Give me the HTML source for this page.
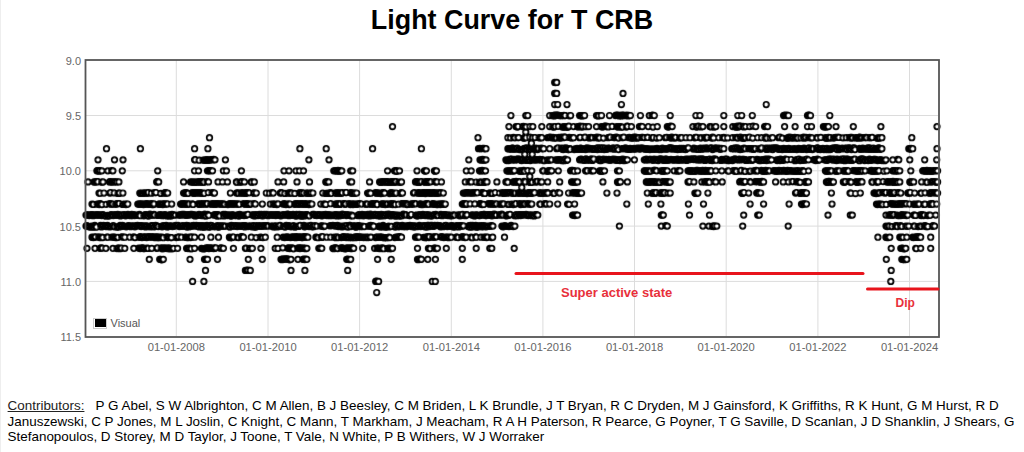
<!DOCTYPE html>
<html><head><meta charset="utf-8"><style>
html,body{margin:0;padding:0;background:#fff;}
body{width:1024px;height:452px;position:relative;overflow:hidden;font-family:'Liberation Sans',sans-serif;}
</style></head><body>
<div style="position:absolute;left:0;top:0;width:1px;height:452px;background:#eee"></div>
<svg width="1024" height="452" style="position:absolute;left:0;top:0"><defs><filter id="bl" filterUnits="userSpaceOnUse" x="60" y="50" width="900" height="300"><feConvolveMatrix order="3" kernelMatrix="0 1 0 1 12 1 0 1 0" divisor="16" edgeMode="none"/></filter></defs><line x1="176.3" y1="60" x2="176.3" y2="336" stroke="#dcdcdc" stroke-width="1"/><line x1="268.0" y1="60" x2="268.0" y2="336" stroke="#dcdcdc" stroke-width="1"/><line x1="359.6" y1="60" x2="359.6" y2="336" stroke="#dcdcdc" stroke-width="1"/><line x1="451.3" y1="60" x2="451.3" y2="336" stroke="#dcdcdc" stroke-width="1"/><line x1="542.9" y1="60" x2="542.9" y2="336" stroke="#dcdcdc" stroke-width="1"/><line x1="634.5" y1="60" x2="634.5" y2="336" stroke="#dcdcdc" stroke-width="1"/><line x1="726.2" y1="60" x2="726.2" y2="336" stroke="#dcdcdc" stroke-width="1"/><line x1="817.9" y1="60" x2="817.9" y2="336" stroke="#dcdcdc" stroke-width="1"/><line x1="909.5" y1="60" x2="909.5" y2="336" stroke="#dcdcdc" stroke-width="1"/><line x1="86" y1="115.5" x2="938" y2="115.5" stroke="#dcdcdc" stroke-width="1"/><line x1="86" y1="170.8" x2="938" y2="170.8" stroke="#dcdcdc" stroke-width="1"/><line x1="86" y1="226.1" x2="938" y2="226.1" stroke="#dcdcdc" stroke-width="1"/><line x1="86" y1="281.4" x2="938" y2="281.4" stroke="#dcdcdc" stroke-width="1"/><g fill="#fff" stroke="#000" stroke-width="1.95" filter="url(#bl)"><circle cx="86.0" cy="215.1" r="2.65"/><circle cx="86.0" cy="226.1" r="2.65"/><circle cx="86.7" cy="225.5" r="2.65"/><circle cx="87.0" cy="248.3" r="2.65"/><circle cx="87.4" cy="214.9" r="2.65"/><circle cx="87.8" cy="226.1" r="2.65"/><circle cx="87.9" cy="214.8" r="2.65"/><circle cx="88.0" cy="181.9" r="2.65"/><circle cx="88.5" cy="226.5" r="2.65"/><circle cx="89.2" cy="215.5" r="2.65"/><circle cx="89.3" cy="226.8" r="2.65"/><circle cx="90.2" cy="215.4" r="2.65"/><circle cx="90.7" cy="227.0" r="2.65"/><circle cx="91.1" cy="214.7" r="2.65"/><circle cx="91.6" cy="226.1" r="2.65"/><circle cx="92.0" cy="204.0" r="2.65"/><circle cx="92.0" cy="237.2" r="2.65"/><circle cx="92.3" cy="214.6" r="2.65"/><circle cx="92.7" cy="237.3" r="2.65"/><circle cx="92.8" cy="226.9" r="2.65"/><circle cx="93.1" cy="215.7" r="2.65"/><circle cx="93.4" cy="237.5" r="2.65"/><circle cx="93.5" cy="204.4" r="2.65"/><circle cx="93.8" cy="227.0" r="2.65"/><circle cx="94.0" cy="181.9" r="2.65"/><circle cx="94.1" cy="214.9" r="2.65"/><circle cx="94.6" cy="237.2" r="2.65"/><circle cx="94.8" cy="225.4" r="2.65"/><circle cx="94.8" cy="182.0" r="2.65"/><circle cx="95.0" cy="248.3" r="2.65"/><circle cx="95.6" cy="215.0" r="2.65"/><circle cx="95.6" cy="236.8" r="2.65"/><circle cx="95.8" cy="226.7" r="2.65"/><circle cx="96.1" cy="181.5" r="2.65"/><circle cx="96.6" cy="227.0" r="2.65"/><circle cx="96.9" cy="170.8" r="2.65"/><circle cx="96.9" cy="214.7" r="2.65"/><circle cx="97.1" cy="181.8" r="2.65"/><circle cx="97.2" cy="204.0" r="2.65"/><circle cx="97.5" cy="170.5" r="2.65"/><circle cx="97.5" cy="215.1" r="2.65"/><circle cx="97.9" cy="181.7" r="2.65"/><circle cx="98.0" cy="159.8" r="2.65"/><circle cx="98.1" cy="170.7" r="2.65"/><circle cx="98.2" cy="215.0" r="2.65"/><circle cx="98.4" cy="204.0" r="2.65"/><circle cx="98.8" cy="236.9" r="2.65"/><circle cx="99.0" cy="193.0" r="2.65"/><circle cx="99.2" cy="214.9" r="2.65"/><circle cx="99.2" cy="204.5" r="2.65"/><circle cx="99.3" cy="171.2" r="2.65"/><circle cx="99.6" cy="237.6" r="2.65"/><circle cx="99.8" cy="170.6" r="2.65"/><circle cx="100.0" cy="248.3" r="2.65"/><circle cx="100.2" cy="193.2" r="2.65"/><circle cx="100.2" cy="203.7" r="2.65"/><circle cx="100.5" cy="214.9" r="2.65"/><circle cx="100.6" cy="225.4" r="2.65"/><circle cx="100.8" cy="204.2" r="2.65"/><circle cx="101.0" cy="247.9" r="2.65"/><circle cx="101.0" cy="237.6" r="2.65"/><circle cx="101.5" cy="226.9" r="2.65"/><circle cx="101.7" cy="215.5" r="2.65"/><circle cx="101.8" cy="182.2" r="2.65"/><circle cx="101.9" cy="204.5" r="2.65"/><circle cx="101.9" cy="170.8" r="2.65"/><circle cx="102.0" cy="237.0" r="2.65"/><circle cx="102.3" cy="248.1" r="2.65"/><circle cx="102.8" cy="237.5" r="2.65"/><circle cx="102.8" cy="214.7" r="2.65"/><circle cx="102.9" cy="225.7" r="2.65"/><circle cx="103.0" cy="181.9" r="2.65"/><circle cx="103.5" cy="225.4" r="2.65"/><circle cx="103.6" cy="215.0" r="2.65"/><circle cx="104.0" cy="193.0" r="2.65"/><circle cx="105.0" cy="225.9" r="2.65"/><circle cx="105.0" cy="215.8" r="2.65"/><circle cx="105.5" cy="226.2" r="2.65"/><circle cx="105.9" cy="248.3" r="2.65"/><circle cx="106.0" cy="215.9" r="2.65"/><circle cx="106.1" cy="226.3" r="2.65"/><circle cx="106.2" cy="204.3" r="2.65"/><circle cx="106.5" cy="148.7" r="2.65"/><circle cx="106.9" cy="237.0" r="2.65"/><circle cx="106.9" cy="226.7" r="2.65"/><circle cx="107.4" cy="215.3" r="2.65"/><circle cx="107.5" cy="225.4" r="2.65"/><circle cx="107.9" cy="170.8" r="2.65"/><circle cx="107.9" cy="237.2" r="2.65"/><circle cx="108.3" cy="226.4" r="2.65"/><circle cx="108.4" cy="216.0" r="2.65"/><circle cx="109.5" cy="203.6" r="2.65"/><circle cx="109.5" cy="181.9" r="2.65"/><circle cx="109.7" cy="215.7" r="2.65"/><circle cx="109.8" cy="226.8" r="2.65"/><circle cx="109.9" cy="193.0" r="2.65"/><circle cx="110.1" cy="181.7" r="2.65"/><circle cx="110.7" cy="192.5" r="2.65"/><circle cx="110.7" cy="203.9" r="2.65"/><circle cx="111.0" cy="214.6" r="2.65"/><circle cx="111.1" cy="226.6" r="2.65"/><circle cx="111.6" cy="204.2" r="2.65"/><circle cx="111.6" cy="182.0" r="2.65"/><circle cx="111.7" cy="170.6" r="2.65"/><circle cx="111.9" cy="237.2" r="2.65"/><circle cx="112.0" cy="214.9" r="2.65"/><circle cx="112.6" cy="226.3" r="2.65"/><circle cx="112.9" cy="181.8" r="2.65"/><circle cx="112.9" cy="170.8" r="2.65"/><circle cx="112.9" cy="248.3" r="2.65"/><circle cx="113.0" cy="204.0" r="2.65"/><circle cx="113.3" cy="225.5" r="2.65"/><circle cx="113.3" cy="215.5" r="2.65"/><circle cx="113.4" cy="237.1" r="2.65"/><circle cx="114.1" cy="181.8" r="2.65"/><circle cx="114.2" cy="192.9" r="2.65"/><circle cx="114.4" cy="226.8" r="2.65"/><circle cx="114.5" cy="159.8" r="2.65"/><circle cx="114.8" cy="214.6" r="2.65"/><circle cx="114.8" cy="237.2" r="2.65"/><circle cx="115.4" cy="181.8" r="2.65"/><circle cx="115.5" cy="237.5" r="2.65"/><circle cx="115.7" cy="215.2" r="2.65"/><circle cx="115.8" cy="204.3" r="2.65"/><circle cx="116.8" cy="181.9" r="2.65"/><circle cx="116.8" cy="237.6" r="2.65"/><circle cx="116.9" cy="203.7" r="2.65"/><circle cx="116.9" cy="227.0" r="2.65"/><circle cx="117.0" cy="248.5" r="2.65"/><circle cx="117.1" cy="215.3" r="2.65"/><circle cx="117.7" cy="226.8" r="2.65"/><circle cx="117.7" cy="214.3" r="2.65"/><circle cx="118.0" cy="237.3" r="2.65"/><circle cx="118.1" cy="203.6" r="2.65"/><circle cx="118.1" cy="193.4" r="2.65"/><circle cx="118.4" cy="247.9" r="2.65"/><circle cx="118.8" cy="215.0" r="2.65"/><circle cx="118.9" cy="181.9" r="2.65"/><circle cx="119.0" cy="226.9" r="2.65"/><circle cx="119.0" cy="193.2" r="2.65"/><circle cx="119.3" cy="203.5" r="2.65"/><circle cx="119.7" cy="193.0" r="2.65"/><circle cx="119.7" cy="214.8" r="2.65"/><circle cx="119.8" cy="248.7" r="2.65"/><circle cx="120.1" cy="225.3" r="2.65"/><circle cx="120.4" cy="215.9" r="2.65"/><circle cx="120.8" cy="248.3" r="2.65"/><circle cx="121.2" cy="226.6" r="2.65"/><circle cx="121.5" cy="215.0" r="2.65"/><circle cx="121.6" cy="248.0" r="2.65"/><circle cx="121.7" cy="236.8" r="2.65"/><circle cx="121.8" cy="225.7" r="2.65"/><circle cx="122.3" cy="215.1" r="2.65"/><circle cx="122.3" cy="170.8" r="2.65"/><circle cx="122.4" cy="225.4" r="2.65"/><circle cx="122.7" cy="204.4" r="2.65"/><circle cx="122.9" cy="193.0" r="2.65"/><circle cx="123.0" cy="159.8" r="2.65"/><circle cx="123.1" cy="237.1" r="2.65"/><circle cx="123.5" cy="204.4" r="2.65"/><circle cx="123.7" cy="226.2" r="2.65"/><circle cx="123.8" cy="215.2" r="2.65"/><circle cx="124.3" cy="214.5" r="2.65"/><circle cx="124.8" cy="237.2" r="2.65"/><circle cx="124.8" cy="248.3" r="2.65"/><circle cx="124.9" cy="204.1" r="2.65"/><circle cx="125.2" cy="226.3" r="2.65"/><circle cx="125.6" cy="215.8" r="2.65"/><circle cx="126.0" cy="204.5" r="2.65"/><circle cx="126.2" cy="226.8" r="2.65"/><circle cx="126.7" cy="204.0" r="2.65"/><circle cx="126.9" cy="215.0" r="2.65"/><circle cx="127.2" cy="226.3" r="2.65"/><circle cx="127.8" cy="204.0" r="2.65"/><circle cx="127.9" cy="214.3" r="2.65"/><circle cx="128.3" cy="225.6" r="2.65"/><circle cx="129.1" cy="215.4" r="2.65"/><circle cx="129.1" cy="226.1" r="2.65"/><circle cx="129.6" cy="226.2" r="2.65"/><circle cx="129.8" cy="237.2" r="2.65"/><circle cx="130.5" cy="215.7" r="2.65"/><circle cx="130.7" cy="226.7" r="2.65"/><circle cx="131.1" cy="215.2" r="2.65"/><circle cx="131.8" cy="214.3" r="2.65"/><circle cx="131.9" cy="225.8" r="2.65"/><circle cx="132.3" cy="215.5" r="2.65"/><circle cx="132.9" cy="226.2" r="2.65"/><circle cx="133.1" cy="215.0" r="2.65"/><circle cx="133.8" cy="214.5" r="2.65"/><circle cx="133.8" cy="248.3" r="2.65"/><circle cx="133.8" cy="236.9" r="2.65"/><circle cx="134.1" cy="226.1" r="2.65"/><circle cx="134.7" cy="215.5" r="2.65"/><circle cx="134.9" cy="226.8" r="2.65"/><circle cx="135.0" cy="237.6" r="2.65"/><circle cx="136.0" cy="215.3" r="2.65"/><circle cx="136.3" cy="225.7" r="2.65"/><circle cx="136.9" cy="215.2" r="2.65"/><circle cx="137.5" cy="225.3" r="2.65"/><circle cx="137.8" cy="204.0" r="2.65"/><circle cx="138.4" cy="215.4" r="2.65"/><circle cx="138.6" cy="248.1" r="2.65"/><circle cx="138.7" cy="225.9" r="2.65"/><circle cx="138.8" cy="204.1" r="2.65"/><circle cx="139.2" cy="237.3" r="2.65"/><circle cx="139.5" cy="214.4" r="2.65"/><circle cx="139.6" cy="204.0" r="2.65"/><circle cx="139.8" cy="193.0" r="2.65"/><circle cx="139.8" cy="225.5" r="2.65"/><circle cx="140.1" cy="248.5" r="2.65"/><circle cx="140.2" cy="236.7" r="2.65"/><circle cx="140.3" cy="215.7" r="2.65"/><circle cx="140.4" cy="148.7" r="2.65"/><circle cx="140.5" cy="204.2" r="2.65"/><circle cx="140.7" cy="193.4" r="2.65"/><circle cx="140.7" cy="248.1" r="2.65"/><circle cx="141.1" cy="226.5" r="2.65"/><circle cx="141.2" cy="237.0" r="2.65"/><circle cx="141.5" cy="203.8" r="2.65"/><circle cx="141.7" cy="225.6" r="2.65"/><circle cx="142.0" cy="193.1" r="2.65"/><circle cx="142.0" cy="237.6" r="2.65"/><circle cx="142.2" cy="248.2" r="2.65"/><circle cx="142.3" cy="226.4" r="2.65"/><circle cx="142.7" cy="204.3" r="2.65"/><circle cx="142.9" cy="247.8" r="2.65"/><circle cx="143.2" cy="193.4" r="2.65"/><circle cx="143.3" cy="237.2" r="2.65"/><circle cx="143.5" cy="204.5" r="2.65"/><circle cx="143.5" cy="248.6" r="2.65"/><circle cx="143.7" cy="226.2" r="2.65"/><circle cx="143.9" cy="215.8" r="2.65"/><circle cx="144.3" cy="248.6" r="2.65"/><circle cx="144.4" cy="203.8" r="2.65"/><circle cx="144.5" cy="192.8" r="2.65"/><circle cx="144.6" cy="226.2" r="2.65"/><circle cx="144.7" cy="236.8" r="2.65"/><circle cx="145.1" cy="214.7" r="2.65"/><circle cx="145.2" cy="237.2" r="2.65"/><circle cx="145.6" cy="204.3" r="2.65"/><circle cx="145.6" cy="226.9" r="2.65"/><circle cx="145.8" cy="248.3" r="2.65"/><circle cx="145.8" cy="193.1" r="2.65"/><circle cx="146.1" cy="225.9" r="2.65"/><circle cx="146.3" cy="214.7" r="2.65"/><circle cx="146.6" cy="237.6" r="2.65"/><circle cx="146.8" cy="203.7" r="2.65"/><circle cx="147.2" cy="215.6" r="2.65"/><circle cx="147.2" cy="193.1" r="2.65"/><circle cx="147.2" cy="248.1" r="2.65"/><circle cx="147.2" cy="226.2" r="2.65"/><circle cx="147.6" cy="236.8" r="2.65"/><circle cx="147.7" cy="203.8" r="2.65"/><circle cx="147.7" cy="193.0" r="2.65"/><circle cx="148.4" cy="248.4" r="2.65"/><circle cx="148.5" cy="192.5" r="2.65"/><circle cx="148.5" cy="216.0" r="2.65"/><circle cx="148.6" cy="236.9" r="2.65"/><circle cx="148.7" cy="226.6" r="2.65"/><circle cx="148.9" cy="204.3" r="2.65"/><circle cx="149.2" cy="236.9" r="2.65"/><circle cx="149.2" cy="226.5" r="2.65"/><circle cx="149.3" cy="259.3" r="2.65"/><circle cx="149.7" cy="204.3" r="2.65"/><circle cx="150.0" cy="214.2" r="2.65"/><circle cx="150.3" cy="226.2" r="2.65"/><circle cx="150.5" cy="215.2" r="2.65"/><circle cx="150.7" cy="236.8" r="2.65"/><circle cx="150.8" cy="204.2" r="2.65"/><circle cx="151.3" cy="226.8" r="2.65"/><circle cx="151.4" cy="193.2" r="2.65"/><circle cx="151.6" cy="203.6" r="2.65"/><circle cx="151.7" cy="248.3" r="2.65"/><circle cx="151.8" cy="214.8" r="2.65"/><circle cx="151.8" cy="225.5" r="2.65"/><circle cx="152.0" cy="237.0" r="2.65"/><circle cx="152.1" cy="204.5" r="2.65"/><circle cx="152.5" cy="236.9" r="2.65"/><circle cx="152.9" cy="225.5" r="2.65"/><circle cx="153.0" cy="215.2" r="2.65"/><circle cx="153.3" cy="204.5" r="2.65"/><circle cx="153.8" cy="236.8" r="2.65"/><circle cx="154.0" cy="203.9" r="2.65"/><circle cx="154.0" cy="214.3" r="2.65"/><circle cx="154.3" cy="226.8" r="2.65"/><circle cx="154.5" cy="192.7" r="2.65"/><circle cx="154.8" cy="215.0" r="2.65"/><circle cx="155.2" cy="237.7" r="2.65"/><circle cx="155.6" cy="225.4" r="2.65"/><circle cx="155.8" cy="237.2" r="2.65"/><circle cx="156.0" cy="192.5" r="2.65"/><circle cx="156.4" cy="237.0" r="2.65"/><circle cx="156.7" cy="181.9" r="2.65"/><circle cx="156.7" cy="248.3" r="2.65"/><circle cx="156.9" cy="225.9" r="2.65"/><circle cx="157.3" cy="181.7" r="2.65"/><circle cx="157.4" cy="247.9" r="2.65"/><circle cx="157.5" cy="236.8" r="2.65"/><circle cx="157.7" cy="170.8" r="2.65"/><circle cx="157.9" cy="215.4" r="2.65"/><circle cx="158.0" cy="237.6" r="2.65"/><circle cx="158.3" cy="226.5" r="2.65"/><circle cx="158.5" cy="204.3" r="2.65"/><circle cx="158.7" cy="181.9" r="2.65"/><circle cx="159.0" cy="237.7" r="2.65"/><circle cx="159.0" cy="215.0" r="2.65"/><circle cx="159.4" cy="203.8" r="2.65"/><circle cx="159.7" cy="259.3" r="2.65"/><circle cx="159.7" cy="237.0" r="2.65"/><circle cx="160.2" cy="214.6" r="2.65"/><circle cx="160.6" cy="259.3" r="2.65"/><circle cx="160.6" cy="204.4" r="2.65"/><circle cx="160.8" cy="193.4" r="2.65"/><circle cx="160.9" cy="237.3" r="2.65"/><circle cx="161.0" cy="226.3" r="2.65"/><circle cx="161.3" cy="259.5" r="2.65"/><circle cx="161.3" cy="247.9" r="2.65"/><circle cx="161.3" cy="215.5" r="2.65"/><circle cx="161.8" cy="259.8" r="2.65"/><circle cx="162.0" cy="204.0" r="2.65"/><circle cx="162.1" cy="226.8" r="2.65"/><circle cx="162.1" cy="214.8" r="2.65"/><circle cx="162.1" cy="237.2" r="2.65"/><circle cx="162.2" cy="248.8" r="2.65"/><circle cx="162.8" cy="204.5" r="2.65"/><circle cx="163.0" cy="215.5" r="2.65"/><circle cx="163.1" cy="248.0" r="2.65"/><circle cx="163.2" cy="225.6" r="2.65"/><circle cx="163.3" cy="237.7" r="2.65"/><circle cx="163.3" cy="259.3" r="2.65"/><circle cx="163.4" cy="203.8" r="2.65"/><circle cx="163.6" cy="215.5" r="2.65"/><circle cx="163.8" cy="226.1" r="2.65"/><circle cx="164.1" cy="193.0" r="2.65"/><circle cx="164.2" cy="248.6" r="2.65"/><circle cx="164.8" cy="203.9" r="2.65"/><circle cx="164.9" cy="214.5" r="2.65"/><circle cx="165.0" cy="226.4" r="2.65"/><circle cx="165.0" cy="247.8" r="2.65"/><circle cx="165.0" cy="192.9" r="2.65"/><circle cx="165.6" cy="192.6" r="2.65"/><circle cx="165.6" cy="215.1" r="2.65"/><circle cx="166.2" cy="204.0" r="2.65"/><circle cx="166.2" cy="193.1" r="2.65"/><circle cx="166.2" cy="248.4" r="2.65"/><circle cx="166.2" cy="225.4" r="2.65"/><circle cx="167.0" cy="236.8" r="2.65"/><circle cx="167.0" cy="215.9" r="2.65"/><circle cx="167.3" cy="226.9" r="2.65"/><circle cx="167.5" cy="203.9" r="2.65"/><circle cx="167.5" cy="248.4" r="2.65"/><circle cx="167.7" cy="193.0" r="2.65"/><circle cx="167.8" cy="226.5" r="2.65"/><circle cx="167.9" cy="237.5" r="2.65"/><circle cx="168.2" cy="248.7" r="2.65"/><circle cx="168.3" cy="215.4" r="2.65"/><circle cx="168.7" cy="247.9" r="2.65"/><circle cx="169.0" cy="215.9" r="2.65"/><circle cx="169.3" cy="226.2" r="2.65"/><circle cx="169.4" cy="237.3" r="2.65"/><circle cx="169.5" cy="214.8" r="2.65"/><circle cx="169.6" cy="248.7" r="2.65"/><circle cx="170.2" cy="215.0" r="2.65"/><circle cx="170.3" cy="225.8" r="2.65"/><circle cx="170.5" cy="248.3" r="2.65"/><circle cx="170.8" cy="215.7" r="2.65"/><circle cx="170.9" cy="237.5" r="2.65"/><circle cx="171.3" cy="215.8" r="2.65"/><circle cx="171.3" cy="248.7" r="2.65"/><circle cx="171.5" cy="237.6" r="2.65"/><circle cx="171.5" cy="226.1" r="2.65"/><circle cx="171.7" cy="204.0" r="2.65"/><circle cx="172.0" cy="214.4" r="2.65"/><circle cx="172.4" cy="248.7" r="2.65"/><circle cx="172.5" cy="226.5" r="2.65"/><circle cx="172.6" cy="214.5" r="2.65"/><circle cx="173.6" cy="226.1" r="2.65"/><circle cx="173.7" cy="248.3" r="2.65"/><circle cx="173.7" cy="215.0" r="2.65"/><circle cx="174.6" cy="226.1" r="2.65"/><circle cx="175.6" cy="215.1" r="2.65"/><circle cx="175.8" cy="225.4" r="2.65"/><circle cx="176.3" cy="237.6" r="2.65"/><circle cx="177.2" cy="225.7" r="2.65"/><circle cx="177.6" cy="248.3" r="2.65"/><circle cx="177.7" cy="237.3" r="2.65"/><circle cx="178.0" cy="225.4" r="2.65"/><circle cx="178.6" cy="215.1" r="2.65"/><circle cx="178.8" cy="236.9" r="2.65"/><circle cx="179.4" cy="226.6" r="2.65"/><circle cx="179.8" cy="214.8" r="2.65"/><circle cx="180.6" cy="204.0" r="2.65"/><circle cx="180.6" cy="226.4" r="2.65"/><circle cx="181.1" cy="215.2" r="2.65"/><circle cx="181.5" cy="204.1" r="2.65"/><circle cx="181.6" cy="237.2" r="2.65"/><circle cx="181.8" cy="226.2" r="2.65"/><circle cx="181.9" cy="214.4" r="2.65"/><circle cx="182.0" cy="203.9" r="2.65"/><circle cx="182.5" cy="203.9" r="2.65"/><circle cx="183.0" cy="225.5" r="2.65"/><circle cx="183.1" cy="214.4" r="2.65"/><circle cx="183.4" cy="204.2" r="2.65"/><circle cx="183.6" cy="181.9" r="2.65"/><circle cx="183.6" cy="193.0" r="2.65"/><circle cx="184.1" cy="203.6" r="2.65"/><circle cx="184.3" cy="226.3" r="2.65"/><circle cx="184.4" cy="214.3" r="2.65"/><circle cx="184.8" cy="192.8" r="2.65"/><circle cx="185.2" cy="203.8" r="2.65"/><circle cx="185.2" cy="215.2" r="2.65"/><circle cx="185.5" cy="193.4" r="2.65"/><circle cx="185.5" cy="226.1" r="2.65"/><circle cx="185.6" cy="237.2" r="2.65"/><circle cx="186.0" cy="215.1" r="2.65"/><circle cx="186.1" cy="192.6" r="2.65"/><circle cx="186.2" cy="237.3" r="2.65"/><circle cx="186.5" cy="204.4" r="2.65"/><circle cx="186.6" cy="225.3" r="2.65"/><circle cx="186.6" cy="248.3" r="2.65"/><circle cx="186.7" cy="215.3" r="2.65"/><circle cx="187.0" cy="193.2" r="2.65"/><circle cx="187.0" cy="237.6" r="2.65"/><circle cx="187.1" cy="227.0" r="2.65"/><circle cx="187.2" cy="248.4" r="2.65"/><circle cx="187.6" cy="204.1" r="2.65"/><circle cx="188.1" cy="248.6" r="2.65"/><circle cx="188.1" cy="203.9" r="2.65"/><circle cx="188.2" cy="214.5" r="2.65"/><circle cx="188.2" cy="237.5" r="2.65"/><circle cx="188.3" cy="193.3" r="2.65"/><circle cx="188.3" cy="225.5" r="2.65"/><circle cx="188.7" cy="214.7" r="2.65"/><circle cx="189.1" cy="226.7" r="2.65"/><circle cx="189.2" cy="237.1" r="2.65"/><circle cx="189.2" cy="204.0" r="2.65"/><circle cx="189.4" cy="248.2" r="2.65"/><circle cx="189.4" cy="215.1" r="2.65"/><circle cx="190.0" cy="259.3" r="2.65"/><circle cx="190.2" cy="226.6" r="2.65"/><circle cx="190.5" cy="237.6" r="2.65"/><circle cx="190.6" cy="181.9" r="2.65"/><circle cx="190.7" cy="214.4" r="2.65"/><circle cx="190.8" cy="248.7" r="2.65"/><circle cx="191.4" cy="248.7" r="2.65"/><circle cx="191.5" cy="226.2" r="2.65"/><circle cx="191.7" cy="236.9" r="2.65"/><circle cx="192.0" cy="182.1" r="2.65"/><circle cx="192.0" cy="214.4" r="2.65"/><circle cx="192.2" cy="192.7" r="2.65"/><circle cx="192.3" cy="203.8" r="2.65"/><circle cx="192.6" cy="281.4" r="2.65"/><circle cx="192.8" cy="225.7" r="2.65"/><circle cx="192.9" cy="182.0" r="2.65"/><circle cx="193.1" cy="204.4" r="2.65"/><circle cx="193.3" cy="215.0" r="2.65"/><circle cx="193.5" cy="193.3" r="2.65"/><circle cx="193.7" cy="225.4" r="2.65"/><circle cx="194.1" cy="193.1" r="2.65"/><circle cx="194.2" cy="214.9" r="2.65"/><circle cx="194.2" cy="182.2" r="2.65"/><circle cx="194.6" cy="148.7" r="2.65"/><circle cx="194.6" cy="159.8" r="2.65"/><circle cx="194.6" cy="170.8" r="2.65"/><circle cx="194.6" cy="237.2" r="2.65"/><circle cx="194.6" cy="248.3" r="2.65"/><circle cx="194.8" cy="192.7" r="2.65"/><circle cx="194.9" cy="182.1" r="2.65"/><circle cx="194.9" cy="226.1" r="2.65"/><circle cx="195.0" cy="215.9" r="2.65"/><circle cx="195.2" cy="159.7" r="2.65"/><circle cx="195.4" cy="193.1" r="2.65"/><circle cx="195.7" cy="215.2" r="2.65"/><circle cx="195.9" cy="182.3" r="2.65"/><circle cx="196.1" cy="192.9" r="2.65"/><circle cx="196.3" cy="225.4" r="2.65"/><circle cx="196.3" cy="215.7" r="2.65"/><circle cx="197.1" cy="182.2" r="2.65"/><circle cx="197.3" cy="192.5" r="2.65"/><circle cx="197.5" cy="226.2" r="2.65"/><circle cx="197.6" cy="215.3" r="2.65"/><circle cx="198.1" cy="192.8" r="2.65"/><circle cx="198.1" cy="203.8" r="2.65"/><circle cx="198.2" cy="225.7" r="2.65"/><circle cx="198.5" cy="181.5" r="2.65"/><circle cx="198.5" cy="170.8" r="2.65"/><circle cx="198.8" cy="204.1" r="2.65"/><circle cx="199.0" cy="214.4" r="2.65"/><circle cx="199.1" cy="226.9" r="2.65"/><circle cx="199.2" cy="160.2" r="2.65"/><circle cx="199.3" cy="193.1" r="2.65"/><circle cx="199.4" cy="204.3" r="2.65"/><circle cx="199.7" cy="182.0" r="2.65"/><circle cx="200.0" cy="192.8" r="2.65"/><circle cx="200.2" cy="204.3" r="2.65"/><circle cx="200.2" cy="182.0" r="2.65"/><circle cx="200.2" cy="214.8" r="2.65"/><circle cx="200.5" cy="225.7" r="2.65"/><circle cx="200.7" cy="192.6" r="2.65"/><circle cx="201.0" cy="181.6" r="2.65"/><circle cx="201.1" cy="225.9" r="2.65"/><circle cx="201.2" cy="215.5" r="2.65"/><circle cx="201.5" cy="237.2" r="2.65"/><circle cx="201.5" cy="248.3" r="2.65"/><circle cx="201.6" cy="182.1" r="2.65"/><circle cx="201.6" cy="203.6" r="2.65"/><circle cx="202.0" cy="193.3" r="2.65"/><circle cx="202.1" cy="227.0" r="2.65"/><circle cx="202.2" cy="248.5" r="2.65"/><circle cx="202.4" cy="204.2" r="2.65"/><circle cx="202.6" cy="214.9" r="2.65"/><circle cx="202.9" cy="248.7" r="2.65"/><circle cx="202.9" cy="181.8" r="2.65"/><circle cx="203.0" cy="225.7" r="2.65"/><circle cx="203.1" cy="160.0" r="2.65"/><circle cx="203.5" cy="193.3" r="2.65"/><circle cx="203.5" cy="182.2" r="2.65"/><circle cx="203.5" cy="226.8" r="2.65"/><circle cx="203.6" cy="215.7" r="2.65"/><circle cx="203.7" cy="204.1" r="2.65"/><circle cx="203.9" cy="281.4" r="2.65"/><circle cx="204.0" cy="182.0" r="2.65"/><circle cx="204.0" cy="248.8" r="2.65"/><circle cx="204.1" cy="227.0" r="2.65"/><circle cx="204.3" cy="193.2" r="2.65"/><circle cx="204.5" cy="160.2" r="2.65"/><circle cx="204.5" cy="259.3" r="2.65"/><circle cx="204.6" cy="214.2" r="2.65"/><circle cx="205.0" cy="248.6" r="2.65"/><circle cx="205.0" cy="226.0" r="2.65"/><circle cx="205.0" cy="203.6" r="2.65"/><circle cx="205.2" cy="215.7" r="2.65"/><circle cx="205.4" cy="259.3" r="2.65"/><circle cx="205.4" cy="160.1" r="2.65"/><circle cx="205.5" cy="270.4" r="2.65"/><circle cx="206.0" cy="259.4" r="2.65"/><circle cx="206.0" cy="226.8" r="2.65"/><circle cx="206.1" cy="215.9" r="2.65"/><circle cx="206.2" cy="247.9" r="2.65"/><circle cx="206.3" cy="204.0" r="2.65"/><circle cx="206.3" cy="160.2" r="2.65"/><circle cx="206.9" cy="204.0" r="2.65"/><circle cx="206.9" cy="225.3" r="2.65"/><circle cx="207.1" cy="159.5" r="2.65"/><circle cx="207.2" cy="181.5" r="2.65"/><circle cx="207.4" cy="203.6" r="2.65"/><circle cx="207.4" cy="248.1" r="2.65"/><circle cx="207.5" cy="170.8" r="2.65"/><circle cx="207.5" cy="259.3" r="2.65"/><circle cx="207.6" cy="214.3" r="2.65"/><circle cx="207.9" cy="148.7" r="2.65"/><circle cx="208.0" cy="226.4" r="2.65"/><circle cx="208.0" cy="160.3" r="2.65"/><circle cx="208.3" cy="192.6" r="2.65"/><circle cx="208.3" cy="247.9" r="2.65"/><circle cx="208.5" cy="181.9" r="2.65"/><circle cx="208.6" cy="226.9" r="2.65"/><circle cx="208.8" cy="215.3" r="2.65"/><circle cx="208.9" cy="170.5" r="2.65"/><circle cx="208.9" cy="248.5" r="2.65"/><circle cx="209.5" cy="160.1" r="2.65"/><circle cx="209.5" cy="137.7" r="2.65"/><circle cx="209.5" cy="170.8" r="2.65"/><circle cx="209.6" cy="227.0" r="2.65"/><circle cx="210.0" cy="159.8" r="2.65"/><circle cx="210.4" cy="247.9" r="2.65"/><circle cx="210.7" cy="225.4" r="2.65"/><circle cx="210.7" cy="170.5" r="2.65"/><circle cx="210.8" cy="204.0" r="2.65"/><circle cx="210.9" cy="237.2" r="2.65"/><circle cx="211.5" cy="159.5" r="2.65"/><circle cx="211.5" cy="248.0" r="2.65"/><circle cx="211.6" cy="204.2" r="2.65"/><circle cx="211.9" cy="225.5" r="2.65"/><circle cx="212.1" cy="192.6" r="2.65"/><circle cx="212.5" cy="170.8" r="2.65"/><circle cx="212.6" cy="248.4" r="2.65"/><circle cx="212.6" cy="159.7" r="2.65"/><circle cx="213.0" cy="203.7" r="2.65"/><circle cx="213.2" cy="159.7" r="2.65"/><circle cx="213.4" cy="226.7" r="2.65"/><circle cx="213.5" cy="192.9" r="2.65"/><circle cx="213.6" cy="248.6" r="2.65"/><circle cx="213.6" cy="215.0" r="2.65"/><circle cx="213.7" cy="159.4" r="2.65"/><circle cx="214.0" cy="203.9" r="2.65"/><circle cx="214.3" cy="248.1" r="2.65"/><circle cx="214.5" cy="193.0" r="2.65"/><circle cx="214.8" cy="204.4" r="2.65"/><circle cx="214.8" cy="226.5" r="2.65"/><circle cx="214.8" cy="248.2" r="2.65"/><circle cx="214.9" cy="214.7" r="2.65"/><circle cx="215.0" cy="159.8" r="2.65"/><circle cx="215.6" cy="204.1" r="2.65"/><circle cx="215.8" cy="247.8" r="2.65"/><circle cx="216.2" cy="226.7" r="2.65"/><circle cx="216.3" cy="214.7" r="2.65"/><circle cx="216.4" cy="203.6" r="2.65"/><circle cx="217.0" cy="216.0" r="2.65"/><circle cx="217.2" cy="203.6" r="2.65"/><circle cx="217.3" cy="225.6" r="2.65"/><circle cx="217.5" cy="259.3" r="2.65"/><circle cx="217.7" cy="214.5" r="2.65"/><circle cx="218.0" cy="181.9" r="2.65"/><circle cx="218.2" cy="226.8" r="2.65"/><circle cx="218.3" cy="203.9" r="2.65"/><circle cx="218.5" cy="237.2" r="2.65"/><circle cx="218.9" cy="215.2" r="2.65"/><circle cx="218.9" cy="227.0" r="2.65"/><circle cx="219.5" cy="225.8" r="2.65"/><circle cx="219.6" cy="203.9" r="2.65"/><circle cx="219.8" cy="215.9" r="2.65"/><circle cx="220.4" cy="248.2" r="2.65"/><circle cx="221.0" cy="225.9" r="2.65"/><circle cx="221.1" cy="203.9" r="2.65"/><circle cx="221.3" cy="247.8" r="2.65"/><circle cx="221.7" cy="204.2" r="2.65"/><circle cx="222.3" cy="226.2" r="2.65"/><circle cx="222.5" cy="181.9" r="2.65"/><circle cx="222.7" cy="203.9" r="2.65"/><circle cx="223.3" cy="226.1" r="2.65"/><circle cx="223.3" cy="214.3" r="2.65"/><circle cx="223.4" cy="170.8" r="2.65"/><circle cx="223.4" cy="248.3" r="2.65"/><circle cx="223.9" cy="215.9" r="2.65"/><circle cx="224.0" cy="204.0" r="2.65"/><circle cx="224.0" cy="226.2" r="2.65"/><circle cx="224.8" cy="204.3" r="2.65"/><circle cx="225.2" cy="214.3" r="2.65"/><circle cx="225.4" cy="159.8" r="2.65"/><circle cx="225.4" cy="226.1" r="2.65"/><circle cx="226.1" cy="215.1" r="2.65"/><circle cx="226.4" cy="170.8" r="2.65"/><circle cx="227.2" cy="215.6" r="2.65"/><circle cx="227.4" cy="181.9" r="2.65"/><circle cx="227.9" cy="204.5" r="2.65"/><circle cx="228.4" cy="226.1" r="2.65"/><circle cx="228.5" cy="214.9" r="2.65"/><circle cx="229.1" cy="204.0" r="2.65"/><circle cx="229.3" cy="215.0" r="2.65"/><circle cx="229.4" cy="237.2" r="2.65"/><circle cx="229.4" cy="226.7" r="2.65"/><circle cx="229.8" cy="203.7" r="2.65"/><circle cx="230.0" cy="226.9" r="2.65"/><circle cx="230.2" cy="237.7" r="2.65"/><circle cx="230.3" cy="215.8" r="2.65"/><circle cx="230.4" cy="193.0" r="2.65"/><circle cx="231.0" cy="203.8" r="2.65"/><circle cx="231.1" cy="237.5" r="2.65"/><circle cx="231.4" cy="225.3" r="2.65"/><circle cx="231.4" cy="216.0" r="2.65"/><circle cx="231.6" cy="204.1" r="2.65"/><circle cx="231.7" cy="237.6" r="2.65"/><circle cx="231.9" cy="214.8" r="2.65"/><circle cx="232.0" cy="225.7" r="2.65"/><circle cx="232.5" cy="237.1" r="2.65"/><circle cx="232.5" cy="214.9" r="2.65"/><circle cx="232.6" cy="203.8" r="2.65"/><circle cx="233.2" cy="204.0" r="2.65"/><circle cx="233.3" cy="226.0" r="2.65"/><circle cx="233.4" cy="248.3" r="2.65"/><circle cx="233.5" cy="237.0" r="2.65"/><circle cx="233.9" cy="203.8" r="2.65"/><circle cx="233.9" cy="215.1" r="2.65"/><circle cx="234.2" cy="226.2" r="2.65"/><circle cx="234.9" cy="204.1" r="2.65"/><circle cx="235.1" cy="215.5" r="2.65"/><circle cx="235.6" cy="225.6" r="2.65"/><circle cx="235.9" cy="215.5" r="2.65"/><circle cx="236.0" cy="203.8" r="2.65"/><circle cx="236.4" cy="181.9" r="2.65"/><circle cx="236.4" cy="193.0" r="2.65"/><circle cx="236.7" cy="225.9" r="2.65"/><circle cx="236.9" cy="182.2" r="2.65"/><circle cx="237.0" cy="215.3" r="2.65"/><circle cx="237.2" cy="226.5" r="2.65"/><circle cx="237.3" cy="204.1" r="2.65"/><circle cx="237.4" cy="192.8" r="2.65"/><circle cx="237.6" cy="237.4" r="2.65"/><circle cx="237.6" cy="214.8" r="2.65"/><circle cx="238.2" cy="204.0" r="2.65"/><circle cx="238.5" cy="193.2" r="2.65"/><circle cx="238.5" cy="237.6" r="2.65"/><circle cx="238.6" cy="225.8" r="2.65"/><circle cx="238.9" cy="216.0" r="2.65"/><circle cx="239.4" cy="226.2" r="2.65"/><circle cx="239.5" cy="204.2" r="2.65"/><circle cx="239.7" cy="214.4" r="2.65"/><circle cx="240.0" cy="182.0" r="2.65"/><circle cx="240.6" cy="226.0" r="2.65"/><circle cx="240.8" cy="182.0" r="2.65"/><circle cx="240.9" cy="215.4" r="2.65"/><circle cx="241.1" cy="192.9" r="2.65"/><circle cx="241.3" cy="236.7" r="2.65"/><circle cx="241.4" cy="170.8" r="2.65"/><circle cx="241.4" cy="226.1" r="2.65"/><circle cx="241.9" cy="193.1" r="2.65"/><circle cx="241.9" cy="215.2" r="2.65"/><circle cx="242.1" cy="181.6" r="2.65"/><circle cx="242.3" cy="236.9" r="2.65"/><circle cx="242.6" cy="226.4" r="2.65"/><circle cx="242.7" cy="192.9" r="2.65"/><circle cx="243.1" cy="215.4" r="2.65"/><circle cx="243.2" cy="225.5" r="2.65"/><circle cx="243.4" cy="237.2" r="2.65"/><circle cx="243.5" cy="203.6" r="2.65"/><circle cx="243.9" cy="225.6" r="2.65"/><circle cx="244.0" cy="192.8" r="2.65"/><circle cx="244.1" cy="215.6" r="2.65"/><circle cx="244.4" cy="181.9" r="2.65"/><circle cx="244.7" cy="215.0" r="2.65"/><circle cx="244.7" cy="226.9" r="2.65"/><circle cx="245.0" cy="204.3" r="2.65"/><circle cx="245.4" cy="193.4" r="2.65"/><circle cx="245.4" cy="248.3" r="2.65"/><circle cx="245.4" cy="270.4" r="2.65"/><circle cx="245.5" cy="225.6" r="2.65"/><circle cx="245.6" cy="215.2" r="2.65"/><circle cx="246.0" cy="192.9" r="2.65"/><circle cx="246.1" cy="248.1" r="2.65"/><circle cx="246.4" cy="203.7" r="2.65"/><circle cx="246.5" cy="270.4" r="2.65"/><circle cx="246.5" cy="215.0" r="2.65"/><circle cx="246.7" cy="226.3" r="2.65"/><circle cx="246.8" cy="192.5" r="2.65"/><circle cx="247.0" cy="270.3" r="2.65"/><circle cx="247.4" cy="203.5" r="2.65"/><circle cx="248.0" cy="226.5" r="2.65"/><circle cx="248.0" cy="214.4" r="2.65"/><circle cx="248.1" cy="270.2" r="2.65"/><circle cx="248.2" cy="192.6" r="2.65"/><circle cx="248.3" cy="259.3" r="2.65"/><circle cx="248.3" cy="204.4" r="2.65"/><circle cx="249.1" cy="226.4" r="2.65"/><circle cx="249.3" cy="192.8" r="2.65"/><circle cx="249.4" cy="204.4" r="2.65"/><circle cx="249.4" cy="248.3" r="2.65"/><circle cx="249.7" cy="225.9" r="2.65"/><circle cx="250.3" cy="270.4" r="2.65"/><circle cx="250.4" cy="248.6" r="2.65"/><circle cx="250.5" cy="226.4" r="2.65"/><circle cx="250.8" cy="203.9" r="2.65"/><circle cx="251.3" cy="181.9" r="2.65"/><circle cx="251.3" cy="237.2" r="2.65"/><circle cx="251.8" cy="226.8" r="2.65"/><circle cx="251.8" cy="182.2" r="2.65"/><circle cx="252.3" cy="214.9" r="2.65"/><circle cx="252.3" cy="248.3" r="2.65"/><circle cx="252.7" cy="226.2" r="2.65"/><circle cx="253.4" cy="214.9" r="2.65"/><circle cx="253.4" cy="225.5" r="2.65"/><circle cx="253.7" cy="193.2" r="2.65"/><circle cx="253.9" cy="215.8" r="2.65"/><circle cx="254.1" cy="203.6" r="2.65"/><circle cx="254.3" cy="192.9" r="2.65"/><circle cx="254.3" cy="181.9" r="2.65"/><circle cx="254.4" cy="227.0" r="2.65"/><circle cx="254.7" cy="215.0" r="2.65"/><circle cx="255.2" cy="215.8" r="2.65"/><circle cx="255.3" cy="204.0" r="2.65"/><circle cx="255.8" cy="227.0" r="2.65"/><circle cx="256.0" cy="214.6" r="2.65"/><circle cx="256.2" cy="237.6" r="2.65"/><circle cx="256.3" cy="193.0" r="2.65"/><circle cx="256.3" cy="225.5" r="2.65"/><circle cx="257.3" cy="215.0" r="2.65"/><circle cx="257.7" cy="226.4" r="2.65"/><circle cx="258.0" cy="215.6" r="2.65"/><circle cx="258.6" cy="226.0" r="2.65"/><circle cx="259.4" cy="214.4" r="2.65"/><circle cx="259.7" cy="225.7" r="2.65"/><circle cx="260.3" cy="237.2" r="2.65"/><circle cx="260.8" cy="215.5" r="2.65"/><circle cx="260.9" cy="248.3" r="2.65"/><circle cx="261.0" cy="226.3" r="2.65"/><circle cx="261.5" cy="214.3" r="2.65"/><circle cx="261.7" cy="237.4" r="2.65"/><circle cx="261.8" cy="226.3" r="2.65"/><circle cx="262.1" cy="215.6" r="2.65"/><circle cx="262.3" cy="204.0" r="2.65"/><circle cx="262.3" cy="259.3" r="2.65"/><circle cx="262.9" cy="237.6" r="2.65"/><circle cx="263.0" cy="215.8" r="2.65"/><circle cx="263.2" cy="225.6" r="2.65"/><circle cx="264.2" cy="214.4" r="2.65"/><circle cx="264.2" cy="225.8" r="2.65"/><circle cx="265.1" cy="214.6" r="2.65"/><circle cx="265.2" cy="226.2" r="2.65"/><circle cx="265.3" cy="237.2" r="2.65"/><circle cx="265.9" cy="225.6" r="2.65"/><circle cx="266.3" cy="193.0" r="2.65"/><circle cx="266.3" cy="214.4" r="2.65"/><circle cx="267.1" cy="215.2" r="2.65"/><circle cx="267.2" cy="225.7" r="2.65"/><circle cx="268.1" cy="215.7" r="2.65"/><circle cx="268.3" cy="226.1" r="2.65"/><circle cx="269.3" cy="214.8" r="2.65"/><circle cx="269.5" cy="193.2" r="2.65"/><circle cx="270.3" cy="204.0" r="2.65"/><circle cx="270.8" cy="214.8" r="2.65"/><circle cx="271.3" cy="226.1" r="2.65"/><circle cx="271.4" cy="214.9" r="2.65"/><circle cx="272.3" cy="192.5" r="2.65"/><circle cx="272.5" cy="214.8" r="2.65"/><circle cx="272.5" cy="226.1" r="2.65"/><circle cx="273.1" cy="215.2" r="2.65"/><circle cx="273.2" cy="203.8" r="2.65"/><circle cx="273.3" cy="193.0" r="2.65"/><circle cx="273.5" cy="226.9" r="2.65"/><circle cx="273.9" cy="215.3" r="2.65"/><circle cx="274.5" cy="226.0" r="2.65"/><circle cx="274.6" cy="204.4" r="2.65"/><circle cx="275.0" cy="214.6" r="2.65"/><circle cx="275.1" cy="226.8" r="2.65"/><circle cx="275.2" cy="248.3" r="2.65"/><circle cx="275.7" cy="215.6" r="2.65"/><circle cx="275.9" cy="225.8" r="2.65"/><circle cx="276.1" cy="204.0" r="2.65"/><circle cx="276.5" cy="215.0" r="2.65"/><circle cx="276.9" cy="204.5" r="2.65"/><circle cx="277.2" cy="214.5" r="2.65"/><circle cx="277.2" cy="237.2" r="2.65"/><circle cx="277.4" cy="226.8" r="2.65"/><circle cx="277.9" cy="214.8" r="2.65"/><circle cx="278.0" cy="181.9" r="2.65"/><circle cx="278.0" cy="248.4" r="2.65"/><circle cx="278.1" cy="203.8" r="2.65"/><circle cx="278.5" cy="226.2" r="2.65"/><circle cx="279.0" cy="226.6" r="2.65"/><circle cx="279.1" cy="214.9" r="2.65"/><circle cx="280.0" cy="215.6" r="2.65"/><circle cx="280.1" cy="225.3" r="2.65"/><circle cx="280.2" cy="193.0" r="2.65"/><circle cx="280.9" cy="192.6" r="2.65"/><circle cx="281.0" cy="215.8" r="2.65"/><circle cx="281.0" cy="259.3" r="2.65"/><circle cx="281.8" cy="192.8" r="2.65"/><circle cx="281.9" cy="259.7" r="2.65"/><circle cx="282.4" cy="215.1" r="2.65"/><circle cx="282.8" cy="247.8" r="2.65"/><circle cx="282.9" cy="258.9" r="2.65"/><circle cx="282.9" cy="204.1" r="2.65"/><circle cx="283.0" cy="226.4" r="2.65"/><circle cx="283.2" cy="237.2" r="2.65"/><circle cx="283.3" cy="214.7" r="2.65"/><circle cx="283.7" cy="181.9" r="2.65"/><circle cx="284.0" cy="170.8" r="2.65"/><circle cx="284.2" cy="259.3" r="2.65"/><circle cx="284.3" cy="203.7" r="2.65"/><circle cx="284.5" cy="226.4" r="2.65"/><circle cx="284.6" cy="237.5" r="2.65"/><circle cx="284.7" cy="214.8" r="2.65"/><circle cx="284.9" cy="193.4" r="2.65"/><circle cx="285.0" cy="227.0" r="2.65"/><circle cx="285.3" cy="204.3" r="2.65"/><circle cx="285.4" cy="258.9" r="2.65"/><circle cx="285.7" cy="215.1" r="2.65"/><circle cx="285.9" cy="237.1" r="2.65"/><circle cx="286.0" cy="204.5" r="2.65"/><circle cx="286.3" cy="214.8" r="2.65"/><circle cx="286.3" cy="225.3" r="2.65"/><circle cx="286.6" cy="258.9" r="2.65"/><circle cx="287.2" cy="236.8" r="2.65"/><circle cx="287.2" cy="204.4" r="2.65"/><circle cx="287.3" cy="225.6" r="2.65"/><circle cx="287.4" cy="214.2" r="2.65"/><circle cx="287.8" cy="248.2" r="2.65"/><circle cx="287.9" cy="226.3" r="2.65"/><circle cx="287.9" cy="259.1" r="2.65"/><circle cx="288.1" cy="193.2" r="2.65"/><circle cx="288.2" cy="237.4" r="2.65"/><circle cx="288.3" cy="214.3" r="2.65"/><circle cx="288.4" cy="203.9" r="2.65"/><circle cx="288.8" cy="259.4" r="2.65"/><circle cx="288.9" cy="247.9" r="2.65"/><circle cx="289.0" cy="170.8" r="2.65"/><circle cx="289.0" cy="215.7" r="2.65"/><circle cx="289.1" cy="225.6" r="2.65"/><circle cx="289.1" cy="204.5" r="2.65"/><circle cx="289.3" cy="237.4" r="2.65"/><circle cx="289.5" cy="192.9" r="2.65"/><circle cx="289.6" cy="259.8" r="2.65"/><circle cx="289.7" cy="248.5" r="2.65"/><circle cx="289.8" cy="214.6" r="2.65"/><circle cx="290.1" cy="204.0" r="2.65"/><circle cx="290.2" cy="226.5" r="2.65"/><circle cx="290.5" cy="237.6" r="2.65"/><circle cx="290.6" cy="192.8" r="2.65"/><circle cx="290.6" cy="214.8" r="2.65"/><circle cx="290.9" cy="248.0" r="2.65"/><circle cx="291.0" cy="259.3" r="2.65"/><circle cx="291.0" cy="270.4" r="2.65"/><circle cx="291.0" cy="226.5" r="2.65"/><circle cx="291.5" cy="237.2" r="2.65"/><circle cx="291.8" cy="193.2" r="2.65"/><circle cx="291.9" cy="215.4" r="2.65"/><circle cx="292.3" cy="237.0" r="2.65"/><circle cx="292.3" cy="247.9" r="2.65"/><circle cx="292.4" cy="226.7" r="2.65"/><circle cx="293.1" cy="214.4" r="2.65"/><circle cx="293.5" cy="236.9" r="2.65"/><circle cx="293.5" cy="248.8" r="2.65"/><circle cx="293.5" cy="225.7" r="2.65"/><circle cx="293.7" cy="214.7" r="2.65"/><circle cx="294.5" cy="237.4" r="2.65"/><circle cx="294.5" cy="204.3" r="2.65"/><circle cx="294.8" cy="193.4" r="2.65"/><circle cx="295.0" cy="227.0" r="2.65"/><circle cx="295.0" cy="237.1" r="2.65"/><circle cx="295.1" cy="215.2" r="2.65"/><circle cx="295.4" cy="203.7" r="2.65"/><circle cx="295.6" cy="237.7" r="2.65"/><circle cx="295.8" cy="216.0" r="2.65"/><circle cx="296.0" cy="170.8" r="2.65"/><circle cx="296.3" cy="226.5" r="2.65"/><circle cx="296.5" cy="236.7" r="2.65"/><circle cx="296.6" cy="204.2" r="2.65"/><circle cx="296.6" cy="214.3" r="2.65"/><circle cx="297.0" cy="181.9" r="2.65"/><circle cx="297.4" cy="237.4" r="2.65"/><circle cx="297.4" cy="215.7" r="2.65"/><circle cx="297.6" cy="226.1" r="2.65"/><circle cx="297.6" cy="203.7" r="2.65"/><circle cx="297.7" cy="248.2" r="2.65"/><circle cx="297.9" cy="259.3" r="2.65"/><circle cx="298.4" cy="237.0" r="2.65"/><circle cx="298.5" cy="214.8" r="2.65"/><circle cx="298.6" cy="204.0" r="2.65"/><circle cx="298.9" cy="226.4" r="2.65"/><circle cx="299.0" cy="247.9" r="2.65"/><circle cx="299.3" cy="204.3" r="2.65"/><circle cx="299.3" cy="192.8" r="2.65"/><circle cx="299.3" cy="214.4" r="2.65"/><circle cx="299.5" cy="170.8" r="2.65"/><circle cx="299.6" cy="237.2" r="2.65"/><circle cx="299.9" cy="248.5" r="2.65"/><circle cx="299.9" cy="148.7" r="2.65"/><circle cx="300.0" cy="192.9" r="2.65"/><circle cx="300.3" cy="225.3" r="2.65"/><circle cx="300.6" cy="203.6" r="2.65"/><circle cx="300.7" cy="216.0" r="2.65"/><circle cx="300.7" cy="236.8" r="2.65"/><circle cx="300.7" cy="193.3" r="2.65"/><circle cx="300.8" cy="247.9" r="2.65"/><circle cx="301.4" cy="193.2" r="2.65"/><circle cx="301.7" cy="237.5" r="2.65"/><circle cx="301.7" cy="204.0" r="2.65"/><circle cx="301.8" cy="214.7" r="2.65"/><circle cx="302.0" cy="248.3" r="2.65"/><circle cx="302.1" cy="192.9" r="2.65"/><circle cx="302.4" cy="216.0" r="2.65"/><circle cx="302.5" cy="237.6" r="2.65"/><circle cx="302.8" cy="203.7" r="2.65"/><circle cx="302.9" cy="259.3" r="2.65"/><circle cx="303.3" cy="204.3" r="2.65"/><circle cx="303.4" cy="248.0" r="2.65"/><circle cx="303.5" cy="170.8" r="2.65"/><circle cx="303.5" cy="214.8" r="2.65"/><circle cx="303.7" cy="236.7" r="2.65"/><circle cx="303.9" cy="259.2" r="2.65"/><circle cx="303.9" cy="193.0" r="2.65"/><circle cx="303.9" cy="225.4" r="2.65"/><circle cx="304.5" cy="215.9" r="2.65"/><circle cx="304.5" cy="226.8" r="2.65"/><circle cx="304.6" cy="237.2" r="2.65"/><circle cx="304.7" cy="204.1" r="2.65"/><circle cx="304.7" cy="248.0" r="2.65"/><circle cx="304.7" cy="259.5" r="2.65"/><circle cx="304.9" cy="270.4" r="2.65"/><circle cx="305.1" cy="215.3" r="2.65"/><circle cx="305.1" cy="226.6" r="2.65"/><circle cx="305.5" cy="236.9" r="2.65"/><circle cx="305.5" cy="248.7" r="2.65"/><circle cx="305.8" cy="259.1" r="2.65"/><circle cx="305.8" cy="203.7" r="2.65"/><circle cx="306.1" cy="226.3" r="2.65"/><circle cx="306.1" cy="214.5" r="2.65"/><circle cx="306.6" cy="204.4" r="2.65"/><circle cx="306.6" cy="236.8" r="2.65"/><circle cx="306.8" cy="214.5" r="2.65"/><circle cx="306.9" cy="193.0" r="2.65"/><circle cx="306.9" cy="248.3" r="2.65"/><circle cx="306.9" cy="259.3" r="2.65"/><circle cx="307.4" cy="193.2" r="2.65"/><circle cx="307.5" cy="226.2" r="2.65"/><circle cx="307.7" cy="204.3" r="2.65"/><circle cx="307.8" cy="215.0" r="2.65"/><circle cx="307.9" cy="237.2" r="2.65"/><circle cx="308.5" cy="226.0" r="2.65"/><circle cx="308.8" cy="193.4" r="2.65"/><circle cx="308.9" cy="159.8" r="2.65"/><circle cx="308.9" cy="204.5" r="2.65"/><circle cx="309.0" cy="215.8" r="2.65"/><circle cx="309.1" cy="226.5" r="2.65"/><circle cx="309.5" cy="181.9" r="2.65"/><circle cx="309.5" cy="203.9" r="2.65"/><circle cx="309.5" cy="215.7" r="2.65"/><circle cx="310.2" cy="193.3" r="2.65"/><circle cx="310.2" cy="203.8" r="2.65"/><circle cx="310.3" cy="226.2" r="2.65"/><circle cx="310.9" cy="225.4" r="2.65"/><circle cx="311.0" cy="192.8" r="2.65"/><circle cx="311.9" cy="204.0" r="2.65"/><circle cx="312.3" cy="226.8" r="2.65"/><circle cx="312.8" cy="214.4" r="2.65"/><circle cx="312.9" cy="193.0" r="2.65"/><circle cx="313.6" cy="226.7" r="2.65"/><circle cx="314.1" cy="214.4" r="2.65"/><circle cx="314.9" cy="225.6" r="2.65"/><circle cx="315.5" cy="215.4" r="2.65"/><circle cx="315.9" cy="237.2" r="2.65"/><circle cx="316.7" cy="215.6" r="2.65"/><circle cx="316.7" cy="237.3" r="2.65"/><circle cx="316.9" cy="226.1" r="2.65"/><circle cx="317.3" cy="215.4" r="2.65"/><circle cx="317.9" cy="214.5" r="2.65"/><circle cx="318.1" cy="237.7" r="2.65"/><circle cx="318.6" cy="214.9" r="2.65"/><circle cx="318.8" cy="248.3" r="2.65"/><circle cx="319.6" cy="214.9" r="2.65"/><circle cx="320.1" cy="248.1" r="2.65"/><circle cx="320.2" cy="214.8" r="2.65"/><circle cx="320.8" cy="204.0" r="2.65"/><circle cx="320.8" cy="226.1" r="2.65"/><circle cx="321.2" cy="236.9" r="2.65"/><circle cx="321.6" cy="215.8" r="2.65"/><circle cx="321.7" cy="225.8" r="2.65"/><circle cx="321.8" cy="248.3" r="2.65"/><circle cx="322.0" cy="237.4" r="2.65"/><circle cx="322.6" cy="236.7" r="2.65"/><circle cx="322.6" cy="215.6" r="2.65"/><circle cx="322.6" cy="226.0" r="2.65"/><circle cx="322.8" cy="193.0" r="2.65"/><circle cx="323.2" cy="214.6" r="2.65"/><circle cx="323.6" cy="226.5" r="2.65"/><circle cx="323.8" cy="204.1" r="2.65"/><circle cx="324.6" cy="214.8" r="2.65"/><circle cx="324.7" cy="204.1" r="2.65"/><circle cx="324.8" cy="226.1" r="2.65"/><circle cx="325.6" cy="214.4" r="2.65"/><circle cx="325.7" cy="204.4" r="2.65"/><circle cx="325.8" cy="181.9" r="2.65"/><circle cx="325.9" cy="193.4" r="2.65"/><circle cx="326.2" cy="148.7" r="2.65"/><circle cx="326.4" cy="182.0" r="2.65"/><circle cx="326.8" cy="237.2" r="2.65"/><circle cx="326.9" cy="215.6" r="2.65"/><circle cx="327.0" cy="193.4" r="2.65"/><circle cx="327.4" cy="181.8" r="2.65"/><circle cx="327.7" cy="193.4" r="2.65"/><circle cx="327.8" cy="214.5" r="2.65"/><circle cx="328.8" cy="181.9" r="2.65"/><circle cx="328.9" cy="214.9" r="2.65"/><circle cx="329.0" cy="159.8" r="2.65"/><circle cx="329.2" cy="193.2" r="2.65"/><circle cx="329.6" cy="215.7" r="2.65"/><circle cx="329.7" cy="225.8" r="2.65"/><circle cx="330.6" cy="192.7" r="2.65"/><circle cx="330.6" cy="203.7" r="2.65"/><circle cx="330.8" cy="237.2" r="2.65"/><circle cx="330.9" cy="214.8" r="2.65"/><circle cx="331.2" cy="225.6" r="2.65"/><circle cx="331.4" cy="193.3" r="2.65"/><circle cx="331.9" cy="225.5" r="2.65"/><circle cx="331.9" cy="215.5" r="2.65"/><circle cx="332.8" cy="215.4" r="2.65"/><circle cx="332.8" cy="248.3" r="2.65"/><circle cx="332.9" cy="225.3" r="2.65"/><circle cx="333.7" cy="248.7" r="2.65"/><circle cx="333.8" cy="170.8" r="2.65"/><circle cx="333.9" cy="225.6" r="2.65"/><circle cx="334.1" cy="215.6" r="2.65"/><circle cx="334.4" cy="237.1" r="2.65"/><circle cx="334.7" cy="247.9" r="2.65"/><circle cx="335.0" cy="204.1" r="2.65"/><circle cx="335.0" cy="214.7" r="2.65"/><circle cx="335.2" cy="170.7" r="2.65"/><circle cx="335.3" cy="192.8" r="2.65"/><circle cx="335.3" cy="226.1" r="2.65"/><circle cx="335.5" cy="247.8" r="2.65"/><circle cx="335.7" cy="204.3" r="2.65"/><circle cx="335.8" cy="237.7" r="2.65"/><circle cx="336.1" cy="193.3" r="2.65"/><circle cx="336.3" cy="214.7" r="2.65"/><circle cx="336.4" cy="225.5" r="2.65"/><circle cx="336.6" cy="248.2" r="2.65"/><circle cx="336.7" cy="171.2" r="2.65"/><circle cx="336.9" cy="203.8" r="2.65"/><circle cx="337.0" cy="236.8" r="2.65"/><circle cx="337.0" cy="215.9" r="2.65"/><circle cx="337.5" cy="170.5" r="2.65"/><circle cx="337.5" cy="192.6" r="2.65"/><circle cx="337.5" cy="225.4" r="2.65"/><circle cx="337.7" cy="248.5" r="2.65"/><circle cx="338.0" cy="170.4" r="2.65"/><circle cx="338.1" cy="203.9" r="2.65"/><circle cx="338.3" cy="215.1" r="2.65"/><circle cx="338.3" cy="226.6" r="2.65"/><circle cx="338.4" cy="237.6" r="2.65"/><circle cx="338.6" cy="204.2" r="2.65"/><circle cx="338.7" cy="193.1" r="2.65"/><circle cx="338.9" cy="170.9" r="2.65"/><circle cx="339.3" cy="204.1" r="2.65"/><circle cx="339.3" cy="193.3" r="2.65"/><circle cx="339.3" cy="214.9" r="2.65"/><circle cx="339.4" cy="171.0" r="2.65"/><circle cx="339.8" cy="226.3" r="2.65"/><circle cx="339.9" cy="204.4" r="2.65"/><circle cx="339.9" cy="215.8" r="2.65"/><circle cx="340.3" cy="192.8" r="2.65"/><circle cx="340.4" cy="226.5" r="2.65"/><circle cx="340.4" cy="203.8" r="2.65"/><circle cx="340.5" cy="170.9" r="2.65"/><circle cx="340.6" cy="215.4" r="2.65"/><circle cx="341.0" cy="226.0" r="2.65"/><circle cx="341.0" cy="247.8" r="2.65"/><circle cx="341.3" cy="237.6" r="2.65"/><circle cx="341.5" cy="193.3" r="2.65"/><circle cx="341.8" cy="170.8" r="2.65"/><circle cx="341.9" cy="215.4" r="2.65"/><circle cx="342.0" cy="226.8" r="2.65"/><circle cx="342.4" cy="247.9" r="2.65"/><circle cx="342.4" cy="192.7" r="2.65"/><circle cx="342.4" cy="214.2" r="2.65"/><circle cx="342.6" cy="236.8" r="2.65"/><circle cx="343.1" cy="237.4" r="2.65"/><circle cx="343.2" cy="226.6" r="2.65"/><circle cx="343.2" cy="248.4" r="2.65"/><circle cx="343.6" cy="203.6" r="2.65"/><circle cx="343.7" cy="214.5" r="2.65"/><circle cx="343.9" cy="236.7" r="2.65"/><circle cx="344.3" cy="203.8" r="2.65"/><circle cx="344.3" cy="225.9" r="2.65"/><circle cx="344.6" cy="248.7" r="2.65"/><circle cx="345.0" cy="214.5" r="2.65"/><circle cx="345.2" cy="204.3" r="2.65"/><circle cx="345.4" cy="226.5" r="2.65"/><circle cx="345.4" cy="237.3" r="2.65"/><circle cx="345.5" cy="248.8" r="2.65"/><circle cx="345.7" cy="192.5" r="2.65"/><circle cx="345.8" cy="203.8" r="2.65"/><circle cx="346.2" cy="237.5" r="2.65"/><circle cx="346.3" cy="248.1" r="2.65"/><circle cx="346.4" cy="215.5" r="2.65"/><circle cx="346.4" cy="192.5" r="2.65"/><circle cx="346.7" cy="259.3" r="2.65"/><circle cx="346.7" cy="225.5" r="2.65"/><circle cx="347.1" cy="236.9" r="2.65"/><circle cx="347.4" cy="214.7" r="2.65"/><circle cx="347.6" cy="247.9" r="2.65"/><circle cx="347.7" cy="270.4" r="2.65"/><circle cx="347.8" cy="259.2" r="2.65"/><circle cx="348.0" cy="237.2" r="2.65"/><circle cx="348.0" cy="227.0" r="2.65"/><circle cx="348.6" cy="215.4" r="2.65"/><circle cx="348.8" cy="248.4" r="2.65"/><circle cx="349.1" cy="203.6" r="2.65"/><circle cx="349.2" cy="259.5" r="2.65"/><circle cx="349.2" cy="237.7" r="2.65"/><circle cx="349.5" cy="225.3" r="2.65"/><circle cx="349.6" cy="248.2" r="2.65"/><circle cx="349.7" cy="181.9" r="2.65"/><circle cx="349.9" cy="215.1" r="2.65"/><circle cx="350.2" cy="225.3" r="2.65"/><circle cx="350.4" cy="204.5" r="2.65"/><circle cx="350.6" cy="248.5" r="2.65"/><circle cx="350.6" cy="237.1" r="2.65"/><circle cx="350.7" cy="170.8" r="2.65"/><circle cx="350.7" cy="259.3" r="2.65"/><circle cx="350.7" cy="215.8" r="2.65"/><circle cx="350.8" cy="192.7" r="2.65"/><circle cx="350.9" cy="226.6" r="2.65"/><circle cx="351.0" cy="204.3" r="2.65"/><circle cx="351.2" cy="247.8" r="2.65"/><circle cx="351.7" cy="193.3" r="2.65"/><circle cx="351.7" cy="215.2" r="2.65"/><circle cx="351.7" cy="181.9" r="2.65"/><circle cx="351.9" cy="248.6" r="2.65"/><circle cx="351.9" cy="237.7" r="2.65"/><circle cx="352.4" cy="203.9" r="2.65"/><circle cx="352.5" cy="193.1" r="2.65"/><circle cx="352.6" cy="247.8" r="2.65"/><circle cx="352.7" cy="170.8" r="2.65"/><circle cx="352.7" cy="215.9" r="2.65"/><circle cx="353.0" cy="204.5" r="2.65"/><circle cx="353.1" cy="237.5" r="2.65"/><circle cx="353.5" cy="193.4" r="2.65"/><circle cx="353.7" cy="225.9" r="2.65"/><circle cx="353.7" cy="248.3" r="2.65"/><circle cx="353.9" cy="204.0" r="2.65"/><circle cx="354.3" cy="193.3" r="2.65"/><circle cx="354.6" cy="237.2" r="2.65"/><circle cx="354.6" cy="225.9" r="2.65"/><circle cx="354.9" cy="193.1" r="2.65"/><circle cx="355.1" cy="237.2" r="2.65"/><circle cx="355.2" cy="204.0" r="2.65"/><circle cx="355.6" cy="237.7" r="2.65"/><circle cx="355.6" cy="227.0" r="2.65"/><circle cx="356.1" cy="204.4" r="2.65"/><circle cx="356.3" cy="226.9" r="2.65"/><circle cx="356.7" cy="193.0" r="2.65"/><circle cx="357.0" cy="236.7" r="2.65"/><circle cx="357.3" cy="204.1" r="2.65"/><circle cx="357.4" cy="226.2" r="2.65"/><circle cx="357.5" cy="215.5" r="2.65"/><circle cx="358.2" cy="225.6" r="2.65"/><circle cx="358.3" cy="237.4" r="2.65"/><circle cx="358.4" cy="203.8" r="2.65"/><circle cx="358.8" cy="214.5" r="2.65"/><circle cx="359.3" cy="236.8" r="2.65"/><circle cx="359.3" cy="225.8" r="2.65"/><circle cx="359.7" cy="203.6" r="2.65"/><circle cx="360.0" cy="215.7" r="2.65"/><circle cx="360.4" cy="226.7" r="2.65"/><circle cx="360.5" cy="237.2" r="2.65"/><circle cx="361.5" cy="215.4" r="2.65"/><circle cx="361.7" cy="204.0" r="2.65"/><circle cx="361.7" cy="226.2" r="2.65"/><circle cx="361.8" cy="237.2" r="2.65"/><circle cx="362.1" cy="214.3" r="2.65"/><circle cx="362.5" cy="226.5" r="2.65"/><circle cx="362.7" cy="248.3" r="2.65"/><circle cx="362.8" cy="237.4" r="2.65"/><circle cx="363.0" cy="214.7" r="2.65"/><circle cx="363.5" cy="215.8" r="2.65"/><circle cx="363.7" cy="237.5" r="2.65"/><circle cx="363.7" cy="226.3" r="2.65"/><circle cx="364.5" cy="226.6" r="2.65"/><circle cx="364.6" cy="215.0" r="2.65"/><circle cx="364.8" cy="237.1" r="2.65"/><circle cx="365.7" cy="204.0" r="2.65"/><circle cx="365.7" cy="214.8" r="2.65"/><circle cx="366.2" cy="204.2" r="2.65"/><circle cx="366.3" cy="237.5" r="2.65"/><circle cx="367.1" cy="237.1" r="2.65"/><circle cx="367.2" cy="215.5" r="2.65"/><circle cx="367.6" cy="204.0" r="2.65"/><circle cx="367.6" cy="193.0" r="2.65"/><circle cx="367.7" cy="237.3" r="2.65"/><circle cx="367.7" cy="214.4" r="2.65"/><circle cx="368.2" cy="237.6" r="2.65"/><circle cx="368.4" cy="215.0" r="2.65"/><circle cx="368.5" cy="193.4" r="2.65"/><circle cx="368.6" cy="226.2" r="2.65"/><circle cx="369.2" cy="192.8" r="2.65"/><circle cx="369.4" cy="226.1" r="2.65"/><circle cx="369.6" cy="181.9" r="2.65"/><circle cx="369.7" cy="215.9" r="2.65"/><circle cx="369.7" cy="237.4" r="2.65"/><circle cx="370.4" cy="214.2" r="2.65"/><circle cx="370.6" cy="225.4" r="2.65"/><circle cx="370.7" cy="193.2" r="2.65"/><circle cx="370.8" cy="204.2" r="2.65"/><circle cx="371.0" cy="237.1" r="2.65"/><circle cx="371.0" cy="215.1" r="2.65"/><circle cx="371.4" cy="226.3" r="2.65"/><circle cx="371.5" cy="204.2" r="2.65"/><circle cx="372.1" cy="225.7" r="2.65"/><circle cx="372.2" cy="215.2" r="2.65"/><circle cx="372.6" cy="148.7" r="2.65"/><circle cx="372.7" cy="203.6" r="2.65"/><circle cx="373.0" cy="215.5" r="2.65"/><circle cx="373.0" cy="226.8" r="2.65"/><circle cx="373.5" cy="204.1" r="2.65"/><circle cx="373.7" cy="226.2" r="2.65"/><circle cx="374.1" cy="204.2" r="2.65"/><circle cx="374.2" cy="215.0" r="2.65"/><circle cx="374.6" cy="248.3" r="2.65"/><circle cx="375.0" cy="214.3" r="2.65"/><circle cx="375.4" cy="203.8" r="2.65"/><circle cx="375.5" cy="192.5" r="2.65"/><circle cx="375.6" cy="237.6" r="2.65"/><circle cx="375.7" cy="281.4" r="2.65"/><circle cx="376.1" cy="214.5" r="2.65"/><circle cx="376.3" cy="281.0" r="2.65"/><circle cx="376.3" cy="237.2" r="2.65"/><circle cx="376.4" cy="193.2" r="2.65"/><circle cx="376.7" cy="292.5" r="2.65"/><circle cx="376.7" cy="203.6" r="2.65"/><circle cx="377.0" cy="193.0" r="2.65"/><circle cx="377.1" cy="248.1" r="2.65"/><circle cx="377.2" cy="237.2" r="2.65"/><circle cx="377.3" cy="281.4" r="2.65"/><circle cx="377.3" cy="204.5" r="2.65"/><circle cx="377.4" cy="215.7" r="2.65"/><circle cx="377.6" cy="259.3" r="2.65"/><circle cx="378.3" cy="192.8" r="2.65"/><circle cx="378.4" cy="248.0" r="2.65"/><circle cx="378.4" cy="214.5" r="2.65"/><circle cx="378.6" cy="226.4" r="2.65"/><circle cx="378.6" cy="281.4" r="2.65"/><circle cx="378.7" cy="237.3" r="2.65"/><circle cx="379.3" cy="248.5" r="2.65"/><circle cx="379.5" cy="193.3" r="2.65"/><circle cx="379.6" cy="226.1" r="2.65"/><circle cx="379.6" cy="181.9" r="2.65"/><circle cx="379.7" cy="216.0" r="2.65"/><circle cx="380.1" cy="236.9" r="2.65"/><circle cx="380.2" cy="248.3" r="2.65"/><circle cx="380.2" cy="214.8" r="2.65"/><circle cx="380.4" cy="226.9" r="2.65"/><circle cx="380.9" cy="182.4" r="2.65"/><circle cx="380.9" cy="193.5" r="2.65"/><circle cx="381.0" cy="237.3" r="2.65"/><circle cx="381.0" cy="226.7" r="2.65"/><circle cx="381.1" cy="248.5" r="2.65"/><circle cx="381.3" cy="214.4" r="2.65"/><circle cx="381.6" cy="203.9" r="2.65"/><circle cx="381.6" cy="248.1" r="2.65"/><circle cx="381.8" cy="226.5" r="2.65"/><circle cx="381.8" cy="193.2" r="2.65"/><circle cx="382.1" cy="215.8" r="2.65"/><circle cx="382.2" cy="237.0" r="2.65"/><circle cx="382.4" cy="248.2" r="2.65"/><circle cx="382.4" cy="181.5" r="2.65"/><circle cx="382.5" cy="192.8" r="2.65"/><circle cx="382.5" cy="204.0" r="2.65"/><circle cx="382.9" cy="214.5" r="2.65"/><circle cx="383.0" cy="181.9" r="2.65"/><circle cx="383.1" cy="237.5" r="2.65"/><circle cx="383.1" cy="204.1" r="2.65"/><circle cx="383.1" cy="225.4" r="2.65"/><circle cx="383.2" cy="248.0" r="2.65"/><circle cx="383.7" cy="192.7" r="2.65"/><circle cx="383.8" cy="248.7" r="2.65"/><circle cx="383.9" cy="226.7" r="2.65"/><circle cx="384.0" cy="215.7" r="2.65"/><circle cx="384.2" cy="237.7" r="2.65"/><circle cx="384.2" cy="181.9" r="2.65"/><circle cx="384.6" cy="203.9" r="2.65"/><circle cx="384.7" cy="237.6" r="2.65"/><circle cx="384.7" cy="193.1" r="2.65"/><circle cx="384.9" cy="226.9" r="2.65"/><circle cx="384.9" cy="181.8" r="2.65"/><circle cx="385.1" cy="215.5" r="2.65"/><circle cx="385.3" cy="204.5" r="2.65"/><circle cx="385.6" cy="182.1" r="2.65"/><circle cx="385.9" cy="237.5" r="2.65"/><circle cx="386.4" cy="227.0" r="2.65"/><circle cx="386.5" cy="204.4" r="2.65"/><circle cx="386.5" cy="214.4" r="2.65"/><circle cx="386.6" cy="181.6" r="2.65"/><circle cx="386.7" cy="237.7" r="2.65"/><circle cx="387.3" cy="181.7" r="2.65"/><circle cx="387.6" cy="226.5" r="2.65"/><circle cx="387.6" cy="170.8" r="2.65"/><circle cx="387.7" cy="248.3" r="2.65"/><circle cx="387.7" cy="203.8" r="2.65"/><circle cx="388.0" cy="237.5" r="2.65"/><circle cx="388.0" cy="215.2" r="2.65"/><circle cx="388.5" cy="182.4" r="2.65"/><circle cx="388.6" cy="226.2" r="2.65"/><circle cx="388.7" cy="214.2" r="2.65"/><circle cx="388.8" cy="248.7" r="2.65"/><circle cx="388.9" cy="237.1" r="2.65"/><circle cx="389.3" cy="226.8" r="2.65"/><circle cx="389.4" cy="248.0" r="2.65"/><circle cx="389.5" cy="215.2" r="2.65"/><circle cx="389.6" cy="193.5" r="2.65"/><circle cx="389.8" cy="237.6" r="2.65"/><circle cx="389.9" cy="182.3" r="2.65"/><circle cx="390.3" cy="204.0" r="2.65"/><circle cx="390.5" cy="248.5" r="2.65"/><circle cx="390.5" cy="226.5" r="2.65"/><circle cx="390.6" cy="215.9" r="2.65"/><circle cx="390.9" cy="192.7" r="2.65"/><circle cx="391.0" cy="204.0" r="2.65"/><circle cx="391.1" cy="181.5" r="2.65"/><circle cx="391.2" cy="259.3" r="2.65"/><circle cx="391.3" cy="248.5" r="2.65"/><circle cx="391.6" cy="226.4" r="2.65"/><circle cx="391.6" cy="182.3" r="2.65"/><circle cx="391.8" cy="203.7" r="2.65"/><circle cx="392.0" cy="214.7" r="2.65"/><circle cx="392.0" cy="193.2" r="2.65"/><circle cx="392.5" cy="214.9" r="2.65"/><circle cx="392.5" cy="126.6" r="2.65"/><circle cx="392.5" cy="248.3" r="2.65"/><circle cx="392.7" cy="204.5" r="2.65"/><circle cx="392.8" cy="181.7" r="2.65"/><circle cx="392.8" cy="193.4" r="2.65"/><circle cx="393.2" cy="214.9" r="2.65"/><circle cx="393.3" cy="193.0" r="2.65"/><circle cx="393.4" cy="182.0" r="2.65"/><circle cx="393.5" cy="204.1" r="2.65"/><circle cx="394.0" cy="215.5" r="2.65"/><circle cx="394.0" cy="204.0" r="2.65"/><circle cx="394.2" cy="181.5" r="2.65"/><circle cx="394.5" cy="170.8" r="2.65"/><circle cx="394.6" cy="215.8" r="2.65"/><circle cx="394.7" cy="193.4" r="2.65"/><circle cx="394.8" cy="237.5" r="2.65"/><circle cx="394.8" cy="204.1" r="2.65"/><circle cx="395.1" cy="182.3" r="2.65"/><circle cx="395.2" cy="227.0" r="2.65"/><circle cx="395.3" cy="170.8" r="2.65"/><circle cx="395.4" cy="204.5" r="2.65"/><circle cx="395.8" cy="214.8" r="2.65"/><circle cx="395.9" cy="237.0" r="2.65"/><circle cx="396.0" cy="181.5" r="2.65"/><circle cx="396.2" cy="193.0" r="2.65"/><circle cx="396.2" cy="225.4" r="2.65"/><circle cx="396.2" cy="170.7" r="2.65"/><circle cx="396.3" cy="216.0" r="2.65"/><circle cx="396.8" cy="171.3" r="2.65"/><circle cx="397.3" cy="237.1" r="2.65"/><circle cx="397.3" cy="215.6" r="2.65"/><circle cx="397.5" cy="225.3" r="2.65"/><circle cx="398.0" cy="237.0" r="2.65"/><circle cx="398.6" cy="204.2" r="2.65"/><circle cx="398.7" cy="215.1" r="2.65"/><circle cx="398.8" cy="226.8" r="2.65"/><circle cx="398.9" cy="182.2" r="2.65"/><circle cx="399.2" cy="237.2" r="2.65"/><circle cx="399.5" cy="170.8" r="2.65"/><circle cx="399.7" cy="216.0" r="2.65"/><circle cx="399.8" cy="236.7" r="2.65"/><circle cx="400.2" cy="225.9" r="2.65"/><circle cx="400.3" cy="193.3" r="2.65"/><circle cx="400.4" cy="182.3" r="2.65"/><circle cx="400.9" cy="215.7" r="2.65"/><circle cx="401.4" cy="192.7" r="2.65"/><circle cx="401.5" cy="181.9" r="2.65"/><circle cx="401.5" cy="237.2" r="2.65"/><circle cx="401.7" cy="226.2" r="2.65"/><circle cx="402.0" cy="215.7" r="2.65"/><circle cx="402.1" cy="203.7" r="2.65"/><circle cx="402.3" cy="225.3" r="2.65"/><circle cx="402.5" cy="193.0" r="2.65"/><circle cx="402.6" cy="203.7" r="2.65"/><circle cx="402.9" cy="226.7" r="2.65"/><circle cx="403.2" cy="203.6" r="2.65"/><circle cx="403.3" cy="214.2" r="2.65"/><circle cx="404.2" cy="203.7" r="2.65"/><circle cx="404.4" cy="226.5" r="2.65"/><circle cx="404.4" cy="214.5" r="2.65"/><circle cx="405.1" cy="203.8" r="2.65"/><circle cx="405.3" cy="214.5" r="2.65"/><circle cx="405.6" cy="225.8" r="2.65"/><circle cx="406.2" cy="226.7" r="2.65"/><circle cx="406.4" cy="203.6" r="2.65"/><circle cx="406.4" cy="215.0" r="2.65"/><circle cx="407.0" cy="204.5" r="2.65"/><circle cx="407.2" cy="226.5" r="2.65"/><circle cx="407.9" cy="225.8" r="2.65"/><circle cx="408.1" cy="204.4" r="2.65"/><circle cx="408.9" cy="225.5" r="2.65"/><circle cx="409.2" cy="215.5" r="2.65"/><circle cx="409.9" cy="225.3" r="2.65"/><circle cx="409.9" cy="215.6" r="2.65"/><circle cx="410.8" cy="204.2" r="2.65"/><circle cx="410.9" cy="225.5" r="2.65"/><circle cx="411.3" cy="214.5" r="2.65"/><circle cx="411.5" cy="226.6" r="2.65"/><circle cx="412.0" cy="203.8" r="2.65"/><circle cx="412.3" cy="226.2" r="2.65"/><circle cx="412.7" cy="204.0" r="2.65"/><circle cx="413.4" cy="225.9" r="2.65"/><circle cx="413.5" cy="193.0" r="2.65"/><circle cx="413.8" cy="203.8" r="2.65"/><circle cx="414.2" cy="227.0" r="2.65"/><circle cx="414.5" cy="192.6" r="2.65"/><circle cx="414.9" cy="203.6" r="2.65"/><circle cx="415.1" cy="225.8" r="2.65"/><circle cx="415.5" cy="181.9" r="2.65"/><circle cx="415.5" cy="237.2" r="2.65"/><circle cx="415.7" cy="215.3" r="2.65"/><circle cx="415.9" cy="203.8" r="2.65"/><circle cx="416.1" cy="181.5" r="2.65"/><circle cx="416.2" cy="215.0" r="2.65"/><circle cx="416.5" cy="226.5" r="2.65"/><circle cx="416.5" cy="237.0" r="2.65"/><circle cx="417.0" cy="170.8" r="2.65"/><circle cx="417.1" cy="181.6" r="2.65"/><circle cx="417.3" cy="216.0" r="2.65"/><circle cx="417.5" cy="248.3" r="2.65"/><circle cx="417.5" cy="259.3" r="2.65"/><circle cx="417.7" cy="182.3" r="2.65"/><circle cx="417.8" cy="237.1" r="2.65"/><circle cx="417.8" cy="193.2" r="2.65"/><circle cx="417.9" cy="215.4" r="2.65"/><circle cx="418.0" cy="226.6" r="2.65"/><circle cx="418.1" cy="259.7" r="2.65"/><circle cx="418.6" cy="192.7" r="2.65"/><circle cx="418.6" cy="215.0" r="2.65"/><circle cx="419.0" cy="237.1" r="2.65"/><circle cx="419.1" cy="182.4" r="2.65"/><circle cx="419.2" cy="193.1" r="2.65"/><circle cx="419.3" cy="259.1" r="2.65"/><circle cx="419.3" cy="225.4" r="2.65"/><circle cx="419.4" cy="214.8" r="2.65"/><circle cx="419.7" cy="204.0" r="2.65"/><circle cx="419.9" cy="193.1" r="2.65"/><circle cx="420.1" cy="214.9" r="2.65"/><circle cx="420.3" cy="259.2" r="2.65"/><circle cx="420.3" cy="181.8" r="2.65"/><circle cx="420.6" cy="203.9" r="2.65"/><circle cx="420.6" cy="226.6" r="2.65"/><circle cx="420.9" cy="215.6" r="2.65"/><circle cx="421.2" cy="226.1" r="2.65"/><circle cx="421.2" cy="193.2" r="2.65"/><circle cx="421.3" cy="204.5" r="2.65"/><circle cx="421.4" cy="148.7" r="2.65"/><circle cx="421.4" cy="259.3" r="2.65"/><circle cx="421.5" cy="215.3" r="2.65"/><circle cx="421.7" cy="181.5" r="2.65"/><circle cx="422.0" cy="193.3" r="2.65"/><circle cx="422.3" cy="226.0" r="2.65"/><circle cx="422.5" cy="193.4" r="2.65"/><circle cx="422.8" cy="204.5" r="2.65"/><circle cx="422.9" cy="214.4" r="2.65"/><circle cx="423.1" cy="192.5" r="2.65"/><circle cx="423.3" cy="226.3" r="2.65"/><circle cx="423.6" cy="237.3" r="2.65"/><circle cx="424.1" cy="214.9" r="2.65"/><circle cx="424.1" cy="225.7" r="2.65"/><circle cx="424.1" cy="204.1" r="2.65"/><circle cx="424.3" cy="192.6" r="2.65"/><circle cx="424.4" cy="170.8" r="2.65"/><circle cx="424.7" cy="226.8" r="2.65"/><circle cx="424.7" cy="182.0" r="2.65"/><circle cx="424.8" cy="237.3" r="2.65"/><circle cx="425.2" cy="171.0" r="2.65"/><circle cx="425.2" cy="215.6" r="2.65"/><circle cx="425.2" cy="182.2" r="2.65"/><circle cx="425.3" cy="237.7" r="2.65"/><circle cx="425.3" cy="225.9" r="2.65"/><circle cx="425.4" cy="193.5" r="2.65"/><circle cx="425.6" cy="204.2" r="2.65"/><circle cx="426.2" cy="215.4" r="2.65"/><circle cx="426.2" cy="181.5" r="2.65"/><circle cx="426.2" cy="237.6" r="2.65"/><circle cx="426.4" cy="170.8" r="2.65"/><circle cx="426.7" cy="192.7" r="2.65"/><circle cx="426.7" cy="203.6" r="2.65"/><circle cx="426.7" cy="227.0" r="2.65"/><circle cx="427.1" cy="214.5" r="2.65"/><circle cx="427.2" cy="181.5" r="2.65"/><circle cx="427.3" cy="236.7" r="2.65"/><circle cx="427.3" cy="192.9" r="2.65"/><circle cx="427.4" cy="203.8" r="2.65"/><circle cx="427.5" cy="225.4" r="2.65"/><circle cx="427.8" cy="259.3" r="2.65"/><circle cx="428.1" cy="204.0" r="2.65"/><circle cx="428.1" cy="192.6" r="2.65"/><circle cx="428.2" cy="215.8" r="2.65"/><circle cx="428.2" cy="237.3" r="2.65"/><circle cx="428.3" cy="182.3" r="2.65"/><circle cx="428.4" cy="248.3" r="2.65"/><circle cx="428.5" cy="225.3" r="2.65"/><circle cx="428.7" cy="204.2" r="2.65"/><circle cx="428.7" cy="192.7" r="2.65"/><circle cx="428.9" cy="237.6" r="2.65"/><circle cx="429.2" cy="214.8" r="2.65"/><circle cx="429.2" cy="248.5" r="2.65"/><circle cx="429.5" cy="226.5" r="2.65"/><circle cx="429.5" cy="181.6" r="2.65"/><circle cx="429.6" cy="236.7" r="2.65"/><circle cx="429.7" cy="192.7" r="2.65"/><circle cx="430.1" cy="225.8" r="2.65"/><circle cx="430.2" cy="248.6" r="2.65"/><circle cx="430.3" cy="215.5" r="2.65"/><circle cx="430.7" cy="193.4" r="2.65"/><circle cx="430.7" cy="225.4" r="2.65"/><circle cx="430.9" cy="181.8" r="2.65"/><circle cx="431.5" cy="216.0" r="2.65"/><circle cx="432.1" cy="225.3" r="2.65"/><circle cx="432.1" cy="192.9" r="2.65"/><circle cx="432.3" cy="281.4" r="2.65"/><circle cx="432.3" cy="204.2" r="2.65"/><circle cx="432.8" cy="237.2" r="2.65"/><circle cx="432.9" cy="203.7" r="2.65"/><circle cx="433.0" cy="215.0" r="2.65"/><circle cx="433.2" cy="192.6" r="2.65"/><circle cx="433.4" cy="226.4" r="2.65"/><circle cx="433.5" cy="237.0" r="2.65"/><circle cx="433.8" cy="204.0" r="2.65"/><circle cx="433.8" cy="193.2" r="2.65"/><circle cx="434.3" cy="248.1" r="2.65"/><circle cx="434.3" cy="214.6" r="2.65"/><circle cx="434.4" cy="170.8" r="2.65"/><circle cx="434.6" cy="237.1" r="2.65"/><circle cx="434.7" cy="192.8" r="2.65"/><circle cx="434.8" cy="225.4" r="2.65"/><circle cx="434.9" cy="181.5" r="2.65"/><circle cx="435.0" cy="204.3" r="2.65"/><circle cx="435.0" cy="171.2" r="2.65"/><circle cx="435.1" cy="248.0" r="2.65"/><circle cx="435.3" cy="236.8" r="2.65"/><circle cx="435.3" cy="281.4" r="2.65"/><circle cx="435.4" cy="259.3" r="2.65"/><circle cx="435.5" cy="193.2" r="2.65"/><circle cx="435.8" cy="214.3" r="2.65"/><circle cx="435.8" cy="182.0" r="2.65"/><circle cx="435.9" cy="204.1" r="2.65"/><circle cx="436.2" cy="193.3" r="2.65"/><circle cx="436.2" cy="225.6" r="2.65"/><circle cx="436.3" cy="248.5" r="2.65"/><circle cx="436.4" cy="170.8" r="2.65"/><circle cx="436.5" cy="236.8" r="2.65"/><circle cx="436.6" cy="204.5" r="2.65"/><circle cx="436.7" cy="193.3" r="2.65"/><circle cx="436.8" cy="215.5" r="2.65"/><circle cx="437.0" cy="181.8" r="2.65"/><circle cx="437.4" cy="248.3" r="2.65"/><circle cx="437.5" cy="225.3" r="2.65"/><circle cx="437.5" cy="193.1" r="2.65"/><circle cx="437.8" cy="204.5" r="2.65"/><circle cx="438.2" cy="215.4" r="2.65"/><circle cx="438.5" cy="192.9" r="2.65"/><circle cx="438.6" cy="225.5" r="2.65"/><circle cx="439.2" cy="203.8" r="2.65"/><circle cx="439.5" cy="193.1" r="2.65"/><circle cx="439.8" cy="225.7" r="2.65"/><circle cx="440.4" cy="204.5" r="2.65"/><circle cx="440.5" cy="226.8" r="2.65"/><circle cx="440.7" cy="236.8" r="2.65"/><circle cx="440.9" cy="214.3" r="2.65"/><circle cx="441.0" cy="192.6" r="2.65"/><circle cx="441.4" cy="181.9" r="2.65"/><circle cx="441.4" cy="215.1" r="2.65"/><circle cx="441.7" cy="226.4" r="2.65"/><circle cx="441.8" cy="203.8" r="2.65"/><circle cx="441.8" cy="236.9" r="2.65"/><circle cx="442.1" cy="215.7" r="2.65"/><circle cx="442.4" cy="236.8" r="2.65"/><circle cx="442.8" cy="203.8" r="2.65"/><circle cx="443.1" cy="226.7" r="2.65"/><circle cx="443.3" cy="193.0" r="2.65"/><circle cx="443.6" cy="214.8" r="2.65"/><circle cx="443.8" cy="237.6" r="2.65"/><circle cx="444.1" cy="204.4" r="2.65"/><circle cx="444.2" cy="226.1" r="2.65"/><circle cx="444.6" cy="214.7" r="2.65"/><circle cx="444.9" cy="237.3" r="2.65"/><circle cx="445.1" cy="214.6" r="2.65"/><circle cx="445.2" cy="225.7" r="2.65"/><circle cx="445.3" cy="204.0" r="2.65"/><circle cx="445.9" cy="225.3" r="2.65"/><circle cx="446.1" cy="237.2" r="2.65"/><circle cx="446.3" cy="248.3" r="2.65"/><circle cx="446.5" cy="215.1" r="2.65"/><circle cx="447.3" cy="226.5" r="2.65"/><circle cx="447.3" cy="215.3" r="2.65"/><circle cx="447.4" cy="237.0" r="2.65"/><circle cx="447.9" cy="215.6" r="2.65"/><circle cx="448.3" cy="226.3" r="2.65"/><circle cx="448.6" cy="237.7" r="2.65"/><circle cx="449.0" cy="214.9" r="2.65"/><circle cx="449.3" cy="226.2" r="2.65"/><circle cx="449.5" cy="237.1" r="2.65"/><circle cx="450.4" cy="215.8" r="2.65"/><circle cx="450.6" cy="226.2" r="2.65"/><circle cx="451.3" cy="237.2" r="2.65"/><circle cx="451.7" cy="215.5" r="2.65"/><circle cx="451.8" cy="225.5" r="2.65"/><circle cx="452.2" cy="215.7" r="2.65"/><circle cx="452.6" cy="225.9" r="2.65"/><circle cx="453.3" cy="214.8" r="2.65"/><circle cx="453.4" cy="227.0" r="2.65"/><circle cx="454.3" cy="226.5" r="2.65"/><circle cx="454.8" cy="215.1" r="2.65"/><circle cx="455.0" cy="226.4" r="2.65"/><circle cx="455.8" cy="226.8" r="2.65"/><circle cx="456.3" cy="237.2" r="2.65"/><circle cx="456.7" cy="225.5" r="2.65"/><circle cx="457.0" cy="237.2" r="2.65"/><circle cx="457.6" cy="225.9" r="2.65"/><circle cx="458.1" cy="237.5" r="2.65"/><circle cx="458.1" cy="214.8" r="2.65"/><circle cx="458.8" cy="226.9" r="2.65"/><circle cx="459.6" cy="215.8" r="2.65"/><circle cx="460.1" cy="225.6" r="2.65"/><circle cx="460.1" cy="214.9" r="2.65"/><circle cx="460.6" cy="225.6" r="2.65"/><circle cx="461.3" cy="226.1" r="2.65"/><circle cx="461.3" cy="215.6" r="2.65"/><circle cx="461.8" cy="236.9" r="2.65"/><circle cx="462.3" cy="204.0" r="2.65"/><circle cx="462.3" cy="248.3" r="2.65"/><circle cx="462.3" cy="259.3" r="2.65"/><circle cx="462.4" cy="226.0" r="2.65"/><circle cx="462.6" cy="214.4" r="2.65"/><circle cx="463.0" cy="204.1" r="2.65"/><circle cx="463.0" cy="236.9" r="2.65"/><circle cx="463.3" cy="193.0" r="2.65"/><circle cx="463.6" cy="225.8" r="2.65"/><circle cx="463.8" cy="237.0" r="2.65"/><circle cx="463.8" cy="203.6" r="2.65"/><circle cx="464.4" cy="193.1" r="2.65"/><circle cx="465.0" cy="203.8" r="2.65"/><circle cx="465.1" cy="237.5" r="2.65"/><circle cx="465.3" cy="181.9" r="2.65"/><circle cx="465.3" cy="215.7" r="2.65"/><circle cx="465.8" cy="193.0" r="2.65"/><circle cx="465.8" cy="204.4" r="2.65"/><circle cx="466.3" cy="170.8" r="2.65"/><circle cx="466.3" cy="237.2" r="2.65"/><circle cx="466.4" cy="214.6" r="2.65"/><circle cx="466.5" cy="192.6" r="2.65"/><circle cx="466.6" cy="203.9" r="2.65"/><circle cx="467.0" cy="214.8" r="2.65"/><circle cx="467.8" cy="192.5" r="2.65"/><circle cx="468.2" cy="226.6" r="2.65"/><circle cx="468.8" cy="193.0" r="2.65"/><circle cx="468.8" cy="159.8" r="2.65"/><circle cx="469.0" cy="181.8" r="2.65"/><circle cx="469.0" cy="225.7" r="2.65"/><circle cx="469.6" cy="227.0" r="2.65"/><circle cx="470.2" cy="181.6" r="2.65"/><circle cx="470.2" cy="192.8" r="2.65"/><circle cx="470.2" cy="203.9" r="2.65"/><circle cx="470.7" cy="225.3" r="2.65"/><circle cx="471.2" cy="170.8" r="2.65"/><circle cx="471.2" cy="237.2" r="2.65"/><circle cx="471.4" cy="181.9" r="2.65"/><circle cx="471.6" cy="227.0" r="2.65"/><circle cx="471.6" cy="193.1" r="2.65"/><circle cx="471.9" cy="214.9" r="2.65"/><circle cx="472.2" cy="237.7" r="2.65"/><circle cx="472.5" cy="192.9" r="2.65"/><circle cx="472.7" cy="225.4" r="2.65"/><circle cx="473.2" cy="215.2" r="2.65"/><circle cx="473.7" cy="192.7" r="2.65"/><circle cx="473.9" cy="226.7" r="2.65"/><circle cx="474.5" cy="215.9" r="2.65"/><circle cx="474.6" cy="225.7" r="2.65"/><circle cx="474.6" cy="192.8" r="2.65"/><circle cx="474.8" cy="203.9" r="2.65"/><circle cx="475.1" cy="215.5" r="2.65"/><circle cx="475.6" cy="236.9" r="2.65"/><circle cx="475.7" cy="192.7" r="2.65"/><circle cx="475.7" cy="225.4" r="2.65"/><circle cx="475.9" cy="214.8" r="2.65"/><circle cx="476.2" cy="182.0" r="2.65"/><circle cx="476.2" cy="248.3" r="2.65"/><circle cx="476.3" cy="226.9" r="2.65"/><circle cx="476.4" cy="237.2" r="2.65"/><circle cx="476.5" cy="215.0" r="2.65"/><circle cx="477.0" cy="192.6" r="2.65"/><circle cx="477.1" cy="227.0" r="2.65"/><circle cx="477.5" cy="192.7" r="2.65"/><circle cx="477.8" cy="225.9" r="2.65"/><circle cx="478.0" cy="215.1" r="2.65"/><circle cx="478.0" cy="137.7" r="2.65"/><circle cx="478.4" cy="226.7" r="2.65"/><circle cx="478.5" cy="148.7" r="2.65"/><circle cx="479.0" cy="215.6" r="2.65"/><circle cx="479.3" cy="182.4" r="2.65"/><circle cx="479.5" cy="170.8" r="2.65"/><circle cx="479.7" cy="225.9" r="2.65"/><circle cx="479.7" cy="203.8" r="2.65"/><circle cx="479.8" cy="148.4" r="2.65"/><circle cx="479.9" cy="215.5" r="2.65"/><circle cx="480.0" cy="159.8" r="2.65"/><circle cx="480.1" cy="182.2" r="2.65"/><circle cx="480.3" cy="226.6" r="2.65"/><circle cx="480.3" cy="203.6" r="2.65"/><circle cx="480.6" cy="170.9" r="2.65"/><circle cx="480.7" cy="148.7" r="2.65"/><circle cx="481.0" cy="237.2" r="2.65"/><circle cx="481.1" cy="160.1" r="2.65"/><circle cx="481.3" cy="182.2" r="2.65"/><circle cx="481.3" cy="214.7" r="2.65"/><circle cx="481.4" cy="148.5" r="2.65"/><circle cx="481.4" cy="204.0" r="2.65"/><circle cx="481.5" cy="225.6" r="2.65"/><circle cx="482.0" cy="192.6" r="2.65"/><circle cx="482.1" cy="170.4" r="2.65"/><circle cx="482.1" cy="204.5" r="2.65"/><circle cx="482.2" cy="226.8" r="2.65"/><circle cx="482.5" cy="159.3" r="2.65"/><circle cx="482.5" cy="215.2" r="2.65"/><circle cx="482.6" cy="192.7" r="2.65"/><circle cx="482.7" cy="148.3" r="2.65"/><circle cx="482.9" cy="226.6" r="2.65"/><circle cx="483.3" cy="160.0" r="2.65"/><circle cx="483.5" cy="170.9" r="2.65"/><circle cx="483.6" cy="214.3" r="2.65"/><circle cx="483.6" cy="204.4" r="2.65"/><circle cx="483.8" cy="193.4" r="2.65"/><circle cx="483.9" cy="225.7" r="2.65"/><circle cx="484.0" cy="237.2" r="2.65"/><circle cx="484.0" cy="148.3" r="2.65"/><circle cx="484.0" cy="182.4" r="2.65"/><circle cx="484.3" cy="160.2" r="2.65"/><circle cx="484.4" cy="214.4" r="2.65"/><circle cx="484.6" cy="181.5" r="2.65"/><circle cx="484.6" cy="148.8" r="2.65"/><circle cx="484.9" cy="193.4" r="2.65"/><circle cx="485.1" cy="226.5" r="2.65"/><circle cx="485.3" cy="237.4" r="2.65"/><circle cx="485.5" cy="170.8" r="2.65"/><circle cx="485.6" cy="226.4" r="2.65"/><circle cx="485.6" cy="215.5" r="2.65"/><circle cx="486.0" cy="181.6" r="2.65"/><circle cx="486.0" cy="148.7" r="2.65"/><circle cx="486.0" cy="159.8" r="2.65"/><circle cx="486.1" cy="237.0" r="2.65"/><circle cx="486.1" cy="226.8" r="2.65"/><circle cx="486.3" cy="215.5" r="2.65"/><circle cx="486.6" cy="237.6" r="2.65"/><circle cx="487.0" cy="226.2" r="2.65"/><circle cx="487.0" cy="181.9" r="2.65"/><circle cx="487.5" cy="214.6" r="2.65"/><circle cx="487.6" cy="237.1" r="2.65"/><circle cx="488.3" cy="203.6" r="2.65"/><circle cx="488.4" cy="214.7" r="2.65"/><circle cx="488.4" cy="226.4" r="2.65"/><circle cx="489.6" cy="204.2" r="2.65"/><circle cx="489.7" cy="192.9" r="2.65"/><circle cx="489.7" cy="226.1" r="2.65"/><circle cx="489.7" cy="215.3" r="2.65"/><circle cx="489.8" cy="248.3" r="2.65"/><circle cx="490.4" cy="214.7" r="2.65"/><circle cx="490.7" cy="226.0" r="2.65"/><circle cx="490.9" cy="203.7" r="2.65"/><circle cx="490.9" cy="193.3" r="2.65"/><circle cx="491.0" cy="214.7" r="2.65"/><circle cx="491.5" cy="237.5" r="2.65"/><circle cx="491.5" cy="193.3" r="2.65"/><circle cx="491.6" cy="225.6" r="2.65"/><circle cx="491.6" cy="203.9" r="2.65"/><circle cx="491.8" cy="248.3" r="2.65"/><circle cx="491.9" cy="215.8" r="2.65"/><circle cx="492.6" cy="193.4" r="2.65"/><circle cx="492.7" cy="237.2" r="2.65"/><circle cx="492.8" cy="204.1" r="2.65"/><circle cx="492.9" cy="226.1" r="2.65"/><circle cx="493.1" cy="215.2" r="2.65"/><circle cx="493.9" cy="214.2" r="2.65"/><circle cx="494.0" cy="204.1" r="2.65"/><circle cx="495.2" cy="214.4" r="2.65"/><circle cx="495.2" cy="192.6" r="2.65"/><circle cx="495.3" cy="204.1" r="2.65"/><circle cx="496.0" cy="215.4" r="2.65"/><circle cx="496.5" cy="215.1" r="2.65"/><circle cx="496.7" cy="203.9" r="2.65"/><circle cx="496.9" cy="181.9" r="2.65"/><circle cx="499.5" cy="193.1" r="2.65"/><circle cx="499.6" cy="214.9" r="2.65"/><circle cx="500.1" cy="204.2" r="2.65"/><circle cx="500.1" cy="214.7" r="2.65"/><circle cx="500.9" cy="214.9" r="2.65"/><circle cx="501.2" cy="204.2" r="2.65"/><circle cx="501.8" cy="214.2" r="2.65"/><circle cx="501.9" cy="226.1" r="2.65"/><circle cx="502.4" cy="192.7" r="2.65"/><circle cx="502.5" cy="204.0" r="2.65"/><circle cx="502.9" cy="226.8" r="2.65"/><circle cx="503.0" cy="215.1" r="2.65"/><circle cx="503.6" cy="193.4" r="2.65"/><circle cx="503.7" cy="203.8" r="2.65"/><circle cx="503.9" cy="226.6" r="2.65"/><circle cx="504.5" cy="237.2" r="2.65"/><circle cx="504.8" cy="225.6" r="2.65"/><circle cx="505.1" cy="192.9" r="2.65"/><circle cx="505.8" cy="192.7" r="2.65"/><circle cx="505.9" cy="226.4" r="2.65"/><circle cx="505.9" cy="159.8" r="2.65"/><circle cx="505.9" cy="181.9" r="2.65"/><circle cx="506.1" cy="215.8" r="2.65"/><circle cx="506.5" cy="226.3" r="2.65"/><circle cx="506.8" cy="215.7" r="2.65"/><circle cx="506.8" cy="160.6" r="2.65"/><circle cx="506.9" cy="170.8" r="2.65"/><circle cx="507.3" cy="193.2" r="2.65"/><circle cx="507.3" cy="181.7" r="2.65"/><circle cx="507.4" cy="215.1" r="2.65"/><circle cx="507.6" cy="160.1" r="2.65"/><circle cx="507.8" cy="204.3" r="2.65"/><circle cx="507.8" cy="182.2" r="2.65"/><circle cx="507.9" cy="226.4" r="2.65"/><circle cx="507.9" cy="137.7" r="2.65"/><circle cx="507.9" cy="148.7" r="2.65"/><circle cx="508.0" cy="192.6" r="2.65"/><circle cx="508.0" cy="171.1" r="2.65"/><circle cx="508.0" cy="214.8" r="2.65"/><circle cx="508.7" cy="160.6" r="2.65"/><circle cx="508.8" cy="148.9" r="2.65"/><circle cx="508.9" cy="126.6" r="2.65"/><circle cx="508.9" cy="226.6" r="2.65"/><circle cx="509.0" cy="204.4" r="2.65"/><circle cx="509.2" cy="215.3" r="2.65"/><circle cx="509.2" cy="192.5" r="2.65"/><circle cx="509.2" cy="170.7" r="2.65"/><circle cx="509.5" cy="159.7" r="2.65"/><circle cx="510.0" cy="148.6" r="2.65"/><circle cx="510.1" cy="214.3" r="2.65"/><circle cx="510.2" cy="159.1" r="2.65"/><circle cx="510.4" cy="171.0" r="2.65"/><circle cx="510.4" cy="192.5" r="2.65"/><circle cx="510.4" cy="226.3" r="2.65"/><circle cx="510.5" cy="148.9" r="2.65"/><circle cx="510.6" cy="137.9" r="2.65"/><circle cx="510.9" cy="115.5" r="2.65"/><circle cx="510.9" cy="159.6" r="2.65"/><circle cx="511.1" cy="225.4" r="2.65"/><circle cx="511.2" cy="149.2" r="2.65"/><circle cx="511.5" cy="170.9" r="2.65"/><circle cx="511.7" cy="159.0" r="2.65"/><circle cx="511.7" cy="193.0" r="2.65"/><circle cx="511.8" cy="204.0" r="2.65"/><circle cx="512.2" cy="148.2" r="2.65"/><circle cx="512.4" cy="226.4" r="2.65"/><circle cx="512.6" cy="170.6" r="2.65"/><circle cx="512.8" cy="182.1" r="2.65"/><circle cx="512.8" cy="148.1" r="2.65"/><circle cx="513.0" cy="160.0" r="2.65"/><circle cx="513.1" cy="193.1" r="2.65"/><circle cx="513.3" cy="204.5" r="2.65"/><circle cx="513.3" cy="226.6" r="2.65"/><circle cx="513.4" cy="148.6" r="2.65"/><circle cx="513.5" cy="137.3" r="2.65"/><circle cx="513.6" cy="171.1" r="2.65"/><circle cx="513.9" cy="149.0" r="2.65"/><circle cx="514.0" cy="193.4" r="2.65"/><circle cx="514.1" cy="181.6" r="2.65"/><circle cx="514.2" cy="159.3" r="2.65"/><circle cx="514.2" cy="248.3" r="2.65"/><circle cx="514.5" cy="170.6" r="2.65"/><circle cx="514.5" cy="204.2" r="2.65"/><circle cx="514.7" cy="215.7" r="2.65"/><circle cx="514.7" cy="182.2" r="2.65"/><circle cx="514.9" cy="137.8" r="2.65"/><circle cx="514.9" cy="226.1" r="2.65"/><circle cx="515.1" cy="159.9" r="2.65"/><circle cx="515.2" cy="149.2" r="2.65"/><circle cx="515.3" cy="215.6" r="2.65"/><circle cx="515.4" cy="193.0" r="2.65"/><circle cx="515.7" cy="148.7" r="2.65"/><circle cx="515.9" cy="126.6" r="2.65"/><circle cx="516.0" cy="203.7" r="2.65"/><circle cx="516.1" cy="181.4" r="2.65"/><circle cx="516.1" cy="214.6" r="2.65"/><circle cx="516.1" cy="159.4" r="2.65"/><circle cx="516.8" cy="159.8" r="2.65"/><circle cx="517.2" cy="182.2" r="2.65"/><circle cx="517.2" cy="148.1" r="2.65"/><circle cx="517.4" cy="127.0" r="2.65"/><circle cx="517.4" cy="215.7" r="2.65"/><circle cx="517.9" cy="158.9" r="2.65"/><circle cx="518.0" cy="137.5" r="2.65"/><circle cx="518.1" cy="126.5" r="2.65"/><circle cx="518.3" cy="182.0" r="2.65"/><circle cx="518.3" cy="192.9" r="2.65"/><circle cx="518.6" cy="137.6" r="2.65"/><circle cx="518.7" cy="149.1" r="2.65"/><circle cx="518.8" cy="193.3" r="2.65"/><circle cx="518.9" cy="181.5" r="2.65"/><circle cx="518.9" cy="214.7" r="2.65"/><circle cx="519.3" cy="159.3" r="2.65"/><circle cx="519.4" cy="149.6" r="2.65"/><circle cx="519.4" cy="170.9" r="2.65"/><circle cx="519.6" cy="181.8" r="2.65"/><circle cx="519.7" cy="203.5" r="2.65"/><circle cx="519.9" cy="192.5" r="2.65"/><circle cx="520.0" cy="214.6" r="2.65"/><circle cx="520.3" cy="159.4" r="2.65"/><circle cx="520.4" cy="171.2" r="2.65"/><circle cx="520.6" cy="204.5" r="2.65"/><circle cx="520.6" cy="215.6" r="2.65"/><circle cx="520.8" cy="193.1" r="2.65"/><circle cx="520.8" cy="149.5" r="2.65"/><circle cx="521.1" cy="160.3" r="2.65"/><circle cx="521.1" cy="171.2" r="2.65"/><circle cx="521.3" cy="214.7" r="2.65"/><circle cx="521.6" cy="160.5" r="2.65"/><circle cx="521.8" cy="187.4" r="2.65"/><circle cx="521.9" cy="204.3" r="2.65"/><circle cx="522.0" cy="192.9" r="2.65"/><circle cx="522.1" cy="149.5" r="2.65"/><circle cx="522.2" cy="159.6" r="2.65"/><circle cx="522.2" cy="171.2" r="2.65"/><circle cx="522.4" cy="215.1" r="2.65"/><circle cx="522.6" cy="126.6" r="2.65"/><circle cx="522.7" cy="203.8" r="2.65"/><circle cx="523.0" cy="149.2" r="2.65"/><circle cx="523.4" cy="126.3" r="2.65"/><circle cx="523.4" cy="159.1" r="2.65"/><circle cx="523.5" cy="193.4" r="2.65"/><circle cx="523.5" cy="138.1" r="2.65"/><circle cx="523.5" cy="204.2" r="2.65"/><circle cx="523.6" cy="170.4" r="2.65"/><circle cx="523.7" cy="214.6" r="2.65"/><circle cx="524.0" cy="181.4" r="2.65"/><circle cx="524.3" cy="138.1" r="2.65"/><circle cx="524.3" cy="192.8" r="2.65"/><circle cx="524.3" cy="214.6" r="2.65"/><circle cx="524.4" cy="148.3" r="2.65"/><circle cx="524.4" cy="204.1" r="2.65"/><circle cx="524.8" cy="154.3" r="2.65"/><circle cx="524.9" cy="127.0" r="2.65"/><circle cx="524.9" cy="160.2" r="2.65"/><circle cx="524.9" cy="171.2" r="2.65"/><circle cx="524.9" cy="214.8" r="2.65"/><circle cx="525.0" cy="148.7" r="2.65"/><circle cx="525.1" cy="203.9" r="2.65"/><circle cx="525.1" cy="137.2" r="2.65"/><circle cx="525.3" cy="181.9" r="2.65"/><circle cx="525.7" cy="193.3" r="2.65"/><circle cx="525.7" cy="148.3" r="2.65"/><circle cx="525.7" cy="159.5" r="2.65"/><circle cx="525.8" cy="115.5" r="2.65"/><circle cx="525.8" cy="132.1" r="2.65"/><circle cx="526.1" cy="214.3" r="2.65"/><circle cx="526.1" cy="137.7" r="2.65"/><circle cx="526.2" cy="126.8" r="2.65"/><circle cx="526.5" cy="147.9" r="2.65"/><circle cx="526.8" cy="160.4" r="2.65"/><circle cx="527.0" cy="193.5" r="2.65"/><circle cx="527.2" cy="215.1" r="2.65"/><circle cx="527.2" cy="149.5" r="2.65"/><circle cx="527.7" cy="215.2" r="2.65"/><circle cx="527.8" cy="170.6" r="2.65"/><circle cx="527.8" cy="115.5" r="2.65"/><circle cx="527.8" cy="203.6" r="2.65"/><circle cx="527.8" cy="193.2" r="2.65"/><circle cx="527.9" cy="160.2" r="2.65"/><circle cx="528.3" cy="215.6" r="2.65"/><circle cx="528.6" cy="148.1" r="2.65"/><circle cx="528.9" cy="192.6" r="2.65"/><circle cx="529.1" cy="159.7" r="2.65"/><circle cx="529.1" cy="204.2" r="2.65"/><circle cx="529.2" cy="148.8" r="2.65"/><circle cx="529.4" cy="215.1" r="2.65"/><circle cx="529.4" cy="181.6" r="2.65"/><circle cx="529.8" cy="176.4" r="2.65"/><circle cx="529.9" cy="137.2" r="2.65"/><circle cx="529.9" cy="192.7" r="2.65"/><circle cx="530.0" cy="126.5" r="2.65"/><circle cx="530.1" cy="182.4" r="2.65"/><circle cx="530.1" cy="149.4" r="2.65"/><circle cx="530.3" cy="160.5" r="2.65"/><circle cx="530.5" cy="204.1" r="2.65"/><circle cx="530.5" cy="193.4" r="2.65"/><circle cx="530.9" cy="214.9" r="2.65"/><circle cx="530.9" cy="181.5" r="2.65"/><circle cx="531.1" cy="149.4" r="2.65"/><circle cx="531.1" cy="193.2" r="2.65"/><circle cx="531.4" cy="143.2" r="2.65"/><circle cx="531.7" cy="158.9" r="2.65"/><circle cx="531.8" cy="170.8" r="2.65"/><circle cx="531.8" cy="204.0" r="2.65"/><circle cx="531.9" cy="215.7" r="2.65"/><circle cx="532.2" cy="154.3" r="2.65"/><circle cx="532.3" cy="182.3" r="2.65"/><circle cx="532.6" cy="193.1" r="2.65"/><circle cx="532.6" cy="137.6" r="2.65"/><circle cx="532.6" cy="149.0" r="2.65"/><circle cx="532.8" cy="159.8" r="2.65"/><circle cx="532.8" cy="126.6" r="2.65"/><circle cx="533.2" cy="215.2" r="2.65"/><circle cx="533.9" cy="159.6" r="2.65"/><circle cx="533.9" cy="148.3" r="2.65"/><circle cx="534.0" cy="192.6" r="2.65"/><circle cx="534.3" cy="215.9" r="2.65"/><circle cx="534.6" cy="192.7" r="2.65"/><circle cx="535.0" cy="148.5" r="2.65"/><circle cx="535.1" cy="137.5" r="2.65"/><circle cx="535.2" cy="160.0" r="2.65"/><circle cx="535.6" cy="214.6" r="2.65"/><circle cx="535.7" cy="181.7" r="2.65"/><circle cx="535.9" cy="148.1" r="2.65"/><circle cx="536.2" cy="159.7" r="2.65"/><circle cx="536.3" cy="182.0" r="2.65"/><circle cx="536.5" cy="149.3" r="2.65"/><circle cx="536.5" cy="214.6" r="2.65"/><circle cx="537.0" cy="159.6" r="2.65"/><circle cx="537.6" cy="181.4" r="2.65"/><circle cx="537.6" cy="149.6" r="2.65"/><circle cx="537.8" cy="215.1" r="2.65"/><circle cx="537.9" cy="159.5" r="2.65"/><circle cx="538.8" cy="148.4" r="2.65"/><circle cx="539.1" cy="137.7" r="2.65"/><circle cx="539.2" cy="159.8" r="2.65"/><circle cx="539.3" cy="192.9" r="2.65"/><circle cx="539.8" cy="204.0" r="2.65"/><circle cx="539.9" cy="159.4" r="2.65"/><circle cx="540.0" cy="193.2" r="2.65"/><circle cx="540.3" cy="137.9" r="2.65"/><circle cx="540.4" cy="182.1" r="2.65"/><circle cx="540.6" cy="204.2" r="2.65"/><circle cx="540.6" cy="193.0" r="2.65"/><circle cx="541.0" cy="159.9" r="2.65"/><circle cx="541.3" cy="193.1" r="2.65"/><circle cx="541.4" cy="148.1" r="2.65"/><circle cx="541.8" cy="126.6" r="2.65"/><circle cx="541.8" cy="137.7" r="2.65"/><circle cx="541.8" cy="181.9" r="2.65"/><circle cx="542.2" cy="193.4" r="2.65"/><circle cx="542.3" cy="148.8" r="2.65"/><circle cx="542.4" cy="159.5" r="2.65"/><circle cx="542.7" cy="170.8" r="2.65"/><circle cx="543.7" cy="148.7" r="2.65"/><circle cx="543.7" cy="192.9" r="2.65"/><circle cx="543.7" cy="170.8" r="2.65"/><circle cx="543.7" cy="160.6" r="2.65"/><circle cx="544.4" cy="203.9" r="2.65"/><circle cx="544.7" cy="160.5" r="2.65"/><circle cx="545.0" cy="193.2" r="2.65"/><circle cx="545.3" cy="203.6" r="2.65"/><circle cx="546.4" cy="192.9" r="2.65"/><circle cx="546.6" cy="204.1" r="2.65"/><circle cx="547.2" cy="171.3" r="2.65"/><circle cx="547.3" cy="159.9" r="2.65"/><circle cx="547.4" cy="192.6" r="2.65"/><circle cx="547.7" cy="137.7" r="2.65"/><circle cx="547.7" cy="181.9" r="2.65"/><circle cx="548.0" cy="193.1" r="2.65"/><circle cx="548.2" cy="170.8" r="2.65"/><circle cx="548.7" cy="160.3" r="2.65"/><circle cx="549.2" cy="137.3" r="2.65"/><circle cx="549.4" cy="170.5" r="2.65"/><circle cx="549.7" cy="115.5" r="2.65"/><circle cx="549.7" cy="126.6" r="2.65"/><circle cx="549.7" cy="148.7" r="2.65"/><circle cx="549.7" cy="204.0" r="2.65"/><circle cx="550.2" cy="159.8" r="2.65"/><circle cx="550.3" cy="170.9" r="2.65"/><circle cx="550.3" cy="137.2" r="2.65"/><circle cx="551.7" cy="159.8" r="2.65"/><circle cx="551.7" cy="170.8" r="2.65"/><circle cx="551.7" cy="137.8" r="2.65"/><circle cx="552.8" cy="115.7" r="2.65"/><circle cx="552.8" cy="126.8" r="2.65"/><circle cx="553.0" cy="193.0" r="2.65"/><circle cx="553.0" cy="137.3" r="2.65"/><circle cx="553.6" cy="193.1" r="2.65"/><circle cx="553.8" cy="127.0" r="2.65"/><circle cx="553.8" cy="115.4" r="2.65"/><circle cx="554.0" cy="138.0" r="2.65"/><circle cx="554.3" cy="193.3" r="2.65"/><circle cx="554.4" cy="115.9" r="2.65"/><circle cx="554.7" cy="82.4" r="2.65"/><circle cx="554.7" cy="93.4" r="2.65"/><circle cx="554.7" cy="104.5" r="2.65"/><circle cx="555.0" cy="115.2" r="2.65"/><circle cx="555.3" cy="126.5" r="2.65"/><circle cx="555.3" cy="93.4" r="2.65"/><circle cx="555.4" cy="82.5" r="2.65"/><circle cx="555.4" cy="137.8" r="2.65"/><circle cx="555.7" cy="159.8" r="2.65"/><circle cx="556.3" cy="115.2" r="2.65"/><circle cx="556.5" cy="137.9" r="2.65"/><circle cx="556.6" cy="160.0" r="2.65"/><circle cx="556.7" cy="82.4" r="2.65"/><circle cx="556.7" cy="93.4" r="2.65"/><circle cx="556.7" cy="148.7" r="2.65"/><circle cx="557.5" cy="115.4" r="2.65"/><circle cx="557.7" cy="104.5" r="2.65"/><circle cx="557.7" cy="204.0" r="2.65"/><circle cx="557.9" cy="147.9" r="2.65"/><circle cx="558.0" cy="160.1" r="2.65"/><circle cx="558.0" cy="192.6" r="2.65"/><circle cx="558.0" cy="115.1" r="2.65"/><circle cx="558.3" cy="170.8" r="2.65"/><circle cx="558.3" cy="126.3" r="2.65"/><circle cx="558.6" cy="159.6" r="2.65"/><circle cx="559.1" cy="137.3" r="2.65"/><circle cx="559.2" cy="115.5" r="2.65"/><circle cx="559.7" cy="159.9" r="2.65"/><circle cx="559.7" cy="181.9" r="2.65"/><circle cx="559.7" cy="193.0" r="2.65"/><circle cx="559.7" cy="138.0" r="2.65"/><circle cx="560.3" cy="115.5" r="2.65"/><circle cx="560.9" cy="137.8" r="2.65"/><circle cx="561.1" cy="159.8" r="2.65"/><circle cx="561.2" cy="148.0" r="2.65"/><circle cx="561.6" cy="115.7" r="2.65"/><circle cx="561.8" cy="137.2" r="2.65"/><circle cx="562.0" cy="148.9" r="2.65"/><circle cx="562.3" cy="160.7" r="2.65"/><circle cx="562.4" cy="127.0" r="2.65"/><circle cx="562.7" cy="149.0" r="2.65"/><circle cx="562.7" cy="115.6" r="2.65"/><circle cx="563.1" cy="137.7" r="2.65"/><circle cx="563.3" cy="160.4" r="2.65"/><circle cx="563.3" cy="149.5" r="2.65"/><circle cx="563.4" cy="126.8" r="2.65"/><circle cx="563.9" cy="115.3" r="2.65"/><circle cx="563.9" cy="126.8" r="2.65"/><circle cx="564.0" cy="148.0" r="2.65"/><circle cx="564.1" cy="160.7" r="2.65"/><circle cx="564.3" cy="137.2" r="2.65"/><circle cx="564.5" cy="115.5" r="2.65"/><circle cx="565.0" cy="137.2" r="2.65"/><circle cx="565.1" cy="159.1" r="2.65"/><circle cx="565.2" cy="115.5" r="2.65"/><circle cx="565.2" cy="126.9" r="2.65"/><circle cx="565.3" cy="149.2" r="2.65"/><circle cx="565.9" cy="126.9" r="2.65"/><circle cx="566.1" cy="147.9" r="2.65"/><circle cx="566.3" cy="160.4" r="2.65"/><circle cx="567.0" cy="104.5" r="2.65"/><circle cx="567.2" cy="148.5" r="2.65"/><circle cx="567.2" cy="127.1" r="2.65"/><circle cx="567.6" cy="159.8" r="2.65"/><circle cx="567.6" cy="204.0" r="2.65"/><circle cx="568.1" cy="149.5" r="2.65"/><circle cx="568.1" cy="127.1" r="2.65"/><circle cx="568.6" cy="193.0" r="2.65"/><circle cx="568.8" cy="126.2" r="2.65"/><circle cx="568.8" cy="149.5" r="2.65"/><circle cx="569.1" cy="204.3" r="2.65"/><circle cx="569.3" cy="137.4" r="2.65"/><circle cx="569.3" cy="115.8" r="2.65"/><circle cx="569.9" cy="148.6" r="2.65"/><circle cx="570.4" cy="149.2" r="2.65"/><circle cx="570.6" cy="115.5" r="2.65"/><circle cx="570.6" cy="170.8" r="2.65"/><circle cx="570.8" cy="137.7" r="2.65"/><circle cx="571.5" cy="170.4" r="2.65"/><circle cx="571.6" cy="181.9" r="2.65"/><circle cx="571.8" cy="137.9" r="2.65"/><circle cx="572.3" cy="192.9" r="2.65"/><circle cx="572.5" cy="182.0" r="2.65"/><circle cx="572.6" cy="170.4" r="2.65"/><circle cx="572.6" cy="215.1" r="2.65"/><circle cx="573.5" cy="192.8" r="2.65"/><circle cx="573.6" cy="215.0" r="2.65"/><circle cx="573.6" cy="126.6" r="2.65"/><circle cx="573.6" cy="137.7" r="2.65"/><circle cx="573.8" cy="170.6" r="2.65"/><circle cx="573.9" cy="182.1" r="2.65"/><circle cx="574.2" cy="192.6" r="2.65"/><circle cx="574.3" cy="149.5" r="2.65"/><circle cx="574.5" cy="171.2" r="2.65"/><circle cx="574.6" cy="204.0" r="2.65"/><circle cx="574.8" cy="192.7" r="2.65"/><circle cx="574.8" cy="215.6" r="2.65"/><circle cx="575.0" cy="148.9" r="2.65"/><circle cx="575.3" cy="182.2" r="2.65"/><circle cx="575.6" cy="192.6" r="2.65"/><circle cx="575.9" cy="182.1" r="2.65"/><circle cx="576.1" cy="214.9" r="2.65"/><circle cx="576.2" cy="149.3" r="2.65"/><circle cx="576.6" cy="193.3" r="2.65"/><circle cx="577.0" cy="148.4" r="2.65"/><circle cx="577.6" cy="126.6" r="2.65"/><circle cx="577.6" cy="170.8" r="2.65"/><circle cx="577.6" cy="181.9" r="2.65"/><circle cx="577.6" cy="215.1" r="2.65"/><circle cx="578.0" cy="192.7" r="2.65"/><circle cx="578.2" cy="126.9" r="2.65"/><circle cx="578.4" cy="149.2" r="2.65"/><circle cx="578.9" cy="149.3" r="2.65"/><circle cx="579.1" cy="193.4" r="2.65"/><circle cx="579.4" cy="126.5" r="2.65"/><circle cx="579.6" cy="115.5" r="2.65"/><circle cx="579.6" cy="137.7" r="2.65"/><circle cx="579.6" cy="159.8" r="2.65"/><circle cx="579.8" cy="149.2" r="2.65"/><circle cx="580.0" cy="126.1" r="2.65"/><circle cx="580.2" cy="137.3" r="2.65"/><circle cx="580.3" cy="159.4" r="2.65"/><circle cx="580.3" cy="193.0" r="2.65"/><circle cx="580.5" cy="148.0" r="2.65"/><circle cx="580.8" cy="115.6" r="2.65"/><circle cx="581.1" cy="148.4" r="2.65"/><circle cx="581.2" cy="126.6" r="2.65"/><circle cx="581.3" cy="159.2" r="2.65"/><circle cx="581.6" cy="193.0" r="2.65"/><circle cx="581.8" cy="115.9" r="2.65"/><circle cx="582.1" cy="127.0" r="2.65"/><circle cx="582.3" cy="149.4" r="2.65"/><circle cx="582.4" cy="160.0" r="2.65"/><circle cx="582.7" cy="115.7" r="2.65"/><circle cx="582.8" cy="126.4" r="2.65"/><circle cx="583.0" cy="148.8" r="2.65"/><circle cx="583.9" cy="160.0" r="2.65"/><circle cx="584.3" cy="148.8" r="2.65"/><circle cx="584.5" cy="137.5" r="2.65"/><circle cx="584.6" cy="115.5" r="2.65"/><circle cx="584.8" cy="160.3" r="2.65"/><circle cx="585.0" cy="137.2" r="2.65"/><circle cx="585.5" cy="149.6" r="2.65"/><circle cx="585.6" cy="170.8" r="2.65"/><circle cx="585.9" cy="126.7" r="2.65"/><circle cx="586.0" cy="158.9" r="2.65"/><circle cx="586.3" cy="170.8" r="2.65"/><circle cx="586.9" cy="147.9" r="2.65"/><circle cx="587.3" cy="159.9" r="2.65"/><circle cx="587.4" cy="170.7" r="2.65"/><circle cx="587.6" cy="149.2" r="2.65"/><circle cx="588.0" cy="159.8" r="2.65"/><circle cx="588.6" cy="126.6" r="2.65"/><circle cx="588.8" cy="160.1" r="2.65"/><circle cx="588.8" cy="148.4" r="2.65"/><circle cx="589.2" cy="137.9" r="2.65"/><circle cx="589.7" cy="148.3" r="2.65"/><circle cx="590.0" cy="137.7" r="2.65"/><circle cx="590.3" cy="159.9" r="2.65"/><circle cx="590.8" cy="149.1" r="2.65"/><circle cx="590.9" cy="159.2" r="2.65"/><circle cx="591.0" cy="137.3" r="2.65"/><circle cx="591.0" cy="170.7" r="2.65"/><circle cx="591.5" cy="159.1" r="2.65"/><circle cx="591.8" cy="170.8" r="2.65"/><circle cx="592.3" cy="148.7" r="2.65"/><circle cx="592.5" cy="137.7" r="2.65"/><circle cx="592.5" cy="160.4" r="2.65"/><circle cx="593.5" cy="149.4" r="2.65"/><circle cx="593.5" cy="170.8" r="2.65"/><circle cx="593.8" cy="159.0" r="2.65"/><circle cx="594.7" cy="148.9" r="2.65"/><circle cx="595.4" cy="149.0" r="2.65"/><circle cx="595.5" cy="137.7" r="2.65"/><circle cx="596.5" cy="115.5" r="2.65"/><circle cx="596.5" cy="126.6" r="2.65"/><circle cx="596.8" cy="148.1" r="2.65"/><circle cx="596.9" cy="137.2" r="2.65"/><circle cx="597.4" cy="149.5" r="2.65"/><circle cx="598.0" cy="115.9" r="2.65"/><circle cx="598.1" cy="147.9" r="2.65"/><circle cx="598.3" cy="138.1" r="2.65"/><circle cx="598.3" cy="159.5" r="2.65"/><circle cx="598.9" cy="115.7" r="2.65"/><circle cx="599.0" cy="137.4" r="2.65"/><circle cx="599.1" cy="159.2" r="2.65"/><circle cx="599.3" cy="149.0" r="2.65"/><circle cx="599.5" cy="170.8" r="2.65"/><circle cx="599.7" cy="160.5" r="2.65"/><circle cx="599.7" cy="137.8" r="2.65"/><circle cx="600.4" cy="170.9" r="2.65"/><circle cx="600.5" cy="147.9" r="2.65"/><circle cx="600.6" cy="159.7" r="2.65"/><circle cx="601.1" cy="171.3" r="2.65"/><circle cx="601.1" cy="160.5" r="2.65"/><circle cx="601.3" cy="126.5" r="2.65"/><circle cx="601.4" cy="149.3" r="2.65"/><circle cx="601.5" cy="115.5" r="2.65"/><circle cx="601.9" cy="171.0" r="2.65"/><circle cx="602.4" cy="127.0" r="2.65"/><circle cx="602.5" cy="171.1" r="2.65"/><circle cx="602.6" cy="159.7" r="2.65"/><circle cx="602.8" cy="147.9" r="2.65"/><circle cx="602.9" cy="181.9" r="2.65"/><circle cx="603.3" cy="159.0" r="2.65"/><circle cx="603.5" cy="138.1" r="2.65"/><circle cx="603.8" cy="126.6" r="2.65"/><circle cx="604.2" cy="149.5" r="2.65"/><circle cx="604.5" cy="170.8" r="2.65"/><circle cx="604.7" cy="159.5" r="2.65"/><circle cx="604.8" cy="126.1" r="2.65"/><circle cx="604.9" cy="148.0" r="2.65"/><circle cx="605.5" cy="126.1" r="2.65"/><circle cx="606.0" cy="159.4" r="2.65"/><circle cx="606.2" cy="126.6" r="2.65"/><circle cx="606.2" cy="149.3" r="2.65"/><circle cx="606.9" cy="193.0" r="2.65"/><circle cx="607.2" cy="126.4" r="2.65"/><circle cx="607.5" cy="159.8" r="2.65"/><circle cx="607.5" cy="149.0" r="2.65"/><circle cx="608.1" cy="137.7" r="2.65"/><circle cx="608.1" cy="148.0" r="2.65"/><circle cx="608.2" cy="159.6" r="2.65"/><circle cx="608.3" cy="126.9" r="2.65"/><circle cx="608.9" cy="148.4" r="2.65"/><circle cx="608.9" cy="159.4" r="2.65"/><circle cx="609.3" cy="137.4" r="2.65"/><circle cx="609.4" cy="148.3" r="2.65"/><circle cx="609.5" cy="115.5" r="2.65"/><circle cx="609.9" cy="160.3" r="2.65"/><circle cx="610.3" cy="137.2" r="2.65"/><circle cx="610.6" cy="148.5" r="2.65"/><circle cx="610.6" cy="159.5" r="2.65"/><circle cx="612.1" cy="148.7" r="2.65"/><circle cx="612.1" cy="159.4" r="2.65"/><circle cx="612.2" cy="126.4" r="2.65"/><circle cx="612.7" cy="159.9" r="2.65"/><circle cx="613.2" cy="147.9" r="2.65"/><circle cx="613.6" cy="159.0" r="2.65"/><circle cx="614.0" cy="137.6" r="2.65"/><circle cx="614.1" cy="149.2" r="2.65"/><circle cx="614.7" cy="137.5" r="2.65"/><circle cx="614.9" cy="159.5" r="2.65"/><circle cx="615.3" cy="148.8" r="2.65"/><circle cx="615.5" cy="115.5" r="2.65"/><circle cx="615.6" cy="159.4" r="2.65"/><circle cx="616.0" cy="137.2" r="2.65"/><circle cx="616.1" cy="115.1" r="2.65"/><circle cx="616.1" cy="160.1" r="2.65"/><circle cx="616.6" cy="126.6" r="2.65"/><circle cx="616.7" cy="148.0" r="2.65"/><circle cx="616.7" cy="115.3" r="2.65"/><circle cx="616.8" cy="160.2" r="2.65"/><circle cx="617.0" cy="193.0" r="2.65"/><circle cx="617.3" cy="137.3" r="2.65"/><circle cx="617.3" cy="147.8" r="2.65"/><circle cx="617.5" cy="170.8" r="2.65"/><circle cx="617.5" cy="181.9" r="2.65"/><circle cx="617.6" cy="160.4" r="2.65"/><circle cx="617.9" cy="127.0" r="2.65"/><circle cx="618.1" cy="115.1" r="2.65"/><circle cx="618.2" cy="182.4" r="2.65"/><circle cx="618.5" cy="160.4" r="2.65"/><circle cx="618.5" cy="138.1" r="2.65"/><circle cx="618.6" cy="149.6" r="2.65"/><circle cx="619.0" cy="126.6" r="2.65"/><circle cx="619.2" cy="159.5" r="2.65"/><circle cx="619.2" cy="115.9" r="2.65"/><circle cx="619.4" cy="181.7" r="2.65"/><circle cx="619.4" cy="170.8" r="2.65"/><circle cx="619.4" cy="226.1" r="2.65"/><circle cx="620.0" cy="160.6" r="2.65"/><circle cx="620.2" cy="126.6" r="2.65"/><circle cx="620.4" cy="181.9" r="2.65"/><circle cx="620.5" cy="115.3" r="2.65"/><circle cx="621.1" cy="127.1" r="2.65"/><circle cx="621.4" cy="115.9" r="2.65"/><circle cx="621.4" cy="104.5" r="2.65"/><circle cx="621.5" cy="159.8" r="2.65"/><circle cx="622.0" cy="137.6" r="2.65"/><circle cx="622.0" cy="115.2" r="2.65"/><circle cx="622.3" cy="148.7" r="2.65"/><circle cx="622.4" cy="159.1" r="2.65"/><circle cx="622.5" cy="127.1" r="2.65"/><circle cx="622.8" cy="115.5" r="2.65"/><circle cx="623.0" cy="93.4" r="2.65"/><circle cx="623.0" cy="148.7" r="2.65"/><circle cx="623.1" cy="137.5" r="2.65"/><circle cx="623.2" cy="160.5" r="2.65"/><circle cx="623.5" cy="115.1" r="2.65"/><circle cx="623.8" cy="137.2" r="2.65"/><circle cx="624.1" cy="159.3" r="2.65"/><circle cx="624.4" cy="148.3" r="2.65"/><circle cx="624.4" cy="115.6" r="2.65"/><circle cx="624.8" cy="160.5" r="2.65"/><circle cx="625.1" cy="148.2" r="2.65"/><circle cx="625.6" cy="115.6" r="2.65"/><circle cx="625.8" cy="159.9" r="2.65"/><circle cx="626.1" cy="148.0" r="2.65"/><circle cx="626.4" cy="127.1" r="2.65"/><circle cx="626.7" cy="149.2" r="2.65"/><circle cx="626.8" cy="115.1" r="2.65"/><circle cx="626.8" cy="204.0" r="2.65"/><circle cx="627.1" cy="126.2" r="2.65"/><circle cx="627.4" cy="159.8" r="2.65"/><circle cx="627.4" cy="181.9" r="2.65"/><circle cx="627.6" cy="126.4" r="2.65"/><circle cx="628.0" cy="149.0" r="2.65"/><circle cx="628.1" cy="115.9" r="2.65"/><circle cx="628.4" cy="137.5" r="2.65"/><circle cx="628.9" cy="148.5" r="2.65"/><circle cx="628.9" cy="115.4" r="2.65"/><circle cx="629.2" cy="137.4" r="2.65"/><circle cx="629.5" cy="149.4" r="2.65"/><circle cx="629.9" cy="137.5" r="2.65"/><circle cx="630.2" cy="148.3" r="2.65"/><circle cx="630.4" cy="115.5" r="2.65"/><circle cx="631.2" cy="148.5" r="2.65"/><circle cx="631.3" cy="138.0" r="2.65"/><circle cx="631.4" cy="126.6" r="2.65"/><circle cx="631.9" cy="148.7" r="2.65"/><circle cx="632.7" cy="138.1" r="2.65"/><circle cx="633.2" cy="149.2" r="2.65"/><circle cx="633.9" cy="137.2" r="2.65"/><circle cx="634.0" cy="148.4" r="2.65"/><circle cx="634.4" cy="159.8" r="2.65"/><circle cx="634.8" cy="137.9" r="2.65"/><circle cx="635.4" cy="149.0" r="2.65"/><circle cx="635.6" cy="137.2" r="2.65"/><circle cx="636.0" cy="148.6" r="2.65"/><circle cx="636.3" cy="137.6" r="2.65"/><circle cx="637.0" cy="137.9" r="2.65"/><circle cx="637.1" cy="148.1" r="2.65"/><circle cx="637.8" cy="137.8" r="2.65"/><circle cx="638.5" cy="148.3" r="2.65"/><circle cx="638.9" cy="137.6" r="2.65"/><circle cx="639.3" cy="149.1" r="2.65"/><circle cx="639.4" cy="126.6" r="2.65"/><circle cx="640.0" cy="148.1" r="2.65"/><circle cx="640.4" cy="115.5" r="2.65"/><circle cx="640.8" cy="148.8" r="2.65"/><circle cx="640.8" cy="126.3" r="2.65"/><circle cx="641.6" cy="148.2" r="2.65"/><circle cx="641.8" cy="137.4" r="2.65"/><circle cx="642.3" cy="126.6" r="2.65"/><circle cx="642.8" cy="137.4" r="2.65"/><circle cx="642.8" cy="148.0" r="2.65"/><circle cx="643.5" cy="148.5" r="2.65"/><circle cx="644.3" cy="137.6" r="2.65"/><circle cx="644.3" cy="159.8" r="2.65"/><circle cx="644.3" cy="170.8" r="2.65"/><circle cx="644.7" cy="149.1" r="2.65"/><circle cx="644.8" cy="170.9" r="2.65"/><circle cx="645.4" cy="149.0" r="2.65"/><circle cx="645.5" cy="159.9" r="2.65"/><circle cx="645.8" cy="171.2" r="2.65"/><circle cx="646.1" cy="148.5" r="2.65"/><circle cx="646.3" cy="181.9" r="2.65"/><circle cx="646.3" cy="159.0" r="2.65"/><circle cx="646.8" cy="171.2" r="2.65"/><circle cx="646.9" cy="181.9" r="2.65"/><circle cx="647.0" cy="149.3" r="2.65"/><circle cx="647.2" cy="137.3" r="2.65"/><circle cx="647.3" cy="193.0" r="2.65"/><circle cx="647.7" cy="159.5" r="2.65"/><circle cx="647.8" cy="170.9" r="2.65"/><circle cx="647.8" cy="137.4" r="2.65"/><circle cx="648.0" cy="149.0" r="2.65"/><circle cx="648.0" cy="182.3" r="2.65"/><circle cx="648.3" cy="126.6" r="2.65"/><circle cx="648.3" cy="204.0" r="2.65"/><circle cx="648.3" cy="159.9" r="2.65"/><circle cx="648.7" cy="148.9" r="2.65"/><circle cx="648.9" cy="171.1" r="2.65"/><circle cx="649.3" cy="115.5" r="2.65"/><circle cx="649.3" cy="159.4" r="2.65"/><circle cx="649.4" cy="182.4" r="2.65"/><circle cx="649.5" cy="171.0" r="2.65"/><circle cx="649.9" cy="149.5" r="2.65"/><circle cx="650.1" cy="159.3" r="2.65"/><circle cx="650.2" cy="181.7" r="2.65"/><circle cx="650.7" cy="181.6" r="2.65"/><circle cx="650.7" cy="171.1" r="2.65"/><circle cx="651.0" cy="149.2" r="2.65"/><circle cx="651.3" cy="159.4" r="2.65"/><circle cx="651.7" cy="149.1" r="2.65"/><circle cx="651.8" cy="138.1" r="2.65"/><circle cx="652.0" cy="115.3" r="2.65"/><circle cx="652.1" cy="193.3" r="2.65"/><circle cx="652.1" cy="181.7" r="2.65"/><circle cx="652.7" cy="137.6" r="2.65"/><circle cx="652.7" cy="160.3" r="2.65"/><circle cx="652.8" cy="115.1" r="2.65"/><circle cx="653.0" cy="127.1" r="2.65"/><circle cx="653.0" cy="149.1" r="2.65"/><circle cx="653.3" cy="192.7" r="2.65"/><circle cx="653.4" cy="182.3" r="2.65"/><circle cx="653.5" cy="137.5" r="2.65"/><circle cx="653.8" cy="170.4" r="2.65"/><circle cx="654.1" cy="159.1" r="2.65"/><circle cx="654.2" cy="149.0" r="2.65"/><circle cx="654.3" cy="115.5" r="2.65"/><circle cx="654.4" cy="170.4" r="2.65"/><circle cx="654.4" cy="181.5" r="2.65"/><circle cx="654.6" cy="160.1" r="2.65"/><circle cx="654.7" cy="193.4" r="2.65"/><circle cx="655.0" cy="149.0" r="2.65"/><circle cx="655.2" cy="182.0" r="2.65"/><circle cx="655.3" cy="193.2" r="2.65"/><circle cx="655.5" cy="170.4" r="2.65"/><circle cx="655.5" cy="159.6" r="2.65"/><circle cx="655.9" cy="149.2" r="2.65"/><circle cx="656.2" cy="192.6" r="2.65"/><circle cx="656.3" cy="182.4" r="2.65"/><circle cx="656.7" cy="170.8" r="2.65"/><circle cx="656.7" cy="159.3" r="2.65"/><circle cx="656.7" cy="138.1" r="2.65"/><circle cx="657.0" cy="148.3" r="2.65"/><circle cx="657.3" cy="182.1" r="2.65"/><circle cx="657.3" cy="126.6" r="2.65"/><circle cx="657.5" cy="160.0" r="2.65"/><circle cx="658.0" cy="148.9" r="2.65"/><circle cx="658.2" cy="160.5" r="2.65"/><circle cx="658.7" cy="181.8" r="2.65"/><circle cx="659.2" cy="149.5" r="2.65"/><circle cx="659.3" cy="137.7" r="2.65"/><circle cx="659.4" cy="159.0" r="2.65"/><circle cx="659.9" cy="193.0" r="2.65"/><circle cx="659.9" cy="182.4" r="2.65"/><circle cx="660.0" cy="159.2" r="2.65"/><circle cx="660.3" cy="149.2" r="2.65"/><circle cx="660.8" cy="193.0" r="2.65"/><circle cx="660.9" cy="170.8" r="2.65"/><circle cx="660.9" cy="204.0" r="2.65"/><circle cx="660.9" cy="159.0" r="2.65"/><circle cx="661.3" cy="215.1" r="2.65"/><circle cx="661.3" cy="226.1" r="2.65"/><circle cx="661.3" cy="149.6" r="2.65"/><circle cx="661.9" cy="192.6" r="2.65"/><circle cx="662.0" cy="159.2" r="2.65"/><circle cx="662.2" cy="214.9" r="2.65"/><circle cx="662.4" cy="148.1" r="2.65"/><circle cx="662.4" cy="171.2" r="2.65"/><circle cx="662.7" cy="193.4" r="2.65"/><circle cx="662.9" cy="181.7" r="2.65"/><circle cx="663.0" cy="170.7" r="2.65"/><circle cx="663.1" cy="160.2" r="2.65"/><circle cx="663.3" cy="215.1" r="2.65"/><circle cx="663.4" cy="193.1" r="2.65"/><circle cx="663.5" cy="181.7" r="2.65"/><circle cx="663.5" cy="171.3" r="2.65"/><circle cx="663.8" cy="148.8" r="2.65"/><circle cx="664.1" cy="160.1" r="2.65"/><circle cx="664.2" cy="193.0" r="2.65"/><circle cx="664.3" cy="170.7" r="2.65"/><circle cx="664.6" cy="160.4" r="2.65"/><circle cx="664.8" cy="192.7" r="2.65"/><circle cx="664.9" cy="148.8" r="2.65"/><circle cx="665.0" cy="181.6" r="2.65"/><circle cx="665.3" cy="137.7" r="2.65"/><circle cx="665.3" cy="159.0" r="2.65"/><circle cx="665.7" cy="170.9" r="2.65"/><circle cx="665.7" cy="225.7" r="2.65"/><circle cx="665.9" cy="149.0" r="2.65"/><circle cx="666.1" cy="182.1" r="2.65"/><circle cx="666.4" cy="159.0" r="2.65"/><circle cx="666.7" cy="137.4" r="2.65"/><circle cx="666.9" cy="148.6" r="2.65"/><circle cx="667.1" cy="160.3" r="2.65"/><circle cx="667.3" cy="126.6" r="2.65"/><circle cx="667.3" cy="170.8" r="2.65"/><circle cx="667.3" cy="226.1" r="2.65"/><circle cx="667.4" cy="181.7" r="2.65"/><circle cx="667.6" cy="149.1" r="2.65"/><circle cx="667.9" cy="182.1" r="2.65"/><circle cx="668.0" cy="193.1" r="2.65"/><circle cx="668.3" cy="127.1" r="2.65"/><circle cx="668.5" cy="160.2" r="2.65"/><circle cx="668.7" cy="182.4" r="2.65"/><circle cx="668.9" cy="148.1" r="2.65"/><circle cx="668.9" cy="126.5" r="2.65"/><circle cx="669.7" cy="159.6" r="2.65"/><circle cx="669.7" cy="147.9" r="2.65"/><circle cx="669.8" cy="137.6" r="2.65"/><circle cx="669.8" cy="126.3" r="2.65"/><circle cx="670.2" cy="115.5" r="2.65"/><circle cx="670.2" cy="181.9" r="2.65"/><circle cx="670.2" cy="193.0" r="2.65"/><circle cx="670.6" cy="147.9" r="2.65"/><circle cx="671.0" cy="159.4" r="2.65"/><circle cx="671.0" cy="126.1" r="2.65"/><circle cx="671.2" cy="138.0" r="2.65"/><circle cx="671.6" cy="149.1" r="2.65"/><circle cx="671.8" cy="137.2" r="2.65"/><circle cx="672.2" cy="126.6" r="2.65"/><circle cx="672.3" cy="148.2" r="2.65"/><circle cx="672.4" cy="159.7" r="2.65"/><circle cx="673.2" cy="137.6" r="2.65"/><circle cx="673.6" cy="160.2" r="2.65"/><circle cx="673.7" cy="137.6" r="2.65"/><circle cx="673.8" cy="148.8" r="2.65"/><circle cx="674.2" cy="170.8" r="2.65"/><circle cx="674.8" cy="159.7" r="2.65"/><circle cx="675.0" cy="138.0" r="2.65"/><circle cx="675.1" cy="148.5" r="2.65"/><circle cx="675.7" cy="149.2" r="2.65"/><circle cx="675.7" cy="137.3" r="2.65"/><circle cx="676.0" cy="159.7" r="2.65"/><circle cx="676.8" cy="148.7" r="2.65"/><circle cx="677.4" cy="159.1" r="2.65"/><circle cx="677.5" cy="171.2" r="2.65"/><circle cx="677.6" cy="149.6" r="2.65"/><circle cx="677.9" cy="160.2" r="2.65"/><circle cx="678.7" cy="159.9" r="2.65"/><circle cx="678.7" cy="149.3" r="2.65"/><circle cx="678.8" cy="170.6" r="2.65"/><circle cx="679.5" cy="137.9" r="2.65"/><circle cx="679.7" cy="148.4" r="2.65"/><circle cx="679.8" cy="159.9" r="2.65"/><circle cx="680.0" cy="170.8" r="2.65"/><circle cx="680.3" cy="149.3" r="2.65"/><circle cx="680.4" cy="159.5" r="2.65"/><circle cx="680.8" cy="137.8" r="2.65"/><circle cx="681.1" cy="159.4" r="2.65"/><circle cx="681.6" cy="148.3" r="2.65"/><circle cx="681.7" cy="137.7" r="2.65"/><circle cx="682.3" cy="160.1" r="2.65"/><circle cx="682.4" cy="148.6" r="2.65"/><circle cx="682.9" cy="149.1" r="2.65"/><circle cx="683.0" cy="159.8" r="2.65"/><circle cx="683.6" cy="148.4" r="2.65"/><circle cx="684.5" cy="159.5" r="2.65"/><circle cx="684.6" cy="149.0" r="2.65"/><circle cx="685.4" cy="149.5" r="2.65"/><circle cx="685.9" cy="159.1" r="2.65"/><circle cx="686.0" cy="149.3" r="2.65"/><circle cx="686.0" cy="137.7" r="2.65"/><circle cx="686.7" cy="160.4" r="2.65"/><circle cx="687.3" cy="148.1" r="2.65"/><circle cx="688.0" cy="159.2" r="2.65"/><circle cx="688.0" cy="170.8" r="2.65"/><circle cx="688.0" cy="181.9" r="2.65"/><circle cx="688.4" cy="204.0" r="2.65"/><circle cx="688.4" cy="147.9" r="2.65"/><circle cx="688.9" cy="170.8" r="2.65"/><circle cx="689.1" cy="159.7" r="2.65"/><circle cx="689.1" cy="182.1" r="2.65"/><circle cx="689.5" cy="215.1" r="2.65"/><circle cx="689.7" cy="181.5" r="2.65"/><circle cx="690.0" cy="170.7" r="2.65"/><circle cx="690.0" cy="137.7" r="2.65"/><circle cx="690.4" cy="159.1" r="2.65"/><circle cx="690.7" cy="171.3" r="2.65"/><circle cx="691.2" cy="170.7" r="2.65"/><circle cx="691.2" cy="159.3" r="2.65"/><circle cx="692.0" cy="159.2" r="2.65"/><circle cx="692.1" cy="170.9" r="2.65"/><circle cx="692.9" cy="171.1" r="2.65"/><circle cx="692.9" cy="126.6" r="2.65"/><circle cx="693.0" cy="159.1" r="2.65"/><circle cx="693.3" cy="149.0" r="2.65"/><circle cx="693.9" cy="148.1" r="2.65"/><circle cx="693.9" cy="181.9" r="2.65"/><circle cx="693.9" cy="159.5" r="2.65"/><circle cx="694.1" cy="171.2" r="2.65"/><circle cx="694.5" cy="158.9" r="2.65"/><circle cx="694.8" cy="137.8" r="2.65"/><circle cx="694.9" cy="193.0" r="2.65"/><circle cx="695.1" cy="171.3" r="2.65"/><circle cx="695.2" cy="148.5" r="2.65"/><circle cx="695.4" cy="137.4" r="2.65"/><circle cx="695.8" cy="193.4" r="2.65"/><circle cx="695.8" cy="159.0" r="2.65"/><circle cx="695.9" cy="115.5" r="2.65"/><circle cx="696.2" cy="126.7" r="2.65"/><circle cx="696.4" cy="170.4" r="2.65"/><circle cx="696.6" cy="149.3" r="2.65"/><circle cx="696.6" cy="137.3" r="2.65"/><circle cx="696.8" cy="127.1" r="2.65"/><circle cx="696.8" cy="193.3" r="2.65"/><circle cx="697.2" cy="159.9" r="2.65"/><circle cx="697.6" cy="170.4" r="2.65"/><circle cx="697.9" cy="193.0" r="2.65"/><circle cx="698.0" cy="148.9" r="2.65"/><circle cx="698.1" cy="170.9" r="2.65"/><circle cx="698.2" cy="159.7" r="2.65"/><circle cx="698.3" cy="126.2" r="2.65"/><circle cx="699.1" cy="149.4" r="2.65"/><circle cx="699.3" cy="158.9" r="2.65"/><circle cx="699.6" cy="170.9" r="2.65"/><circle cx="699.9" cy="115.5" r="2.65"/><circle cx="700.4" cy="160.0" r="2.65"/><circle cx="700.4" cy="137.8" r="2.65"/><circle cx="700.5" cy="148.2" r="2.65"/><circle cx="700.6" cy="171.0" r="2.65"/><circle cx="700.9" cy="126.9" r="2.65"/><circle cx="701.2" cy="137.8" r="2.65"/><circle cx="701.4" cy="170.6" r="2.65"/><circle cx="701.5" cy="149.2" r="2.65"/><circle cx="701.6" cy="159.3" r="2.65"/><circle cx="701.9" cy="181.9" r="2.65"/><circle cx="702.0" cy="171.3" r="2.65"/><circle cx="702.2" cy="158.9" r="2.65"/><circle cx="702.6" cy="170.4" r="2.65"/><circle cx="702.9" cy="148.8" r="2.65"/><circle cx="702.9" cy="126.6" r="2.65"/><circle cx="702.9" cy="226.1" r="2.65"/><circle cx="703.5" cy="204.0" r="2.65"/><circle cx="703.6" cy="159.4" r="2.65"/><circle cx="703.6" cy="148.1" r="2.65"/><circle cx="704.1" cy="170.8" r="2.65"/><circle cx="704.2" cy="148.7" r="2.65"/><circle cx="704.4" cy="137.6" r="2.65"/><circle cx="704.7" cy="181.9" r="2.65"/><circle cx="704.7" cy="160.4" r="2.65"/><circle cx="704.8" cy="171.3" r="2.65"/><circle cx="705.2" cy="148.7" r="2.65"/><circle cx="705.4" cy="160.3" r="2.65"/><circle cx="705.5" cy="170.4" r="2.65"/><circle cx="705.6" cy="138.1" r="2.65"/><circle cx="705.9" cy="181.7" r="2.65"/><circle cx="706.0" cy="171.2" r="2.65"/><circle cx="706.3" cy="137.4" r="2.65"/><circle cx="706.5" cy="147.8" r="2.65"/><circle cx="706.5" cy="181.5" r="2.65"/><circle cx="706.6" cy="159.5" r="2.65"/><circle cx="706.7" cy="170.9" r="2.65"/><circle cx="707.5" cy="182.1" r="2.65"/><circle cx="707.5" cy="148.8" r="2.65"/><circle cx="707.5" cy="137.5" r="2.65"/><circle cx="707.8" cy="170.5" r="2.65"/><circle cx="707.9" cy="193.0" r="2.65"/><circle cx="707.9" cy="159.5" r="2.65"/><circle cx="708.6" cy="171.2" r="2.65"/><circle cx="708.7" cy="181.5" r="2.65"/><circle cx="708.8" cy="148.5" r="2.65"/><circle cx="708.9" cy="226.1" r="2.65"/><circle cx="709.0" cy="159.6" r="2.65"/><circle cx="709.5" cy="215.1" r="2.65"/><circle cx="709.5" cy="182.2" r="2.65"/><circle cx="709.7" cy="159.0" r="2.65"/><circle cx="709.9" cy="126.6" r="2.65"/><circle cx="709.9" cy="171.3" r="2.65"/><circle cx="710.3" cy="148.0" r="2.65"/><circle cx="710.5" cy="170.7" r="2.65"/><circle cx="710.8" cy="160.4" r="2.65"/><circle cx="711.2" cy="170.9" r="2.65"/><circle cx="711.2" cy="137.8" r="2.65"/><circle cx="711.3" cy="126.9" r="2.65"/><circle cx="711.4" cy="147.9" r="2.65"/><circle cx="712.0" cy="137.8" r="2.65"/><circle cx="712.3" cy="160.6" r="2.65"/><circle cx="712.4" cy="226.3" r="2.65"/><circle cx="712.6" cy="149.5" r="2.65"/><circle cx="712.7" cy="137.2" r="2.65"/><circle cx="713.0" cy="226.2" r="2.65"/><circle cx="713.3" cy="159.2" r="2.65"/><circle cx="713.6" cy="226.5" r="2.65"/><circle cx="713.6" cy="137.9" r="2.65"/><circle cx="714.1" cy="181.6" r="2.65"/><circle cx="714.1" cy="148.7" r="2.65"/><circle cx="714.2" cy="127.0" r="2.65"/><circle cx="714.3" cy="159.0" r="2.65"/><circle cx="714.5" cy="225.9" r="2.65"/><circle cx="715.0" cy="159.7" r="2.65"/><circle cx="715.5" cy="147.9" r="2.65"/><circle cx="715.6" cy="159.0" r="2.65"/><circle cx="715.8" cy="126.6" r="2.65"/><circle cx="715.8" cy="170.8" r="2.65"/><circle cx="715.8" cy="181.9" r="2.65"/><circle cx="716.3" cy="160.2" r="2.65"/><circle cx="716.6" cy="148.4" r="2.65"/><circle cx="716.8" cy="226.1" r="2.65"/><circle cx="717.5" cy="148.7" r="2.65"/><circle cx="718.8" cy="148.2" r="2.65"/><circle cx="718.8" cy="137.7" r="2.65"/><circle cx="719.7" cy="148.8" r="2.65"/><circle cx="720.5" cy="149.3" r="2.65"/><circle cx="720.9" cy="160.4" r="2.65"/><circle cx="721.5" cy="148.3" r="2.65"/><circle cx="721.8" cy="170.8" r="2.65"/><circle cx="721.8" cy="159.4" r="2.65"/><circle cx="722.2" cy="181.9" r="2.65"/><circle cx="722.8" cy="137.7" r="2.65"/><circle cx="722.8" cy="159.6" r="2.65"/><circle cx="723.8" cy="160.1" r="2.65"/><circle cx="723.8" cy="115.5" r="2.65"/><circle cx="723.8" cy="126.6" r="2.65"/><circle cx="723.8" cy="148.7" r="2.65"/><circle cx="723.8" cy="137.4" r="2.65"/><circle cx="724.6" cy="138.0" r="2.65"/><circle cx="725.2" cy="159.2" r="2.65"/><circle cx="726.1" cy="159.9" r="2.65"/><circle cx="726.8" cy="159.0" r="2.65"/><circle cx="727.7" cy="137.9" r="2.65"/><circle cx="727.8" cy="160.6" r="2.65"/><circle cx="727.8" cy="170.8" r="2.65"/><circle cx="728.7" cy="171.0" r="2.65"/><circle cx="729.1" cy="160.6" r="2.65"/><circle cx="730.2" cy="160.4" r="2.65"/><circle cx="731.4" cy="160.0" r="2.65"/><circle cx="731.8" cy="148.7" r="2.65"/><circle cx="732.5" cy="160.6" r="2.65"/><circle cx="732.6" cy="137.7" r="2.65"/><circle cx="732.8" cy="126.6" r="2.65"/><circle cx="733.1" cy="148.4" r="2.65"/><circle cx="733.3" cy="170.5" r="2.65"/><circle cx="733.6" cy="159.4" r="2.65"/><circle cx="733.9" cy="148.9" r="2.65"/><circle cx="734.8" cy="171.3" r="2.65"/><circle cx="735.0" cy="158.9" r="2.65"/><circle cx="735.2" cy="147.9" r="2.65"/><circle cx="735.4" cy="126.8" r="2.65"/><circle cx="735.6" cy="170.7" r="2.65"/><circle cx="735.6" cy="137.6" r="2.65"/><circle cx="736.0" cy="127.0" r="2.65"/><circle cx="736.2" cy="159.7" r="2.65"/><circle cx="736.6" cy="148.8" r="2.65"/><circle cx="736.6" cy="171.3" r="2.65"/><circle cx="737.1" cy="137.3" r="2.65"/><circle cx="737.3" cy="126.2" r="2.65"/><circle cx="737.4" cy="147.8" r="2.65"/><circle cx="737.4" cy="159.6" r="2.65"/><circle cx="737.8" cy="138.1" r="2.65"/><circle cx="737.8" cy="115.5" r="2.65"/><circle cx="737.9" cy="127.0" r="2.65"/><circle cx="738.3" cy="159.8" r="2.65"/><circle cx="738.7" cy="126.7" r="2.65"/><circle cx="738.8" cy="148.9" r="2.65"/><circle cx="739.2" cy="159.1" r="2.65"/><circle cx="739.5" cy="126.2" r="2.65"/><circle cx="739.7" cy="181.9" r="2.65"/><circle cx="740.1" cy="149.5" r="2.65"/><circle cx="740.2" cy="126.2" r="2.65"/><circle cx="740.3" cy="171.2" r="2.65"/><circle cx="740.4" cy="137.2" r="2.65"/><circle cx="740.5" cy="181.4" r="2.65"/><circle cx="740.6" cy="159.9" r="2.65"/><circle cx="741.2" cy="149.0" r="2.65"/><circle cx="741.3" cy="170.4" r="2.65"/><circle cx="741.7" cy="115.5" r="2.65"/><circle cx="741.7" cy="193.0" r="2.65"/><circle cx="741.8" cy="138.1" r="2.65"/><circle cx="741.9" cy="181.6" r="2.65"/><circle cx="741.9" cy="159.3" r="2.65"/><circle cx="742.3" cy="149.1" r="2.65"/><circle cx="742.5" cy="193.4" r="2.65"/><circle cx="742.7" cy="226.1" r="2.65"/><circle cx="742.9" cy="126.3" r="2.65"/><circle cx="743.0" cy="159.3" r="2.65"/><circle cx="743.0" cy="182.1" r="2.65"/><circle cx="743.3" cy="138.1" r="2.65"/><circle cx="743.5" cy="148.7" r="2.65"/><circle cx="743.6" cy="181.5" r="2.65"/><circle cx="743.7" cy="126.9" r="2.65"/><circle cx="743.7" cy="215.1" r="2.65"/><circle cx="744.0" cy="192.5" r="2.65"/><circle cx="744.0" cy="138.1" r="2.65"/><circle cx="744.0" cy="159.3" r="2.65"/><circle cx="744.1" cy="148.2" r="2.65"/><circle cx="744.5" cy="182.1" r="2.65"/><circle cx="744.5" cy="137.8" r="2.65"/><circle cx="744.5" cy="171.2" r="2.65"/><circle cx="744.6" cy="159.8" r="2.65"/><circle cx="745.2" cy="159.6" r="2.65"/><circle cx="745.2" cy="181.5" r="2.65"/><circle cx="745.2" cy="171.3" r="2.65"/><circle cx="745.7" cy="126.6" r="2.65"/><circle cx="745.7" cy="137.7" r="2.65"/><circle cx="745.7" cy="148.7" r="2.65"/><circle cx="746.1" cy="160.4" r="2.65"/><circle cx="747.4" cy="160.3" r="2.65"/><circle cx="748.7" cy="137.7" r="2.65"/><circle cx="748.7" cy="148.7" r="2.65"/><circle cx="748.7" cy="193.0" r="2.65"/><circle cx="748.9" cy="160.2" r="2.65"/><circle cx="749.2" cy="171.3" r="2.65"/><circle cx="749.4" cy="137.2" r="2.65"/><circle cx="749.7" cy="126.6" r="2.65"/><circle cx="749.9" cy="181.5" r="2.65"/><circle cx="749.9" cy="148.5" r="2.65"/><circle cx="750.1" cy="204.0" r="2.65"/><circle cx="750.2" cy="159.6" r="2.65"/><circle cx="750.7" cy="171.0" r="2.65"/><circle cx="750.7" cy="182.1" r="2.65"/><circle cx="751.1" cy="148.8" r="2.65"/><circle cx="751.6" cy="159.9" r="2.65"/><circle cx="751.9" cy="148.6" r="2.65"/><circle cx="752.3" cy="160.3" r="2.65"/><circle cx="752.3" cy="115.5" r="2.65"/><circle cx="752.7" cy="138.1" r="2.65"/><circle cx="752.9" cy="149.0" r="2.65"/><circle cx="753.0" cy="159.6" r="2.65"/><circle cx="753.1" cy="126.1" r="2.65"/><circle cx="753.4" cy="148.9" r="2.65"/><circle cx="754.0" cy="170.8" r="2.65"/><circle cx="754.0" cy="149.3" r="2.65"/><circle cx="755.2" cy="181.7" r="2.65"/><circle cx="755.3" cy="170.5" r="2.65"/><circle cx="755.5" cy="148.6" r="2.65"/><circle cx="755.7" cy="126.6" r="2.65"/><circle cx="756.1" cy="170.4" r="2.65"/><circle cx="756.2" cy="181.5" r="2.65"/><circle cx="756.7" cy="170.9" r="2.65"/><circle cx="756.7" cy="193.0" r="2.65"/><circle cx="757.0" cy="159.3" r="2.65"/><circle cx="757.5" cy="181.7" r="2.65"/><circle cx="757.7" cy="137.7" r="2.65"/><circle cx="757.7" cy="215.1" r="2.65"/><circle cx="757.7" cy="192.6" r="2.65"/><circle cx="757.7" cy="170.8" r="2.65"/><circle cx="758.2" cy="159.7" r="2.65"/><circle cx="758.8" cy="181.6" r="2.65"/><circle cx="758.9" cy="193.2" r="2.65"/><circle cx="758.9" cy="148.9" r="2.65"/><circle cx="759.3" cy="215.1" r="2.65"/><circle cx="759.3" cy="160.5" r="2.65"/><circle cx="759.5" cy="181.8" r="2.65"/><circle cx="760.4" cy="148.7" r="2.65"/><circle cx="760.6" cy="181.9" r="2.65"/><circle cx="760.7" cy="193.0" r="2.65"/><circle cx="760.7" cy="160.5" r="2.65"/><circle cx="761.0" cy="149.0" r="2.65"/><circle cx="761.2" cy="182.1" r="2.65"/><circle cx="761.5" cy="170.4" r="2.65"/><circle cx="761.7" cy="147.9" r="2.65"/><circle cx="761.7" cy="137.7" r="2.65"/><circle cx="761.9" cy="181.4" r="2.65"/><circle cx="762.0" cy="159.5" r="2.65"/><circle cx="762.2" cy="170.9" r="2.65"/><circle cx="762.5" cy="181.9" r="2.65"/><circle cx="763.0" cy="171.0" r="2.65"/><circle cx="763.2" cy="160.4" r="2.65"/><circle cx="763.6" cy="181.9" r="2.65"/><circle cx="763.6" cy="204.0" r="2.65"/><circle cx="763.7" cy="171.3" r="2.65"/><circle cx="764.0" cy="160.2" r="2.65"/><circle cx="764.6" cy="126.6" r="2.65"/><circle cx="765.1" cy="171.2" r="2.65"/><circle cx="765.1" cy="138.0" r="2.65"/><circle cx="765.3" cy="159.0" r="2.65"/><circle cx="765.7" cy="126.3" r="2.65"/><circle cx="765.7" cy="170.4" r="2.65"/><circle cx="765.9" cy="159.9" r="2.65"/><circle cx="765.9" cy="148.0" r="2.65"/><circle cx="766.0" cy="137.2" r="2.65"/><circle cx="766.2" cy="104.5" r="2.65"/><circle cx="766.3" cy="170.8" r="2.65"/><circle cx="766.5" cy="149.4" r="2.65"/><circle cx="766.5" cy="160.6" r="2.65"/><circle cx="766.9" cy="138.1" r="2.65"/><circle cx="766.9" cy="170.8" r="2.65"/><circle cx="767.0" cy="149.1" r="2.65"/><circle cx="767.2" cy="159.2" r="2.65"/><circle cx="767.6" cy="126.6" r="2.65"/><circle cx="768.0" cy="170.9" r="2.65"/><circle cx="768.2" cy="148.2" r="2.65"/><circle cx="768.6" cy="159.9" r="2.65"/><circle cx="769.1" cy="159.1" r="2.65"/><circle cx="769.5" cy="149.1" r="2.65"/><circle cx="769.6" cy="170.8" r="2.65"/><circle cx="769.8" cy="159.9" r="2.65"/><circle cx="770.3" cy="138.1" r="2.65"/><circle cx="770.7" cy="148.0" r="2.65"/><circle cx="771.6" cy="159.8" r="2.65"/><circle cx="771.9" cy="148.7" r="2.65"/><circle cx="772.6" cy="137.7" r="2.65"/><circle cx="772.7" cy="149.6" r="2.65"/><circle cx="773.2" cy="147.9" r="2.65"/><circle cx="773.6" cy="170.8" r="2.65"/><circle cx="774.3" cy="170.5" r="2.65"/><circle cx="774.5" cy="148.0" r="2.65"/><circle cx="775.6" cy="181.9" r="2.65"/><circle cx="775.7" cy="170.9" r="2.65"/><circle cx="775.7" cy="148.1" r="2.65"/><circle cx="776.2" cy="171.3" r="2.65"/><circle cx="776.6" cy="159.8" r="2.65"/><circle cx="776.7" cy="147.9" r="2.65"/><circle cx="777.2" cy="160.5" r="2.65"/><circle cx="777.5" cy="170.9" r="2.65"/><circle cx="777.8" cy="148.6" r="2.65"/><circle cx="778.2" cy="171.1" r="2.65"/><circle cx="778.4" cy="160.3" r="2.65"/><circle cx="778.4" cy="149.3" r="2.65"/><circle cx="778.6" cy="137.7" r="2.65"/><circle cx="778.9" cy="159.5" r="2.65"/><circle cx="779.0" cy="170.4" r="2.65"/><circle cx="779.6" cy="149.0" r="2.65"/><circle cx="779.9" cy="137.2" r="2.65"/><circle cx="779.9" cy="160.5" r="2.65"/><circle cx="780.0" cy="170.6" r="2.65"/><circle cx="780.5" cy="149.2" r="2.65"/><circle cx="780.5" cy="159.2" r="2.65"/><circle cx="780.6" cy="170.9" r="2.65"/><circle cx="781.7" cy="159.6" r="2.65"/><circle cx="781.7" cy="171.1" r="2.65"/><circle cx="781.8" cy="148.9" r="2.65"/><circle cx="782.2" cy="170.6" r="2.65"/><circle cx="782.3" cy="160.4" r="2.65"/><circle cx="782.3" cy="149.6" r="2.65"/><circle cx="782.5" cy="138.1" r="2.65"/><circle cx="783.2" cy="181.9" r="2.65"/><circle cx="783.6" cy="115.5" r="2.65"/><circle cx="783.7" cy="148.4" r="2.65"/><circle cx="783.7" cy="160.0" r="2.65"/><circle cx="783.7" cy="170.4" r="2.65"/><circle cx="784.2" cy="115.3" r="2.65"/><circle cx="784.5" cy="159.3" r="2.65"/><circle cx="784.6" cy="126.6" r="2.65"/><circle cx="784.9" cy="171.2" r="2.65"/><circle cx="785.1" cy="115.2" r="2.65"/><circle cx="785.1" cy="149.3" r="2.65"/><circle cx="785.6" cy="159.0" r="2.65"/><circle cx="785.9" cy="148.6" r="2.65"/><circle cx="786.2" cy="170.8" r="2.65"/><circle cx="786.5" cy="159.7" r="2.65"/><circle cx="786.6" cy="115.5" r="2.65"/><circle cx="786.7" cy="171.3" r="2.65"/><circle cx="786.8" cy="149.1" r="2.65"/><circle cx="786.9" cy="138.1" r="2.65"/><circle cx="787.2" cy="115.2" r="2.65"/><circle cx="787.4" cy="159.5" r="2.65"/><circle cx="787.6" cy="170.4" r="2.65"/><circle cx="787.7" cy="138.1" r="2.65"/><circle cx="788.2" cy="226.1" r="2.65"/><circle cx="788.2" cy="149.3" r="2.65"/><circle cx="788.4" cy="137.9" r="2.65"/><circle cx="788.5" cy="115.5" r="2.65"/><circle cx="788.5" cy="181.9" r="2.65"/><circle cx="788.7" cy="148.3" r="2.65"/><circle cx="788.9" cy="171.0" r="2.65"/><circle cx="789.1" cy="204.0" r="2.65"/><circle cx="789.2" cy="137.2" r="2.65"/><circle cx="789.7" cy="170.5" r="2.65"/><circle cx="789.8" cy="149.3" r="2.65"/><circle cx="790.3" cy="149.3" r="2.65"/><circle cx="790.4" cy="170.7" r="2.65"/><circle cx="790.6" cy="137.8" r="2.65"/><circle cx="791.1" cy="137.4" r="2.65"/><circle cx="791.3" cy="159.5" r="2.65"/><circle cx="791.7" cy="148.9" r="2.65"/><circle cx="791.9" cy="171.1" r="2.65"/><circle cx="792.2" cy="181.6" r="2.65"/><circle cx="792.6" cy="138.1" r="2.65"/><circle cx="792.9" cy="171.1" r="2.65"/><circle cx="793.1" cy="149.3" r="2.65"/><circle cx="793.1" cy="181.5" r="2.65"/><circle cx="793.3" cy="137.6" r="2.65"/><circle cx="794.2" cy="171.0" r="2.65"/><circle cx="794.5" cy="148.5" r="2.65"/><circle cx="794.8" cy="137.4" r="2.65"/><circle cx="795.0" cy="160.7" r="2.65"/><circle cx="795.1" cy="126.6" r="2.65"/><circle cx="795.3" cy="171.2" r="2.65"/><circle cx="795.5" cy="193.0" r="2.65"/><circle cx="795.5" cy="149.3" r="2.65"/><circle cx="795.6" cy="160.1" r="2.65"/><circle cx="795.9" cy="171.1" r="2.65"/><circle cx="796.0" cy="138.0" r="2.65"/><circle cx="796.4" cy="159.8" r="2.65"/><circle cx="796.5" cy="181.9" r="2.65"/><circle cx="796.6" cy="171.3" r="2.65"/><circle cx="796.7" cy="192.5" r="2.65"/><circle cx="796.8" cy="149.5" r="2.65"/><circle cx="797.1" cy="137.5" r="2.65"/><circle cx="797.4" cy="159.8" r="2.65"/><circle cx="797.6" cy="181.5" r="2.65"/><circle cx="797.8" cy="170.5" r="2.65"/><circle cx="797.9" cy="149.0" r="2.65"/><circle cx="798.0" cy="138.0" r="2.65"/><circle cx="798.6" cy="148.3" r="2.65"/><circle cx="798.8" cy="182.0" r="2.65"/><circle cx="798.9" cy="159.0" r="2.65"/><circle cx="799.2" cy="171.3" r="2.65"/><circle cx="799.9" cy="148.7" r="2.65"/><circle cx="800.2" cy="160.5" r="2.65"/><circle cx="800.3" cy="193.4" r="2.65"/><circle cx="800.3" cy="182.3" r="2.65"/><circle cx="800.6" cy="171.2" r="2.65"/><circle cx="801.0" cy="137.9" r="2.65"/><circle cx="801.2" cy="149.2" r="2.65"/><circle cx="801.3" cy="160.0" r="2.65"/><circle cx="801.3" cy="192.5" r="2.65"/><circle cx="801.5" cy="204.0" r="2.65"/><circle cx="801.5" cy="171.2" r="2.65"/><circle cx="802.1" cy="160.3" r="2.65"/><circle cx="802.3" cy="149.4" r="2.65"/><circle cx="802.3" cy="204.5" r="2.65"/><circle cx="802.8" cy="193.1" r="2.65"/><circle cx="802.9" cy="170.6" r="2.65"/><circle cx="803.3" cy="192.7" r="2.65"/><circle cx="803.3" cy="148.7" r="2.65"/><circle cx="803.6" cy="160.1" r="2.65"/><circle cx="803.6" cy="137.2" r="2.65"/><circle cx="803.7" cy="203.8" r="2.65"/><circle cx="803.9" cy="171.3" r="2.65"/><circle cx="804.0" cy="148.2" r="2.65"/><circle cx="804.5" cy="138.2" r="2.65"/><circle cx="804.6" cy="203.8" r="2.65"/><circle cx="804.6" cy="192.6" r="2.65"/><circle cx="804.8" cy="160.2" r="2.65"/><circle cx="805.2" cy="181.9" r="2.65"/><circle cx="805.2" cy="148.5" r="2.65"/><circle cx="805.4" cy="193.4" r="2.65"/><circle cx="805.8" cy="182.3" r="2.65"/><circle cx="806.0" cy="137.4" r="2.65"/><circle cx="806.0" cy="159.5" r="2.65"/><circle cx="806.1" cy="148.8" r="2.65"/><circle cx="806.4" cy="181.7" r="2.65"/><circle cx="806.5" cy="193.0" r="2.65"/><circle cx="806.5" cy="204.0" r="2.65"/><circle cx="806.6" cy="149.6" r="2.65"/><circle cx="806.9" cy="159.0" r="2.65"/><circle cx="807.2" cy="149.0" r="2.65"/><circle cx="807.4" cy="182.1" r="2.65"/><circle cx="807.5" cy="115.5" r="2.65"/><circle cx="807.5" cy="126.6" r="2.65"/><circle cx="807.9" cy="148.9" r="2.65"/><circle cx="808.2" cy="115.1" r="2.65"/><circle cx="808.5" cy="159.8" r="2.65"/><circle cx="808.5" cy="170.8" r="2.65"/><circle cx="808.5" cy="181.9" r="2.65"/><circle cx="808.7" cy="137.7" r="2.65"/><circle cx="808.9" cy="147.9" r="2.65"/><circle cx="809.2" cy="115.2" r="2.65"/><circle cx="809.6" cy="137.4" r="2.65"/><circle cx="810.4" cy="149.4" r="2.65"/><circle cx="810.5" cy="115.5" r="2.65"/><circle cx="810.8" cy="137.8" r="2.65"/><circle cx="811.5" cy="148.3" r="2.65"/><circle cx="811.5" cy="126.6" r="2.65"/><circle cx="812.1" cy="137.8" r="2.65"/><circle cx="812.4" cy="149.5" r="2.65"/><circle cx="813.5" cy="148.7" r="2.65"/><circle cx="813.5" cy="159.8" r="2.65"/><circle cx="814.5" cy="159.6" r="2.65"/><circle cx="815.2" cy="159.5" r="2.65"/><circle cx="815.7" cy="160.5" r="2.65"/><circle cx="816.4" cy="148.7" r="2.65"/><circle cx="816.7" cy="159.9" r="2.65"/><circle cx="816.7" cy="137.5" r="2.65"/><circle cx="817.2" cy="147.9" r="2.65"/><circle cx="817.3" cy="159.0" r="2.65"/><circle cx="817.6" cy="137.9" r="2.65"/><circle cx="817.8" cy="148.0" r="2.65"/><circle cx="818.1" cy="160.2" r="2.65"/><circle cx="818.9" cy="149.4" r="2.65"/><circle cx="819.4" cy="159.8" r="2.65"/><circle cx="820.3" cy="149.5" r="2.65"/><circle cx="820.7" cy="137.4" r="2.65"/><circle cx="821.4" cy="148.5" r="2.65"/><circle cx="822.9" cy="148.3" r="2.65"/><circle cx="823.4" cy="126.6" r="2.65"/><circle cx="824.0" cy="149.6" r="2.65"/><circle cx="824.4" cy="126.9" r="2.65"/><circle cx="824.4" cy="159.8" r="2.65"/><circle cx="824.9" cy="148.6" r="2.65"/><circle cx="825.4" cy="170.8" r="2.65"/><circle cx="825.4" cy="126.8" r="2.65"/><circle cx="825.4" cy="137.7" r="2.65"/><circle cx="825.8" cy="159.9" r="2.65"/><circle cx="826.2" cy="171.2" r="2.65"/><circle cx="826.2" cy="126.9" r="2.65"/><circle cx="826.3" cy="138.2" r="2.65"/><circle cx="826.4" cy="149.6" r="2.65"/><circle cx="826.4" cy="181.9" r="2.65"/><circle cx="826.5" cy="159.9" r="2.65"/><circle cx="826.9" cy="170.8" r="2.65"/><circle cx="826.9" cy="148.3" r="2.65"/><circle cx="827.0" cy="138.0" r="2.65"/><circle cx="827.1" cy="182.1" r="2.65"/><circle cx="827.4" cy="160.3" r="2.65"/><circle cx="827.4" cy="126.5" r="2.65"/><circle cx="827.7" cy="182.4" r="2.65"/><circle cx="827.8" cy="171.3" r="2.65"/><circle cx="828.0" cy="215.1" r="2.65"/><circle cx="828.3" cy="149.5" r="2.65"/><circle cx="828.4" cy="126.6" r="2.65"/><circle cx="828.4" cy="181.4" r="2.65"/><circle cx="828.5" cy="137.3" r="2.65"/><circle cx="828.7" cy="159.0" r="2.65"/><circle cx="828.9" cy="149.2" r="2.65"/><circle cx="829.1" cy="170.7" r="2.65"/><circle cx="829.4" cy="181.4" r="2.65"/><circle cx="829.8" cy="115.5" r="2.65"/><circle cx="829.9" cy="138.0" r="2.65"/><circle cx="830.0" cy="149.6" r="2.65"/><circle cx="830.1" cy="159.4" r="2.65"/><circle cx="830.3" cy="171.0" r="2.65"/><circle cx="830.4" cy="137.5" r="2.65"/><circle cx="830.6" cy="159.2" r="2.65"/><circle cx="830.7" cy="181.9" r="2.65"/><circle cx="830.7" cy="149.2" r="2.65"/><circle cx="831.4" cy="193.0" r="2.65"/><circle cx="831.7" cy="182.0" r="2.65"/><circle cx="831.7" cy="170.8" r="2.65"/><circle cx="831.9" cy="159.3" r="2.65"/><circle cx="831.9" cy="148.4" r="2.65"/><circle cx="832.0" cy="204.0" r="2.65"/><circle cx="832.3" cy="182.2" r="2.65"/><circle cx="832.6" cy="160.0" r="2.65"/><circle cx="833.1" cy="148.0" r="2.65"/><circle cx="833.4" cy="138.1" r="2.65"/><circle cx="833.4" cy="181.9" r="2.65"/><circle cx="833.7" cy="159.2" r="2.65"/><circle cx="833.9" cy="148.1" r="2.65"/><circle cx="834.5" cy="148.3" r="2.65"/><circle cx="834.8" cy="137.5" r="2.65"/><circle cx="835.2" cy="160.0" r="2.65"/><circle cx="835.7" cy="147.9" r="2.65"/><circle cx="835.7" cy="137.4" r="2.65"/><circle cx="835.8" cy="171.2" r="2.65"/><circle cx="836.0" cy="126.6" r="2.65"/><circle cx="836.4" cy="147.9" r="2.65"/><circle cx="836.5" cy="160.5" r="2.65"/><circle cx="836.9" cy="171.2" r="2.65"/><circle cx="837.1" cy="159.2" r="2.65"/><circle cx="837.1" cy="149.5" r="2.65"/><circle cx="837.2" cy="137.3" r="2.65"/><circle cx="837.4" cy="170.8" r="2.65"/><circle cx="838.3" cy="137.4" r="2.65"/><circle cx="838.5" cy="160.0" r="2.65"/><circle cx="838.5" cy="148.1" r="2.65"/><circle cx="839.0" cy="137.4" r="2.65"/><circle cx="839.1" cy="149.5" r="2.65"/><circle cx="839.2" cy="159.5" r="2.65"/><circle cx="839.3" cy="170.8" r="2.65"/><circle cx="840.2" cy="148.6" r="2.65"/><circle cx="840.3" cy="159.6" r="2.65"/><circle cx="841.2" cy="159.0" r="2.65"/><circle cx="841.6" cy="148.7" r="2.65"/><circle cx="841.7" cy="160.0" r="2.65"/><circle cx="842.2" cy="148.2" r="2.65"/><circle cx="842.7" cy="160.0" r="2.65"/><circle cx="843.0" cy="137.8" r="2.65"/><circle cx="843.3" cy="170.8" r="2.65"/><circle cx="843.3" cy="181.9" r="2.65"/><circle cx="843.4" cy="148.8" r="2.65"/><circle cx="843.7" cy="158.9" r="2.65"/><circle cx="844.2" cy="182.3" r="2.65"/><circle cx="844.2" cy="171.0" r="2.65"/><circle cx="844.8" cy="160.7" r="2.65"/><circle cx="844.8" cy="148.3" r="2.65"/><circle cx="844.9" cy="182.0" r="2.65"/><circle cx="845.1" cy="170.6" r="2.65"/><circle cx="845.4" cy="148.3" r="2.65"/><circle cx="845.5" cy="181.6" r="2.65"/><circle cx="845.9" cy="160.2" r="2.65"/><circle cx="846.3" cy="148.1" r="2.65"/><circle cx="846.3" cy="137.7" r="2.65"/><circle cx="846.4" cy="171.0" r="2.65"/><circle cx="846.5" cy="159.2" r="2.65"/><circle cx="847.0" cy="170.6" r="2.65"/><circle cx="847.1" cy="149.5" r="2.65"/><circle cx="847.7" cy="159.1" r="2.65"/><circle cx="847.9" cy="171.0" r="2.65"/><circle cx="848.5" cy="171.0" r="2.65"/><circle cx="848.6" cy="147.9" r="2.65"/><circle cx="848.6" cy="159.9" r="2.65"/><circle cx="849.1" cy="181.6" r="2.65"/><circle cx="849.3" cy="137.7" r="2.65"/><circle cx="849.7" cy="160.1" r="2.65"/><circle cx="849.7" cy="148.2" r="2.65"/><circle cx="850.0" cy="193.0" r="2.65"/><circle cx="850.3" cy="215.1" r="2.65"/><circle cx="850.3" cy="182.0" r="2.65"/><circle cx="850.5" cy="137.4" r="2.65"/><circle cx="850.5" cy="160.2" r="2.65"/><circle cx="850.5" cy="148.3" r="2.65"/><circle cx="850.9" cy="193.2" r="2.65"/><circle cx="851.2" cy="138.0" r="2.65"/><circle cx="851.2" cy="182.1" r="2.65"/><circle cx="851.4" cy="149.6" r="2.65"/><circle cx="851.7" cy="137.3" r="2.65"/><circle cx="851.7" cy="160.3" r="2.65"/><circle cx="852.3" cy="215.1" r="2.65"/><circle cx="852.6" cy="160.3" r="2.65"/><circle cx="852.8" cy="137.8" r="2.65"/><circle cx="852.8" cy="148.0" r="2.65"/><circle cx="853.1" cy="170.5" r="2.65"/><circle cx="853.3" cy="126.6" r="2.65"/><circle cx="853.5" cy="159.4" r="2.65"/><circle cx="854.2" cy="147.9" r="2.65"/><circle cx="854.6" cy="170.7" r="2.65"/><circle cx="854.9" cy="159.1" r="2.65"/><circle cx="855.0" cy="149.6" r="2.65"/><circle cx="855.5" cy="193.5" r="2.65"/><circle cx="855.7" cy="137.9" r="2.65"/><circle cx="856.0" cy="171.0" r="2.65"/><circle cx="856.1" cy="181.6" r="2.65"/><circle cx="856.5" cy="137.5" r="2.65"/><circle cx="856.8" cy="170.8" r="2.65"/><circle cx="857.1" cy="182.4" r="2.65"/><circle cx="857.3" cy="137.7" r="2.65"/><circle cx="857.9" cy="171.3" r="2.65"/><circle cx="858.2" cy="138.0" r="2.65"/><circle cx="858.6" cy="182.0" r="2.65"/><circle cx="858.6" cy="160.1" r="2.65"/><circle cx="859.1" cy="137.4" r="2.65"/><circle cx="859.2" cy="170.5" r="2.65"/><circle cx="859.5" cy="160.7" r="2.65"/><circle cx="859.5" cy="148.4" r="2.65"/><circle cx="859.7" cy="170.5" r="2.65"/><circle cx="859.8" cy="137.2" r="2.65"/><circle cx="859.9" cy="181.6" r="2.65"/><circle cx="860.0" cy="149.3" r="2.65"/><circle cx="860.3" cy="193.0" r="2.65"/><circle cx="860.6" cy="171.2" r="2.65"/><circle cx="860.7" cy="138.0" r="2.65"/><circle cx="860.7" cy="148.6" r="2.65"/><circle cx="860.8" cy="159.1" r="2.65"/><circle cx="860.9" cy="181.6" r="2.65"/><circle cx="861.4" cy="159.0" r="2.65"/><circle cx="861.4" cy="148.9" r="2.65"/><circle cx="861.5" cy="170.5" r="2.65"/><circle cx="862.0" cy="181.9" r="2.65"/><circle cx="862.1" cy="137.6" r="2.65"/><circle cx="862.1" cy="149.2" r="2.65"/><circle cx="862.4" cy="159.2" r="2.65"/><circle cx="862.8" cy="148.0" r="2.65"/><circle cx="862.9" cy="170.9" r="2.65"/><circle cx="863.3" cy="159.2" r="2.65"/><circle cx="863.9" cy="148.7" r="2.65"/><circle cx="864.6" cy="160.5" r="2.65"/><circle cx="864.6" cy="137.7" r="2.65"/><circle cx="864.6" cy="148.9" r="2.65"/><circle cx="865.1" cy="160.3" r="2.65"/><circle cx="865.2" cy="170.8" r="2.65"/><circle cx="865.9" cy="148.9" r="2.65"/><circle cx="866.0" cy="137.3" r="2.65"/><circle cx="866.5" cy="149.1" r="2.65"/><circle cx="866.6" cy="159.8" r="2.65"/><circle cx="866.9" cy="137.7" r="2.65"/><circle cx="867.4" cy="160.3" r="2.65"/><circle cx="867.7" cy="147.9" r="2.65"/><circle cx="868.2" cy="160.5" r="2.65"/><circle cx="868.6" cy="149.3" r="2.65"/><circle cx="869.5" cy="159.0" r="2.65"/><circle cx="869.6" cy="147.9" r="2.65"/><circle cx="870.1" cy="137.7" r="2.65"/><circle cx="870.2" cy="170.8" r="2.65"/><circle cx="870.4" cy="160.4" r="2.65"/><circle cx="870.5" cy="149.4" r="2.65"/><circle cx="870.7" cy="137.7" r="2.65"/><circle cx="871.2" cy="149.3" r="2.65"/><circle cx="871.4" cy="170.4" r="2.65"/><circle cx="871.4" cy="159.6" r="2.65"/><circle cx="871.9" cy="148.5" r="2.65"/><circle cx="871.9" cy="181.9" r="2.65"/><circle cx="872.2" cy="137.4" r="2.65"/><circle cx="872.3" cy="171.3" r="2.65"/><circle cx="872.4" cy="148.8" r="2.65"/><circle cx="872.7" cy="182.1" r="2.65"/><circle cx="872.9" cy="160.0" r="2.65"/><circle cx="873.4" cy="148.0" r="2.65"/><circle cx="873.5" cy="171.0" r="2.65"/><circle cx="873.6" cy="159.4" r="2.65"/><circle cx="874.0" cy="193.0" r="2.65"/><circle cx="874.4" cy="159.3" r="2.65"/><circle cx="874.5" cy="171.0" r="2.65"/><circle cx="874.6" cy="192.8" r="2.65"/><circle cx="874.7" cy="149.4" r="2.65"/><circle cx="875.5" cy="170.7" r="2.65"/><circle cx="875.5" cy="159.4" r="2.65"/><circle cx="875.9" cy="148.5" r="2.65"/><circle cx="876.0" cy="171.2" r="2.65"/><circle cx="876.1" cy="193.5" r="2.65"/><circle cx="876.2" cy="181.6" r="2.65"/><circle cx="876.2" cy="159.9" r="2.65"/><circle cx="876.5" cy="149.4" r="2.65"/><circle cx="876.5" cy="204.0" r="2.65"/><circle cx="876.7" cy="182.0" r="2.65"/><circle cx="877.0" cy="138.1" r="2.65"/><circle cx="877.1" cy="170.8" r="2.65"/><circle cx="877.2" cy="193.1" r="2.65"/><circle cx="877.5" cy="148.8" r="2.65"/><circle cx="877.5" cy="204.5" r="2.65"/><circle cx="877.6" cy="160.5" r="2.65"/><circle cx="877.6" cy="138.1" r="2.65"/><circle cx="877.6" cy="182.0" r="2.65"/><circle cx="877.9" cy="237.2" r="2.65"/><circle cx="878.3" cy="181.7" r="2.65"/><circle cx="878.5" cy="193.0" r="2.65"/><circle cx="878.5" cy="171.1" r="2.65"/><circle cx="878.5" cy="147.9" r="2.65"/><circle cx="878.8" cy="160.4" r="2.65"/><circle cx="879.0" cy="204.1" r="2.65"/><circle cx="879.0" cy="137.8" r="2.65"/><circle cx="879.0" cy="170.7" r="2.65"/><circle cx="879.2" cy="148.2" r="2.65"/><circle cx="879.5" cy="204.0" r="2.65"/><circle cx="879.7" cy="159.8" r="2.65"/><circle cx="879.7" cy="138.0" r="2.65"/><circle cx="879.9" cy="192.7" r="2.65"/><circle cx="880.0" cy="149.3" r="2.65"/><circle cx="880.3" cy="160.1" r="2.65"/><circle cx="880.6" cy="149.1" r="2.65"/><circle cx="880.7" cy="204.5" r="2.65"/><circle cx="880.9" cy="126.6" r="2.65"/><circle cx="881.3" cy="159.9" r="2.65"/><circle cx="881.7" cy="204.2" r="2.65"/><circle cx="881.9" cy="137.7" r="2.65"/><circle cx="881.9" cy="148.7" r="2.65"/><circle cx="882.0" cy="160.5" r="2.65"/><circle cx="882.7" cy="192.6" r="2.65"/><circle cx="882.9" cy="204.5" r="2.65"/><circle cx="883.2" cy="181.6" r="2.65"/><circle cx="883.3" cy="160.4" r="2.65"/><circle cx="883.9" cy="171.2" r="2.65"/><circle cx="884.0" cy="192.6" r="2.65"/><circle cx="884.6" cy="160.7" r="2.65"/><circle cx="885.1" cy="193.0" r="2.65"/><circle cx="885.9" cy="159.8" r="2.65"/><circle cx="885.9" cy="237.2" r="2.65"/><circle cx="886.0" cy="215.1" r="2.65"/><circle cx="886.0" cy="226.1" r="2.65"/><circle cx="886.2" cy="192.5" r="2.65"/><circle cx="886.2" cy="204.4" r="2.65"/><circle cx="886.3" cy="259.3" r="2.65"/><circle cx="886.9" cy="237.5" r="2.65"/><circle cx="886.9" cy="170.8" r="2.65"/><circle cx="887.0" cy="182.0" r="2.65"/><circle cx="887.2" cy="226.6" r="2.65"/><circle cx="887.5" cy="181.6" r="2.65"/><circle cx="888.4" cy="237.6" r="2.65"/><circle cx="888.6" cy="181.9" r="2.65"/><circle cx="888.7" cy="226.1" r="2.65"/><circle cx="888.9" cy="215.0" r="2.65"/><circle cx="889.2" cy="226.1" r="2.65"/><circle cx="889.7" cy="192.7" r="2.65"/><circle cx="889.8" cy="237.2" r="2.65"/><circle cx="889.9" cy="215.1" r="2.65"/><circle cx="890.0" cy="182.1" r="2.65"/><circle cx="890.5" cy="193.3" r="2.65"/><circle cx="890.6" cy="214.6" r="2.65"/><circle cx="890.7" cy="203.6" r="2.65"/><circle cx="890.8" cy="281.4" r="2.65"/><circle cx="891.1" cy="192.9" r="2.65"/><circle cx="891.2" cy="248.3" r="2.65"/><circle cx="891.2" cy="270.4" r="2.65"/><circle cx="891.5" cy="181.7" r="2.65"/><circle cx="891.9" cy="193.2" r="2.65"/><circle cx="892.0" cy="203.8" r="2.65"/><circle cx="892.0" cy="226.5" r="2.65"/><circle cx="892.0" cy="214.9" r="2.65"/><circle cx="892.4" cy="181.5" r="2.65"/><circle cx="892.7" cy="204.2" r="2.65"/><circle cx="892.8" cy="159.8" r="2.65"/><circle cx="892.8" cy="170.8" r="2.65"/><circle cx="892.9" cy="215.3" r="2.65"/><circle cx="893.0" cy="181.4" r="2.65"/><circle cx="893.1" cy="193.3" r="2.65"/><circle cx="893.3" cy="170.7" r="2.65"/><circle cx="893.8" cy="182.4" r="2.65"/><circle cx="893.8" cy="203.9" r="2.65"/><circle cx="894.1" cy="193.4" r="2.65"/><circle cx="894.1" cy="214.6" r="2.65"/><circle cx="894.5" cy="170.6" r="2.65"/><circle cx="894.7" cy="181.9" r="2.65"/><circle cx="894.7" cy="192.5" r="2.65"/><circle cx="895.2" cy="226.2" r="2.65"/><circle cx="895.3" cy="204.3" r="2.65"/><circle cx="895.3" cy="170.9" r="2.65"/><circle cx="895.8" cy="225.8" r="2.65"/><circle cx="896.0" cy="182.1" r="2.65"/><circle cx="896.0" cy="204.0" r="2.65"/><circle cx="896.6" cy="181.7" r="2.65"/><circle cx="896.7" cy="225.7" r="2.65"/><circle cx="896.8" cy="171.0" r="2.65"/><circle cx="896.9" cy="204.3" r="2.65"/><circle cx="897.2" cy="215.0" r="2.65"/><circle cx="897.5" cy="226.6" r="2.65"/><circle cx="897.7" cy="182.2" r="2.65"/><circle cx="897.7" cy="159.3" r="2.65"/><circle cx="897.9" cy="204.3" r="2.65"/><circle cx="897.9" cy="170.7" r="2.65"/><circle cx="898.0" cy="215.6" r="2.65"/><circle cx="898.1" cy="192.6" r="2.65"/><circle cx="898.4" cy="203.8" r="2.65"/><circle cx="898.8" cy="159.8" r="2.65"/><circle cx="899.0" cy="192.8" r="2.65"/><circle cx="899.1" cy="215.6" r="2.65"/><circle cx="899.8" cy="170.8" r="2.65"/><circle cx="899.8" cy="181.9" r="2.65"/><circle cx="899.8" cy="237.2" r="2.65"/><circle cx="899.9" cy="203.7" r="2.65"/><circle cx="900.2" cy="215.4" r="2.65"/><circle cx="900.5" cy="225.7" r="2.65"/><circle cx="900.8" cy="237.5" r="2.65"/><circle cx="900.8" cy="215.5" r="2.65"/><circle cx="900.8" cy="204.1" r="2.65"/><circle cx="900.8" cy="193.0" r="2.65"/><circle cx="900.8" cy="248.3" r="2.65"/><circle cx="901.3" cy="203.9" r="2.65"/><circle cx="901.8" cy="259.3" r="2.65"/><circle cx="901.8" cy="214.7" r="2.65"/><circle cx="902.0" cy="226.4" r="2.65"/><circle cx="902.0" cy="203.8" r="2.65"/><circle cx="902.0" cy="248.3" r="2.65"/><circle cx="902.1" cy="237.0" r="2.65"/><circle cx="902.5" cy="248.0" r="2.65"/><circle cx="902.7" cy="215.2" r="2.65"/><circle cx="903.0" cy="203.7" r="2.65"/><circle cx="903.1" cy="237.3" r="2.65"/><circle cx="903.1" cy="259.5" r="2.65"/><circle cx="903.5" cy="248.7" r="2.65"/><circle cx="904.0" cy="203.7" r="2.65"/><circle cx="904.1" cy="215.0" r="2.65"/><circle cx="904.5" cy="248.8" r="2.65"/><circle cx="904.6" cy="259.7" r="2.65"/><circle cx="905.4" cy="203.7" r="2.65"/><circle cx="905.5" cy="214.8" r="2.65"/><circle cx="905.5" cy="259.3" r="2.65"/><circle cx="905.8" cy="248.3" r="2.65"/><circle cx="905.8" cy="226.0" r="2.65"/><circle cx="906.5" cy="215.6" r="2.65"/><circle cx="906.7" cy="203.8" r="2.65"/><circle cx="906.8" cy="237.2" r="2.65"/><circle cx="906.8" cy="259.3" r="2.65"/><circle cx="907.0" cy="226.3" r="2.65"/><circle cx="907.8" cy="193.0" r="2.65"/><circle cx="907.8" cy="215.1" r="2.65"/><circle cx="908.5" cy="192.8" r="2.65"/><circle cx="908.8" cy="148.7" r="2.65"/><circle cx="908.8" cy="226.1" r="2.65"/><circle cx="909.8" cy="159.8" r="2.65"/><circle cx="909.8" cy="181.9" r="2.65"/><circle cx="909.8" cy="204.0" r="2.65"/><circle cx="909.9" cy="193.2" r="2.65"/><circle cx="909.9" cy="148.8" r="2.65"/><circle cx="910.4" cy="182.3" r="2.65"/><circle cx="910.5" cy="149.1" r="2.65"/><circle cx="910.5" cy="192.5" r="2.65"/><circle cx="910.8" cy="170.8" r="2.65"/><circle cx="911.0" cy="148.4" r="2.65"/><circle cx="911.1" cy="182.1" r="2.65"/><circle cx="911.8" cy="181.8" r="2.65"/><circle cx="911.8" cy="137.7" r="2.65"/><circle cx="912.7" cy="148.7" r="2.65"/><circle cx="912.7" cy="237.2" r="2.65"/><circle cx="913.4" cy="237.6" r="2.65"/><circle cx="913.7" cy="181.9" r="2.65"/><circle cx="913.7" cy="204.0" r="2.65"/><circle cx="913.7" cy="215.1" r="2.65"/><circle cx="913.7" cy="226.1" r="2.65"/><circle cx="914.3" cy="215.0" r="2.65"/><circle cx="914.3" cy="204.3" r="2.65"/><circle cx="914.6" cy="226.2" r="2.65"/><circle cx="914.6" cy="237.4" r="2.65"/><circle cx="914.7" cy="193.0" r="2.65"/><circle cx="915.4" cy="204.4" r="2.65"/><circle cx="915.5" cy="215.4" r="2.65"/><circle cx="915.7" cy="248.3" r="2.65"/><circle cx="916.0" cy="236.8" r="2.65"/><circle cx="916.3" cy="248.6" r="2.65"/><circle cx="916.3" cy="204.4" r="2.65"/><circle cx="916.7" cy="237.3" r="2.65"/><circle cx="917.1" cy="204.2" r="2.65"/><circle cx="917.2" cy="236.8" r="2.65"/><circle cx="918.1" cy="226.6" r="2.65"/><circle cx="918.2" cy="237.2" r="2.65"/><circle cx="918.4" cy="204.1" r="2.65"/><circle cx="918.8" cy="237.2" r="2.65"/><circle cx="919.1" cy="226.4" r="2.65"/><circle cx="919.2" cy="204.1" r="2.65"/><circle cx="919.3" cy="236.8" r="2.65"/><circle cx="920.2" cy="214.9" r="2.65"/><circle cx="920.4" cy="226.0" r="2.65"/><circle cx="920.7" cy="193.0" r="2.65"/><circle cx="920.7" cy="237.2" r="2.65"/><circle cx="920.7" cy="248.3" r="2.65"/><circle cx="921.1" cy="226.3" r="2.65"/><circle cx="921.2" cy="215.5" r="2.65"/><circle cx="921.4" cy="193.1" r="2.65"/><circle cx="921.7" cy="181.9" r="2.65"/><circle cx="921.9" cy="214.7" r="2.65"/><circle cx="922.5" cy="214.8" r="2.65"/><circle cx="922.7" cy="170.8" r="2.65"/><circle cx="923.5" cy="170.5" r="2.65"/><circle cx="923.6" cy="215.5" r="2.65"/><circle cx="923.8" cy="204.4" r="2.65"/><circle cx="924.1" cy="225.8" r="2.65"/><circle cx="924.5" cy="215.1" r="2.65"/><circle cx="924.7" cy="159.8" r="2.65"/><circle cx="924.8" cy="171.1" r="2.65"/><circle cx="925.0" cy="204.2" r="2.65"/><circle cx="925.1" cy="192.8" r="2.65"/><circle cx="925.3" cy="225.7" r="2.65"/><circle cx="925.4" cy="170.9" r="2.65"/><circle cx="925.9" cy="226.6" r="2.65"/><circle cx="926.1" cy="182.0" r="2.65"/><circle cx="926.1" cy="171.1" r="2.65"/><circle cx="926.9" cy="170.4" r="2.65"/><circle cx="927.0" cy="226.5" r="2.65"/><circle cx="927.2" cy="182.2" r="2.65"/><circle cx="927.7" cy="215.5" r="2.65"/><circle cx="927.8" cy="171.3" r="2.65"/><circle cx="927.9" cy="226.5" r="2.65"/><circle cx="928.5" cy="170.7" r="2.65"/><circle cx="928.7" cy="215.2" r="2.65"/><circle cx="929.2" cy="170.7" r="2.65"/><circle cx="929.5" cy="204.3" r="2.65"/><circle cx="929.5" cy="193.2" r="2.65"/><circle cx="929.8" cy="170.6" r="2.65"/><circle cx="930.1" cy="203.8" r="2.65"/><circle cx="930.1" cy="193.1" r="2.65"/><circle cx="930.2" cy="215.2" r="2.65"/><circle cx="930.7" cy="171.3" r="2.65"/><circle cx="930.7" cy="237.2" r="2.65"/><circle cx="930.7" cy="248.3" r="2.65"/><circle cx="930.9" cy="182.1" r="2.65"/><circle cx="931.0" cy="204.3" r="2.65"/><circle cx="931.3" cy="192.6" r="2.65"/><circle cx="931.4" cy="171.3" r="2.65"/><circle cx="931.6" cy="203.9" r="2.65"/><circle cx="931.8" cy="192.7" r="2.65"/><circle cx="932.1" cy="181.6" r="2.65"/><circle cx="932.3" cy="203.6" r="2.65"/><circle cx="932.4" cy="226.3" r="2.65"/><circle cx="932.5" cy="192.6" r="2.65"/><circle cx="932.7" cy="171.0" r="2.65"/><circle cx="932.9" cy="204.2" r="2.65"/><circle cx="933.0" cy="225.7" r="2.65"/><circle cx="933.3" cy="181.6" r="2.65"/><circle cx="933.5" cy="170.5" r="2.65"/><circle cx="934.0" cy="192.8" r="2.65"/><circle cx="934.5" cy="170.9" r="2.65"/><circle cx="934.7" cy="226.1" r="2.65"/><circle cx="934.8" cy="181.6" r="2.65"/><circle cx="935.2" cy="192.7" r="2.65"/><circle cx="935.7" cy="215.1" r="2.65"/><circle cx="935.8" cy="170.6" r="2.65"/><circle cx="936.3" cy="182.3" r="2.65"/><circle cx="936.4" cy="192.9" r="2.65"/><circle cx="936.7" cy="159.8" r="2.65"/><circle cx="936.7" cy="204.0" r="2.65"/><circle cx="937.0" cy="126.6" r="2.65"/><circle cx="937.0" cy="148.7" r="2.65"/><circle cx="937.6" cy="170.8" r="2.65"/><circle cx="937.6" cy="181.9" r="2.65"/><circle cx="937.6" cy="193.0" r="2.65"/></g><rect x="85.5" y="60" width="853.5" height="277" fill="none" stroke="#555" stroke-width="1.8"/><line x1="516" y1="273.5" x2="863" y2="273.5" stroke="#e8141c" stroke-width="3" stroke-linecap="round"/><line x1="867.5" y1="289" x2="938" y2="289" stroke="#e8141c" stroke-width="3" stroke-linecap="round"/><rect x="93.5" y="318.5" width="13" height="10" fill="#fff" stroke="#ccc" stroke-width="1"/><rect x="95" y="319" width="11" height="8" fill="#000"/></svg>
<div style="position:absolute;left:0;width:1024px;top:4.4px;text-align:center;font-weight:bold;font-size:26.9px;line-height:32px;color:#000;font-family:'Liberation Sans',sans-serif;">Light Curve for T CRB</div>
<div style="position:absolute;right:943px;top:54.8px;font-size:11px;line-height:13px;color:#666;font-family:'Liberation Sans',sans-serif;">9.0</div><div style="position:absolute;right:943px;top:110.0px;font-size:11px;line-height:13px;color:#666;font-family:'Liberation Sans',sans-serif;">9.5</div><div style="position:absolute;right:943px;top:165.3px;font-size:11px;line-height:13px;color:#666;font-family:'Liberation Sans',sans-serif;">10.0</div><div style="position:absolute;right:943px;top:220.6px;font-size:11px;line-height:13px;color:#666;font-family:'Liberation Sans',sans-serif;">10.5</div><div style="position:absolute;right:943px;top:275.9px;font-size:11px;line-height:13px;color:#666;font-family:'Liberation Sans',sans-serif;">11.0</div><div style="position:absolute;right:943px;top:331.2px;font-size:11px;line-height:13px;color:#666;font-family:'Liberation Sans',sans-serif;">11.5</div><div style="position:absolute;left:136.3px;width:80px;text-align:center;top:340.8px;font-size:11.2px;line-height:13px;color:#666;font-family:'Liberation Sans',sans-serif;">01-01-2008</div><div style="position:absolute;left:228.0px;width:80px;text-align:center;top:340.8px;font-size:11.2px;line-height:13px;color:#666;font-family:'Liberation Sans',sans-serif;">01-01-2010</div><div style="position:absolute;left:319.6px;width:80px;text-align:center;top:340.8px;font-size:11.2px;line-height:13px;color:#666;font-family:'Liberation Sans',sans-serif;">01-01-2012</div><div style="position:absolute;left:411.3px;width:80px;text-align:center;top:340.8px;font-size:11.2px;line-height:13px;color:#666;font-family:'Liberation Sans',sans-serif;">01-01-2014</div><div style="position:absolute;left:502.9px;width:80px;text-align:center;top:340.8px;font-size:11.2px;line-height:13px;color:#666;font-family:'Liberation Sans',sans-serif;">01-01-2016</div><div style="position:absolute;left:594.5px;width:80px;text-align:center;top:340.8px;font-size:11.2px;line-height:13px;color:#666;font-family:'Liberation Sans',sans-serif;">01-01-2018</div><div style="position:absolute;left:686.2px;width:80px;text-align:center;top:340.8px;font-size:11.2px;line-height:13px;color:#666;font-family:'Liberation Sans',sans-serif;">01-01-2020</div><div style="position:absolute;left:777.9px;width:80px;text-align:center;top:340.8px;font-size:11.2px;line-height:13px;color:#666;font-family:'Liberation Sans',sans-serif;">01-01-2022</div><div style="position:absolute;left:869.5px;width:80px;text-align:center;top:340.8px;font-size:11.2px;line-height:13px;color:#666;font-family:'Liberation Sans',sans-serif;">01-01-2024</div>
<div style="position:absolute;left:110.5px;top:317px;font-size:11px;line-height:13px;color:#555;font-family:'Liberation Sans',sans-serif;">Visual</div>
<div style="position:absolute;left:561px;top:284.8px;font-weight:bold;font-size:13px;line-height:16px;color:#e8303a;font-family:'Liberation Sans',sans-serif;">Super active state</div>
<div style="position:absolute;left:895.5px;top:295.5px;font-weight:bold;font-size:12px;line-height:14px;color:#e8303a;font-family:'Liberation Sans',sans-serif;">Dip</div>
<div style="position:absolute;left:7.6px;top:398px;width:1016px;font-size:13.43px;line-height:15.5px;color:#000;white-space:nowrap;font-family:'Liberation Sans',sans-serif;"><span style="text-decoration:underline;color:#222">Contributors:</span>&nbsp;&nbsp; P G Abel, S W Albrighton, C M Allen, B J Beesley, C M Briden, L K Brundle, J T Bryan, R C Dryden, M J Gainsford, K Griffiths, R K Hunt, G M Hurst, R D<br>Januszewski, C P Jones, M L Joslin, C Knight, C Mann, T Markham, J Meacham, R A H Paterson, R Pearce, G Poyner, T G Saville, D Scanlan, J D Shanklin, J Shears, G<br>Stefanopoulos, D Storey, M D Taylor, J Toone, T Vale, N White, P B Withers, W J Worraker</div>
</body></html>
